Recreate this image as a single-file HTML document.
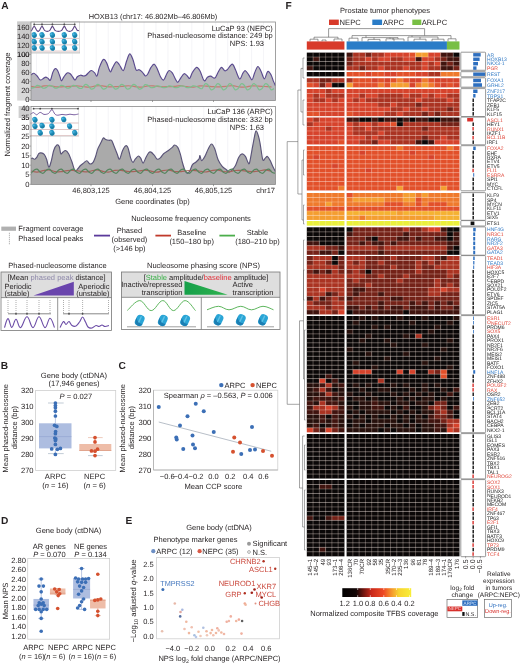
<!DOCTYPE html>
<html><head><meta charset="utf-8"><title>Figure</title>
<style>
html,body{margin:0;padding:0;background:#fff;}
body{width:520px;height:665px;overflow:hidden;}
svg{display:block;font-family:'Liberation Sans', Arial, sans-serif;text-rendering:geometricPrecision;fill:#231f20;}
</style></head><body>
<svg width="520" height="665" viewBox="0 0 520 665">
<rect x="0" y="0" width="520" height="665" fill="#fff"/>
<text x="1.2" y="9.2" font-size="10.2" font-weight="bold">A</text>
<text x="153" y="18.6" font-size="7.4" text-anchor="middle">HOXB13 (chr17: 46.802Mb–46.806Mb)</text>
<line x1="36.5" y1="22" x2="36.5" y2="100.4" stroke="#ececf2" stroke-width="0.6"/>
<line x1="48.45" y1="22" x2="48.45" y2="100.4" stroke="#ececf2" stroke-width="0.6"/>
<line x1="60.4" y1="22" x2="60.4" y2="100.4" stroke="#ececf2" stroke-width="0.6"/>
<line x1="72.35" y1="22" x2="72.35" y2="100.4" stroke="#ececf2" stroke-width="0.6"/>
<line x1="84.3" y1="22" x2="84.3" y2="100.4" stroke="#ececf2" stroke-width="0.6"/>
<line x1="96.25" y1="22" x2="96.25" y2="100.4" stroke="#ececf2" stroke-width="0.6"/>
<line x1="108.2" y1="22" x2="108.2" y2="100.4" stroke="#ececf2" stroke-width="0.6"/>
<line x1="120.15" y1="22" x2="120.15" y2="100.4" stroke="#ececf2" stroke-width="0.6"/>
<line x1="132.1" y1="22" x2="132.1" y2="100.4" stroke="#ececf2" stroke-width="0.6"/>
<line x1="144.05" y1="22" x2="144.05" y2="100.4" stroke="#ececf2" stroke-width="0.6"/>
<line x1="156" y1="22" x2="156" y2="100.4" stroke="#ececf2" stroke-width="0.6"/>
<line x1="167.95" y1="22" x2="167.95" y2="100.4" stroke="#ececf2" stroke-width="0.6"/>
<line x1="179.9" y1="22" x2="179.9" y2="100.4" stroke="#ececf2" stroke-width="0.6"/>
<line x1="191.85" y1="22" x2="191.85" y2="100.4" stroke="#ececf2" stroke-width="0.6"/>
<line x1="203.8" y1="22" x2="203.8" y2="100.4" stroke="#ececf2" stroke-width="0.6"/>
<line x1="215.75" y1="22" x2="215.75" y2="100.4" stroke="#ececf2" stroke-width="0.6"/>
<line x1="227.7" y1="22" x2="227.7" y2="100.4" stroke="#ececf2" stroke-width="0.6"/>
<line x1="239.65" y1="22" x2="239.65" y2="100.4" stroke="#ececf2" stroke-width="0.6"/>
<line x1="251.6" y1="22" x2="251.6" y2="100.4" stroke="#ececf2" stroke-width="0.6"/>
<line x1="263.55" y1="22" x2="263.55" y2="100.4" stroke="#ececf2" stroke-width="0.6"/>
<line x1="36.5" y1="106.4" x2="36.5" y2="184.4" stroke="#ececf2" stroke-width="0.6"/>
<line x1="48.45" y1="106.4" x2="48.45" y2="184.4" stroke="#ececf2" stroke-width="0.6"/>
<line x1="60.4" y1="106.4" x2="60.4" y2="184.4" stroke="#ececf2" stroke-width="0.6"/>
<line x1="72.35" y1="106.4" x2="72.35" y2="184.4" stroke="#ececf2" stroke-width="0.6"/>
<line x1="84.3" y1="106.4" x2="84.3" y2="184.4" stroke="#ececf2" stroke-width="0.6"/>
<line x1="96.25" y1="106.4" x2="96.25" y2="184.4" stroke="#ececf2" stroke-width="0.6"/>
<line x1="108.2" y1="106.4" x2="108.2" y2="184.4" stroke="#ececf2" stroke-width="0.6"/>
<line x1="120.15" y1="106.4" x2="120.15" y2="184.4" stroke="#ececf2" stroke-width="0.6"/>
<line x1="132.1" y1="106.4" x2="132.1" y2="184.4" stroke="#ececf2" stroke-width="0.6"/>
<line x1="144.05" y1="106.4" x2="144.05" y2="184.4" stroke="#ececf2" stroke-width="0.6"/>
<line x1="156" y1="106.4" x2="156" y2="184.4" stroke="#ececf2" stroke-width="0.6"/>
<line x1="167.95" y1="106.4" x2="167.95" y2="184.4" stroke="#ececf2" stroke-width="0.6"/>
<line x1="179.9" y1="106.4" x2="179.9" y2="184.4" stroke="#ececf2" stroke-width="0.6"/>
<line x1="191.85" y1="106.4" x2="191.85" y2="184.4" stroke="#ececf2" stroke-width="0.6"/>
<line x1="203.8" y1="106.4" x2="203.8" y2="184.4" stroke="#ececf2" stroke-width="0.6"/>
<line x1="215.75" y1="106.4" x2="215.75" y2="184.4" stroke="#ececf2" stroke-width="0.6"/>
<line x1="227.7" y1="106.4" x2="227.7" y2="184.4" stroke="#ececf2" stroke-width="0.6"/>
<line x1="239.65" y1="106.4" x2="239.65" y2="184.4" stroke="#ececf2" stroke-width="0.6"/>
<line x1="251.6" y1="106.4" x2="251.6" y2="184.4" stroke="#ececf2" stroke-width="0.6"/>
<line x1="263.55" y1="106.4" x2="263.55" y2="184.4" stroke="#ececf2" stroke-width="0.6"/>
<path d="M31,74.9C31.48,74.63 32.88,73.12 33.9,73.3C34.92,73.48 36.03,74.88 37.1,76C38.17,77.12 39.25,79.6 40.3,80C41.35,80.4 42.48,78.88 43.4,78.4C44.32,77.92 45.02,77.1 45.8,77.1C46.58,77.1 47.32,77.92 48.1,78.4C48.88,78.88 49.7,81.05 50.5,80C51.3,78.95 52.12,74 52.9,72.1C53.68,70.2 54.42,68.87 55.2,68.6C55.98,68.33 56.8,69.13 57.6,70.5C58.4,71.87 59.35,75.08 60,76.8C60.65,78.52 60.85,80.8 61.5,80.8C62.15,80.8 62.97,78.12 63.9,76.8C64.83,75.48 66.05,73.42 67.1,72.9C68.15,72.38 69.28,73.05 70.2,73.7C71.12,74.35 71.8,75.75 72.6,76.8C73.4,77.85 74.22,80 75,80C75.78,80 76.38,77.6 77.3,76.8C78.22,76 79.45,75.33 80.5,75.2C81.55,75.07 82.68,76 83.6,76C84.52,76 85.08,75.85 86,75.2C86.92,74.55 88.18,72.88 89.1,72.1C90.02,71.32 90.57,70.37 91.5,70.5C92.43,70.63 93.78,71.98 94.7,72.9C95.62,73.82 96.22,76.92 97,76C97.78,75.08 98.35,70.15 99.4,67.4C100.45,64.65 102.12,60.3 103.3,59.5C104.48,58.7 105.57,61.03 106.5,62.6C107.43,64.17 108.22,67.33 108.9,68.9C109.58,70.47 110.02,72.13 110.6,72C111.18,71.87 111.45,69.8 112.4,68.1C113.35,66.4 115.12,62.32 116.3,61.8C117.48,61.28 118.32,63.55 119.5,65C120.68,66.45 122.22,71.17 123.4,70.5C124.58,69.83 125.55,63.77 126.6,61C127.65,58.23 128.65,54.15 129.7,53.9C130.75,53.65 131.85,56.87 132.9,59.5C133.95,62.13 134.95,68 136,69.7C137.05,71.4 138.15,69.3 139.2,69.7C140.25,70.1 141.25,71.05 142.3,72.1C143.35,73.15 144.57,75.73 145.5,76C146.43,76.27 146.98,75.13 147.9,73.7C148.82,72.27 149.95,68.98 151,67.4C152.05,65.82 153.15,63.95 154.2,64.2C155.25,64.45 156.25,66.8 157.3,68.9C158.35,71 159.45,74.95 160.5,76.8C161.55,78.65 162.55,80.52 163.6,80C164.65,79.48 165.88,75.28 166.8,73.7C167.72,72.12 168.18,70.63 169.1,70.5C170.02,70.37 171.23,71.45 172.3,72.9C173.37,74.35 174.58,77.63 175.5,79.2C176.42,80.77 176.88,82.57 177.8,82.3C178.72,82.03 179.95,79.03 181,77.6C182.05,76.17 183.05,73.97 184.1,73.7C185.15,73.43 186.37,75.22 187.3,76C188.23,76.78 188.83,79.02 189.7,78.4C190.57,77.78 191.35,74.13 192.5,72.3C193.65,70.47 195.37,67.67 196.6,67.4C197.83,67.13 198.65,68.5 199.9,70.7C201.15,72.9 202.85,79.5 204.1,80.6C205.35,81.7 206.3,78.05 207.4,77.3C208.5,76.55 209.47,75.97 210.7,76.1C211.93,76.23 213.57,78.73 214.8,78.1C216.03,77.47 217,74.08 218.1,72.3C219.2,70.52 220.3,67.67 221.4,67.4C222.5,67.13 223.73,70.3 224.7,70.7C225.67,71.1 225.95,70.9 227.2,69.8C228.45,68.7 230.82,64.1 232.2,64.1C233.58,64.1 234.27,67.33 235.5,69.8C236.73,72.27 238.37,78.33 239.6,78.9C240.83,79.47 241.93,74.57 242.9,73.2C243.87,71.83 244.43,70.43 245.4,70.7C246.37,70.97 247.6,73.28 248.7,74.8C249.8,76.32 251.03,80.07 252,79.8C252.97,79.53 253.53,75.42 254.5,73.2C255.47,70.98 256.7,66.78 257.8,66.5C258.9,66.22 260,69.43 261.1,71.5C262.2,73.57 263.3,78.9 264.4,78.9C265.5,78.9 266.6,72.18 267.7,71.5C268.8,70.82 270.03,73.15 271,74.8C271.97,76.45 272.77,79.6 273.5,81.4C274.23,83.2 275.08,84.9 275.4,85.6 L275.4,100.4 L31,100.4 Z" fill="#b8b7bd"/>
<path d="M31,74.9C31.48,74.63 32.88,73.12 33.9,73.3C34.92,73.48 36.03,74.88 37.1,76C38.17,77.12 39.25,79.6 40.3,80C41.35,80.4 42.48,78.88 43.4,78.4C44.32,77.92 45.02,77.1 45.8,77.1C46.58,77.1 47.32,77.92 48.1,78.4C48.88,78.88 49.7,81.05 50.5,80C51.3,78.95 52.12,74 52.9,72.1C53.68,70.2 54.42,68.87 55.2,68.6C55.98,68.33 56.8,69.13 57.6,70.5C58.4,71.87 59.35,75.08 60,76.8C60.65,78.52 60.85,80.8 61.5,80.8C62.15,80.8 62.97,78.12 63.9,76.8C64.83,75.48 66.05,73.42 67.1,72.9C68.15,72.38 69.28,73.05 70.2,73.7C71.12,74.35 71.8,75.75 72.6,76.8C73.4,77.85 74.22,80 75,80C75.78,80 76.38,77.6 77.3,76.8C78.22,76 79.45,75.33 80.5,75.2C81.55,75.07 82.68,76 83.6,76C84.52,76 85.08,75.85 86,75.2C86.92,74.55 88.18,72.88 89.1,72.1C90.02,71.32 90.57,70.37 91.5,70.5C92.43,70.63 93.78,71.98 94.7,72.9C95.62,73.82 96.22,76.92 97,76C97.78,75.08 98.35,70.15 99.4,67.4C100.45,64.65 102.12,60.3 103.3,59.5C104.48,58.7 105.57,61.03 106.5,62.6C107.43,64.17 108.22,67.33 108.9,68.9C109.58,70.47 110.02,72.13 110.6,72C111.18,71.87 111.45,69.8 112.4,68.1C113.35,66.4 115.12,62.32 116.3,61.8C117.48,61.28 118.32,63.55 119.5,65C120.68,66.45 122.22,71.17 123.4,70.5C124.58,69.83 125.55,63.77 126.6,61C127.65,58.23 128.65,54.15 129.7,53.9C130.75,53.65 131.85,56.87 132.9,59.5C133.95,62.13 134.95,68 136,69.7C137.05,71.4 138.15,69.3 139.2,69.7C140.25,70.1 141.25,71.05 142.3,72.1C143.35,73.15 144.57,75.73 145.5,76C146.43,76.27 146.98,75.13 147.9,73.7C148.82,72.27 149.95,68.98 151,67.4C152.05,65.82 153.15,63.95 154.2,64.2C155.25,64.45 156.25,66.8 157.3,68.9C158.35,71 159.45,74.95 160.5,76.8C161.55,78.65 162.55,80.52 163.6,80C164.65,79.48 165.88,75.28 166.8,73.7C167.72,72.12 168.18,70.63 169.1,70.5C170.02,70.37 171.23,71.45 172.3,72.9C173.37,74.35 174.58,77.63 175.5,79.2C176.42,80.77 176.88,82.57 177.8,82.3C178.72,82.03 179.95,79.03 181,77.6C182.05,76.17 183.05,73.97 184.1,73.7C185.15,73.43 186.37,75.22 187.3,76C188.23,76.78 188.83,79.02 189.7,78.4C190.57,77.78 191.35,74.13 192.5,72.3C193.65,70.47 195.37,67.67 196.6,67.4C197.83,67.13 198.65,68.5 199.9,70.7C201.15,72.9 202.85,79.5 204.1,80.6C205.35,81.7 206.3,78.05 207.4,77.3C208.5,76.55 209.47,75.97 210.7,76.1C211.93,76.23 213.57,78.73 214.8,78.1C216.03,77.47 217,74.08 218.1,72.3C219.2,70.52 220.3,67.67 221.4,67.4C222.5,67.13 223.73,70.3 224.7,70.7C225.67,71.1 225.95,70.9 227.2,69.8C228.45,68.7 230.82,64.1 232.2,64.1C233.58,64.1 234.27,67.33 235.5,69.8C236.73,72.27 238.37,78.33 239.6,78.9C240.83,79.47 241.93,74.57 242.9,73.2C243.87,71.83 244.43,70.43 245.4,70.7C246.37,70.97 247.6,73.28 248.7,74.8C249.8,76.32 251.03,80.07 252,79.8C252.97,79.53 253.53,75.42 254.5,73.2C255.47,70.98 256.7,66.78 257.8,66.5C258.9,66.22 260,69.43 261.1,71.5C262.2,73.57 263.3,78.9 264.4,78.9C265.5,78.9 266.6,72.18 267.7,71.5C268.8,70.82 270.03,73.15 271,74.8C271.97,76.45 272.77,79.6 273.5,81.4C274.23,83.2 275.08,84.9 275.4,85.6" fill="none" stroke="#5a4a8e" stroke-width="1.15"/>
<path d="M31,158.6C31.23,158.52 31.78,158 32.4,158.1C33.02,158.2 33.92,159.42 34.7,159.2C35.48,158.98 36.43,157.72 37.1,156.8C37.77,155.88 38.05,154.35 38.7,153.7C39.35,153.05 40.08,152.78 41,152.9C41.92,153.02 43.27,153.35 44.2,154.4C45.13,155.45 45.82,157.08 46.6,159.2C47.38,161.32 48.12,166.83 48.9,167.1C49.68,167.37 50.5,163.57 51.3,160.8C52.1,158.03 52.78,153.13 53.7,150.5C54.62,147.87 55.88,145.65 56.8,145C57.72,144.35 58.53,145.15 59.2,146.6C59.87,148.05 60.15,152.78 60.8,153.7C61.45,154.62 62.32,152.63 63.1,152.1C63.88,151.57 64.58,150.23 65.5,150.5C66.42,150.77 67.55,151.87 68.6,153.7C69.65,155.53 70.73,158.62 71.8,161.5C72.87,164.38 74.08,169.68 75,171C75.92,172.32 76.38,170.32 77.3,169.4C78.22,168.48 79.45,166.55 80.5,165.5C81.55,164.45 82.55,163.88 83.6,163.1C84.65,162.32 85.75,160.67 86.8,160.8C87.85,160.93 88.85,163.65 89.9,163.9C90.95,164.15 92.17,163.48 93.1,162.3C94.03,161.12 94.72,159.03 95.5,156.8C96.28,154.57 96.88,151.27 97.8,148.9C98.72,146.53 100.08,144.43 101,142.6C101.92,140.77 102.52,138.42 103.3,137.9C104.08,137.38 104.77,139.1 105.7,139.5C106.63,139.9 107.92,140.17 108.9,140.3C109.88,140.43 110.77,139.38 111.6,140.3C112.43,141.22 112.98,143.57 113.9,145.8C114.82,148.03 116.17,151.47 117.1,153.7C118.03,155.93 118.58,159.73 119.5,159.2C120.42,158.67 121.55,152.73 122.6,150.5C123.65,148.27 124.88,146.2 125.8,145.8C126.72,145.4 127.32,146.13 128.1,148.1C128.88,150.07 129.7,155.23 130.5,157.6C131.3,159.97 132.12,162.03 132.9,162.3C133.68,162.57 134.28,160.25 135.2,159.2C136.12,158.15 137.47,156.13 138.4,156C139.33,155.87 140.02,157.22 140.8,158.4C141.58,159.58 142.32,163.1 143.1,163.1C143.88,163.1 144.58,160.1 145.5,158.4C146.42,156.7 147.68,153.95 148.6,152.9C149.52,151.85 150.07,151.72 151,152.1C151.93,152.48 153.15,154.02 154.2,155.2C155.25,156.38 156.25,158.8 157.3,159.2C158.35,159.6 159.45,158.52 160.5,157.6C161.55,156.68 162.28,154.88 163.6,153.7C164.92,152.52 166.95,151.55 168.4,150.5C169.85,149.45 171.25,148.32 172.3,147.4C173.35,146.48 173.78,145 174.7,145C175.62,145 176.88,145.95 177.8,147.4C178.72,148.85 179.4,151.08 180.2,153.7C181,156.32 181.82,160.35 182.6,163.1C183.38,165.85 184.12,168.48 184.9,170.2C185.68,171.92 186.5,173.27 187.3,173.4C188.1,173.53 188.83,172.45 189.7,171C190.57,169.55 191.48,166.17 192.5,164.7C193.52,163.23 194.7,163.17 195.8,162.2C196.9,161.23 198.42,160 199.1,158.9C199.78,157.8 199.48,155.32 199.9,155.6C200.32,155.88 200.77,160.47 201.6,160.6C202.43,160.73 203.8,158.33 204.9,156.4C206,154.47 207.1,151.07 208.2,149C209.3,146.93 210.4,144 211.5,144C212.6,144 213.7,146.38 214.8,149C215.9,151.62 216.87,156.82 218.1,159.7C219.33,162.58 220.82,164.63 222.2,166.3C223.58,167.97 225.28,168.73 226.4,169.7C227.52,170.67 227.93,172.1 228.9,172.1C229.87,172.1 231.1,170.8 232.2,169.7C233.3,168.6 234.4,167.58 235.5,165.5C236.6,163.42 237.7,159.13 238.8,157.2C239.9,155.27 241,154.03 242.1,153.9C243.2,153.77 244.43,155.02 245.4,156.4C246.37,157.78 247.22,161.1 247.9,162.2C248.58,163.3 248.82,165.07 249.5,163C250.18,160.93 251.17,154.2 252,149.8C252.83,145.4 253.82,139.77 254.5,136.6C255.18,133.43 255.42,130.8 256.1,130.8C256.78,130.8 257.9,134.27 258.6,136.6C259.3,138.93 259.6,140.95 260.3,144.8C261,148.65 261.98,157.48 262.8,159.7C263.62,161.92 264.43,158.65 265.2,158.1C265.97,157.55 266.57,155.98 267.4,156.4C268.23,156.82 269.32,158.95 270.2,160.6C271.08,162.25 271.83,164.48 272.7,166.3C273.57,168.12 274.95,170.63 275.4,171.5 L275.4,184.4 L31,184.4 Z" fill="#aaaaaa"/>
<path d="M31,158.6C31.23,158.52 31.78,158 32.4,158.1C33.02,158.2 33.92,159.42 34.7,159.2C35.48,158.98 36.43,157.72 37.1,156.8C37.77,155.88 38.05,154.35 38.7,153.7C39.35,153.05 40.08,152.78 41,152.9C41.92,153.02 43.27,153.35 44.2,154.4C45.13,155.45 45.82,157.08 46.6,159.2C47.38,161.32 48.12,166.83 48.9,167.1C49.68,167.37 50.5,163.57 51.3,160.8C52.1,158.03 52.78,153.13 53.7,150.5C54.62,147.87 55.88,145.65 56.8,145C57.72,144.35 58.53,145.15 59.2,146.6C59.87,148.05 60.15,152.78 60.8,153.7C61.45,154.62 62.32,152.63 63.1,152.1C63.88,151.57 64.58,150.23 65.5,150.5C66.42,150.77 67.55,151.87 68.6,153.7C69.65,155.53 70.73,158.62 71.8,161.5C72.87,164.38 74.08,169.68 75,171C75.92,172.32 76.38,170.32 77.3,169.4C78.22,168.48 79.45,166.55 80.5,165.5C81.55,164.45 82.55,163.88 83.6,163.1C84.65,162.32 85.75,160.67 86.8,160.8C87.85,160.93 88.85,163.65 89.9,163.9C90.95,164.15 92.17,163.48 93.1,162.3C94.03,161.12 94.72,159.03 95.5,156.8C96.28,154.57 96.88,151.27 97.8,148.9C98.72,146.53 100.08,144.43 101,142.6C101.92,140.77 102.52,138.42 103.3,137.9C104.08,137.38 104.77,139.1 105.7,139.5C106.63,139.9 107.92,140.17 108.9,140.3C109.88,140.43 110.77,139.38 111.6,140.3C112.43,141.22 112.98,143.57 113.9,145.8C114.82,148.03 116.17,151.47 117.1,153.7C118.03,155.93 118.58,159.73 119.5,159.2C120.42,158.67 121.55,152.73 122.6,150.5C123.65,148.27 124.88,146.2 125.8,145.8C126.72,145.4 127.32,146.13 128.1,148.1C128.88,150.07 129.7,155.23 130.5,157.6C131.3,159.97 132.12,162.03 132.9,162.3C133.68,162.57 134.28,160.25 135.2,159.2C136.12,158.15 137.47,156.13 138.4,156C139.33,155.87 140.02,157.22 140.8,158.4C141.58,159.58 142.32,163.1 143.1,163.1C143.88,163.1 144.58,160.1 145.5,158.4C146.42,156.7 147.68,153.95 148.6,152.9C149.52,151.85 150.07,151.72 151,152.1C151.93,152.48 153.15,154.02 154.2,155.2C155.25,156.38 156.25,158.8 157.3,159.2C158.35,159.6 159.45,158.52 160.5,157.6C161.55,156.68 162.28,154.88 163.6,153.7C164.92,152.52 166.95,151.55 168.4,150.5C169.85,149.45 171.25,148.32 172.3,147.4C173.35,146.48 173.78,145 174.7,145C175.62,145 176.88,145.95 177.8,147.4C178.72,148.85 179.4,151.08 180.2,153.7C181,156.32 181.82,160.35 182.6,163.1C183.38,165.85 184.12,168.48 184.9,170.2C185.68,171.92 186.5,173.27 187.3,173.4C188.1,173.53 188.83,172.45 189.7,171C190.57,169.55 191.48,166.17 192.5,164.7C193.52,163.23 194.7,163.17 195.8,162.2C196.9,161.23 198.42,160 199.1,158.9C199.78,157.8 199.48,155.32 199.9,155.6C200.32,155.88 200.77,160.47 201.6,160.6C202.43,160.73 203.8,158.33 204.9,156.4C206,154.47 207.1,151.07 208.2,149C209.3,146.93 210.4,144 211.5,144C212.6,144 213.7,146.38 214.8,149C215.9,151.62 216.87,156.82 218.1,159.7C219.33,162.58 220.82,164.63 222.2,166.3C223.58,167.97 225.28,168.73 226.4,169.7C227.52,170.67 227.93,172.1 228.9,172.1C229.87,172.1 231.1,170.8 232.2,169.7C233.3,168.6 234.4,167.58 235.5,165.5C236.6,163.42 237.7,159.13 238.8,157.2C239.9,155.27 241,154.03 242.1,153.9C243.2,153.77 244.43,155.02 245.4,156.4C246.37,157.78 247.22,161.1 247.9,162.2C248.58,163.3 248.82,165.07 249.5,163C250.18,160.93 251.17,154.2 252,149.8C252.83,145.4 253.82,139.77 254.5,136.6C255.18,133.43 255.42,130.8 256.1,130.8C256.78,130.8 257.9,134.27 258.6,136.6C259.3,138.93 259.6,140.95 260.3,144.8C261,148.65 261.98,157.48 262.8,159.7C263.62,161.92 264.43,158.65 265.2,158.1C265.97,157.55 266.57,155.98 267.4,156.4C268.23,156.82 269.32,158.95 270.2,160.6C271.08,162.25 271.83,164.48 272.7,166.3C273.57,168.12 274.95,170.63 275.4,171.5" fill="none" stroke="#5a5478" stroke-width="1.15"/>
<path d="M31,86.42C32.08,86.55 35.33,87.29 37.5,87.22C39.67,87.14 41.83,86.18 44,85.95C46.17,85.72 48.33,85.66 50.5,85.82C52.67,85.99 54.83,86.79 57,86.92C59.17,87.06 61.33,86.73 63.5,86.63C65.67,86.53 67.83,86.45 70,86.32C72.17,86.19 74.33,85.84 76.5,85.86C78.67,85.89 80.83,86.27 83,86.49C85.17,86.72 87.33,87.33 89.5,87.22C91.67,87.12 93.83,86.08 96,85.87C98.17,85.65 100.33,85.78 102.5,85.94C104.67,86.1 106.83,86.72 109,86.83C111.17,86.95 113.33,86.72 115.5,86.64C117.67,86.57 119.83,86.54 122,86.39C124.17,86.24 126.33,85.72 128.5,85.75C130.67,85.79 132.83,86.36 135,86.59C137.17,86.83 139.33,87.32 141.5,87.19C143.67,87.06 145.83,86.01 148,85.82C150.17,85.63 152.33,85.9 154.5,86.05C156.67,86.2 158.83,86.61 161,86.72C163.17,86.83 165.33,86.75 167.5,86.7C169.67,86.65 171.83,86.59 174,86.41C176.17,86.24 178.33,85.61 180.5,85.66C182.67,85.71 184.83,86.47 187,86.71C189.17,86.95 191.33,87.26 193.5,87.11C195.67,86.96 197.83,85.98 200,85.82C202.17,85.65 204.33,86 206.5,86.13C208.67,86.26 210.83,86.5 213,86.61C215.17,86.72 217.33,86.83 219.5,86.79C221.67,86.76 223.83,86.59 226,86.39C228.17,86.19 230.33,85.52 232.5,85.59C234.67,85.67 236.83,86.59 239,86.82C241.17,87.06 243.33,87.17 245.5,87.01C247.67,86.85 249.83,86 252,85.86C254.17,85.72 256.33,86.06 258.5,86.17C260.67,86.28 262.83,86.38 265,86.5C267.17,86.63 270.42,86.84 271.5,86.9" fill="none" stroke="#c47c72" stroke-width="1.2"/>
<path d="M31,88.15C31.5,88.07 33,88.11 34,87.66C35,87.22 36,85.74 37,85.45C38,85.17 39,85.49 40,85.94C41,86.38 42,87.86 43,88.15C44,88.43 45,88.11 46,87.66C47,87.22 48,85.74 49,85.45C50,85.17 51,85.49 52,85.94C53,86.38 54,87.86 55,88.15C56,88.43 57,88.11 58,87.66C59,87.22 60,85.74 61,85.45C62,85.17 63,85.49 64,85.94C65,86.38 66,87.86 67,88.15C68,88.43 69,88.11 70,87.66C71,87.22 72,85.74 73,85.45C74,85.17 75,85.49 76,85.94C77,86.38 78,87.77 79,88.15C80,88.52 81,88.79 82,88.2C83,87.62 84,85.08 85,84.61C86,84.14 87,84.67 88,85.4C89,86.12 90,88.52 91,88.99C92,89.46 93,88.93 94,88.2C95,87.48 96,85.08 97,84.61C98,84.14 99,84.67 100,85.4C101,86.12 102,88.52 103,88.99C104,89.46 105,88.93 106,88.2C107,87.48 108,85.08 109,84.61C110,84.14 111,84.67 112,85.4C113,86.12 114,88.52 115,88.99C116,89.46 117,88.93 118,88.2C119,87.48 120,85.08 121,84.61C122,84.14 123,84.67 124,85.4C125,86.12 126,88.52 127,88.99C128,89.46 129,88.93 130,88.2C131,87.48 132,85.08 133,84.61C134,84.14 135,84.67 136,85.4C137,86.12 138,88.52 139,88.99C140,89.46 141,88.93 142,88.2C143,87.48 144,85.08 145,84.61C146,84.14 147,84.89 148,85.4C149,85.9 150,87.32 151,87.64C152,87.97 153,87.62 154,87.34C155,87.06 156,86.14 157,85.96C158,85.78 159,85.98 160,86.26C161,86.54 162,87.46 163,87.64C164,87.82 165,87.62 166,87.34C167,87.06 168,86.14 169,85.96C170,85.78 171,85.98 172,86.26C173,86.54 174,87.46 175,87.64C176,87.82 177,87.62 178,87.34C179,87.06 180,86.14 181,85.96C182,85.78 183,85.98 184,86.26C185,86.54 186,87.46 187,87.64C188,87.82 189,87.62 190,87.34C191,87.06 192,86.14 193,85.96C194,85.78 195,85.98 196,86.26C197,86.54 198,87.25 199,87.64C200,88.04 201,89.25 202,88.64C203,88.02 204,84.55 205,83.94C206,83.33 207,84.01 208,84.96C209,85.92 210,89.05 211,89.66C212,90.27 213,89.59 214,88.64C215,87.68 216,84.55 217,83.94C218,83.33 219,84.01 220,84.96C221,85.92 222,89.05 223,89.66C224,90.27 225,89.59 226,88.64C227,87.68 228,84.55 229,83.94C230,83.33 231,84.01 232,84.96C233,85.92 234,89.05 235,89.66C236,90.27 237,89.59 238,88.64C239,87.68 240,84.55 241,83.94C242,83.33 243,84.01 244,84.96C245,85.92 246,89.05 247,89.66C248,90.27 249,89.59 250,88.64C251,87.68 252,84.55 253,83.94C254,83.33 255,84.01 256,84.96C257,85.92 258,89.05 259,89.66C260,90.27 261,89.59 262,88.64C263,87.68 264,84.55 265,83.94C266,83.33 267,84.01 268,84.96C269,85.92 270,89.05 271,89.66C272,90.27 273.5,88.81 274,88.64" fill="none" stroke="#7cc08e" stroke-width="1.2"/>
<path d="M31,171C32,171.19 35,172.18 37,172.13C39,172.08 41,171.04 43,170.67C45,170.31 47,169.79 49,169.94C51,170.09 53,171.27 55,171.57C57,171.86 59,171.85 61,171.7C63,171.54 65,170.84 67,170.63C69,170.42 71,170.36 73,170.43C75,170.49 77,170.78 79,171.02C81,171.26 83,171.88 85,171.87C87,171.86 89,171.3 91,170.97C93,170.63 95,169.78 97,169.85C99,169.92 101,171.03 103,171.39C105,171.75 107,172.16 109,172.01C111,171.85 113,170.71 115,170.44C117,170.16 119,170.21 121,170.35C123,170.5 125,171.1 127,171.31C129,171.51 131,171.65 133,171.6C135,171.55 137,171.26 139,171.01C141,170.75 143,170.06 145,170.07C147,170.08 149,170.73 151,171.08C153,171.43 155,172.25 157,172.16C159,172.07 161,170.91 163,170.56C165,170.21 167,169.89 169,170.05C171,170.22 173,171.29 175,171.55C177,171.81 179,171.74 181,171.61C183,171.48 185,170.96 187,170.76C189,170.55 191,170.33 193,170.36C195,170.4 197,170.7 199,170.97C201,171.24 203,172.01 205,171.99C207,171.97 209,171.23 211,170.87C213,170.51 215,169.74 217,169.85C219,169.95 221,171.15 223,171.49C225,171.83 227,172.06 229,171.89C231,171.72 233,170.72 235,170.48C237,170.23 239,170.3 241,170.42C243,170.54 245,170.97 247,171.18C249,171.39 251,171.71 253,171.68C255,171.66 257,171.32 259,171.03C261,170.75 263,169.93 265,169.96C267,169.98 270,170.98 271,171.19" fill="none" stroke="#a8625a" stroke-width="1.2"/>
<path d="M31,173.29C31.51,172.78 33.03,170.94 34.05,170.24C35.07,169.55 36.08,168.79 37.1,169.11C38.12,169.43 39.13,171.46 40.15,172.16C41.17,172.85 42.18,173.61 43.2,173.29C44.22,172.97 45.23,170.94 46.25,170.24C47.27,169.55 48.28,168.79 49.3,169.11C50.32,169.43 51.33,171.46 52.35,172.16C53.37,172.85 54.38,173.61 55.4,173.29C56.42,172.97 57.43,170.94 58.45,170.24C59.47,169.55 60.48,168.79 61.5,169.11C62.52,169.43 63.53,171.46 64.55,172.16C65.57,172.85 66.58,173.61 67.6,173.29C68.62,172.97 69.63,170.94 70.65,170.24C71.67,169.55 72.68,168.79 73.7,169.11C74.72,169.43 75.73,171.46 76.75,172.16C77.77,172.85 78.78,173.61 79.8,173.29C80.82,172.97 81.83,170.94 82.85,170.24C83.87,169.55 84.88,168.79 85.9,169.11C86.92,169.43 87.93,171.46 88.95,172.16C89.97,172.85 90.98,173.61 92,173.29C93.02,172.97 94.03,170.94 95.05,170.24C96.07,169.55 97.08,168.79 98.1,169.11C99.12,169.43 100.13,171.46 101.15,172.16C102.17,172.85 103.18,173.61 104.2,173.29C105.22,172.97 106.23,170.94 107.25,170.24C108.27,169.55 109.28,168.79 110.3,169.11C111.32,169.43 112.33,171.46 113.35,172.16C114.37,172.85 115.38,173.61 116.4,173.29C117.42,172.97 118.43,170.94 119.45,170.24C120.47,169.55 121.48,168.79 122.5,169.11C123.52,169.43 124.53,171.46 125.55,172.16C126.57,172.85 127.58,173.61 128.6,173.29C129.62,172.97 130.63,170.94 131.65,170.24C132.67,169.55 133.68,168.79 134.7,169.11C135.72,169.43 136.73,171.46 137.75,172.16C138.77,172.85 139.78,173.61 140.8,173.29C141.82,172.97 142.83,170.94 143.85,170.24C144.87,169.55 145.88,168.79 146.9,169.11C147.92,169.43 148.93,171.46 149.95,172.16C150.97,172.85 151.98,173.61 153,173.29C154.02,172.97 155.03,170.94 156.05,170.24C157.07,169.55 158.08,168.79 159.1,169.11C160.12,169.43 161.13,171.46 162.15,172.16C163.17,172.85 164.18,173.61 165.2,173.29C166.22,172.97 167.23,170.94 168.25,170.24C169.27,169.55 170.28,168.79 171.3,169.11C172.32,169.43 173.33,171.46 174.35,172.16C175.37,172.85 176.38,173.61 177.4,173.29C178.42,172.97 179.43,170.94 180.45,170.24C181.47,169.55 182.48,168.79 183.5,169.11C184.52,169.43 185.53,171.46 186.55,172.16C187.57,172.85 188.58,173.61 189.6,173.29C190.62,172.97 191.63,170.94 192.65,170.24C193.67,169.55 194.68,168.79 195.7,169.11C196.72,169.43 197.73,171.46 198.75,172.16C199.77,172.85 200.78,173.61 201.8,173.29C202.82,172.97 203.83,170.94 204.85,170.24C205.87,169.55 206.88,168.79 207.9,169.11C208.92,169.43 209.93,171.46 210.95,172.16C211.97,172.85 212.98,173.61 214,173.29C215.02,172.97 216.03,170.94 217.05,170.24C218.07,169.55 219.08,168.79 220.1,169.11C221.12,169.43 222.13,171.46 223.15,172.16C224.17,172.85 225.18,173.61 226.2,173.29C227.22,172.97 228.23,170.94 229.25,170.24C230.27,169.55 231.28,168.79 232.3,169.11C233.32,169.43 234.33,171.46 235.35,172.16C236.37,172.85 237.38,173.61 238.4,173.29C239.42,172.97 240.43,170.94 241.45,170.24C242.47,169.55 243.48,168.79 244.5,169.11C245.52,169.43 246.53,171.46 247.55,172.16C248.57,172.85 249.58,173.61 250.6,173.29C251.62,172.97 252.63,170.94 253.65,170.24C254.67,169.55 255.68,168.79 256.7,169.11C257.72,169.43 258.73,171.46 259.75,172.16C260.77,172.85 261.78,173.61 262.8,173.29C263.82,172.97 264.83,170.94 265.85,170.24C266.87,169.55 267.88,168.79 268.9,169.11C269.92,169.43 270.93,171.46 271.95,172.16C272.97,172.85 274.49,173.1 275,173.29" fill="none" stroke="#55855e" stroke-width="1.2"/>
<rect x="17.2" y="21.5" width="13.5" height="79.1" fill="#d9d9d9"/>
<text x="29.6" y="102.1" font-size="7.6" text-anchor="end">0</text>
<line x1="29.6" y1="99.5" x2="31" y2="99.5" stroke="#777" stroke-width="0.6"/>
<text x="29.6" y="93.07" font-size="7.6" text-anchor="end">20</text>
<line x1="29.6" y1="90.47" x2="31" y2="90.47" stroke="#777" stroke-width="0.6"/>
<text x="29.6" y="84.04" font-size="7.6" text-anchor="end">40</text>
<line x1="29.6" y1="81.44" x2="31" y2="81.44" stroke="#777" stroke-width="0.6"/>
<text x="29.6" y="75.01" font-size="7.6" text-anchor="end">60</text>
<line x1="29.6" y1="72.41" x2="31" y2="72.41" stroke="#777" stroke-width="0.6"/>
<text x="29.6" y="65.98" font-size="7.6" text-anchor="end">80</text>
<line x1="29.6" y1="63.38" x2="31" y2="63.38" stroke="#777" stroke-width="0.6"/>
<text x="29.6" y="56.95" font-size="7.6" text-anchor="end">100</text>
<line x1="29.6" y1="54.35" x2="31" y2="54.35" stroke="#777" stroke-width="0.6"/>
<text x="29.6" y="47.92" font-size="7.6" text-anchor="end">120</text>
<line x1="29.6" y1="45.32" x2="31" y2="45.32" stroke="#777" stroke-width="0.6"/>
<text x="29.6" y="38.89" font-size="7.6" text-anchor="end">140</text>
<line x1="29.6" y1="36.29" x2="31" y2="36.29" stroke="#777" stroke-width="0.6"/>
<text x="29.6" y="29.86" font-size="7.6" text-anchor="end">160</text>
<line x1="29.6" y1="27.26" x2="31" y2="27.26" stroke="#777" stroke-width="0.6"/>
<text x="29.6" y="186.9" font-size="7.6" text-anchor="end">0</text>
<line x1="29.6" y1="184.3" x2="31" y2="184.3" stroke="#777" stroke-width="0.6"/>
<text x="29.6" y="177.35" font-size="7.6" text-anchor="end">5</text>
<line x1="29.6" y1="174.75" x2="31" y2="174.75" stroke="#777" stroke-width="0.6"/>
<text x="29.6" y="167.8" font-size="7.6" text-anchor="end">10</text>
<line x1="29.6" y1="165.2" x2="31" y2="165.2" stroke="#777" stroke-width="0.6"/>
<text x="29.6" y="158.25" font-size="7.6" text-anchor="end">15</text>
<line x1="29.6" y1="155.65" x2="31" y2="155.65" stroke="#777" stroke-width="0.6"/>
<text x="29.6" y="148.7" font-size="7.6" text-anchor="end">20</text>
<line x1="29.6" y1="146.1" x2="31" y2="146.1" stroke="#777" stroke-width="0.6"/>
<text x="29.6" y="139.15" font-size="7.6" text-anchor="end">25</text>
<line x1="29.6" y1="136.55" x2="31" y2="136.55" stroke="#777" stroke-width="0.6"/>
<text x="29.6" y="129.6" font-size="7.6" text-anchor="end">30</text>
<line x1="29.6" y1="127" x2="31" y2="127" stroke="#777" stroke-width="0.6"/>
<text x="29.6" y="120.05" font-size="7.6" text-anchor="end">35</text>
<line x1="29.6" y1="117.45" x2="31" y2="117.45" stroke="#777" stroke-width="0.6"/>
<text x="29.6" y="110.5" font-size="7.6" text-anchor="end">40</text>
<line x1="29.6" y1="107.9" x2="31" y2="107.9" stroke="#777" stroke-width="0.6"/>
<rect x="17.2" y="21.5" width="62.8" height="32" fill="#cbcbcb"/>
<rect x="31" y="22" width="48.3" height="30.2" fill="#fff"/>
<line x1="31" y1="38.4" x2="79" y2="38.4" stroke="#c9a0a0" stroke-width="0.6"/>
<line x1="31" y1="44.9" x2="79" y2="44.9" stroke="#c9a0a0" stroke-width="0.6"/>
<line x1="31" y1="51.1" x2="79" y2="51.1" stroke="#c9a0a0" stroke-width="0.6"/>
<line x1="34.2" y1="24.4" x2="74.7" y2="24.4" stroke="#555" stroke-width="0.7"/>
<circle cx="34.2" cy="24.4" r="0.9" fill="#444"/>
<line x1="34.2" y1="22.3" x2="34.2" y2="26.3" stroke="#666" stroke-width="0.4"/>
<circle cx="42" cy="24.4" r="0.9" fill="#444"/>
<line x1="42" y1="22.3" x2="42" y2="26.3" stroke="#666" stroke-width="0.4"/>
<circle cx="52.4" cy="24.4" r="0.9" fill="#444"/>
<line x1="52.4" y1="22.3" x2="52.4" y2="26.3" stroke="#666" stroke-width="0.4"/>
<circle cx="64.3" cy="24.4" r="0.9" fill="#444"/>
<line x1="64.3" y1="22.3" x2="64.3" y2="26.3" stroke="#666" stroke-width="0.4"/>
<circle cx="74.7" cy="24.4" r="0.9" fill="#444"/>
<line x1="74.7" y1="22.3" x2="74.7" y2="26.3" stroke="#666" stroke-width="0.4"/>
<path d="M31,30.8C31.1,30.73 31.07,31.13 31.6,30.4C32.13,29.67 33.33,26.4 34.2,26.4C35.07,26.4 36.15,29.57 36.8,30.4C37.45,31.23 37.67,31.4 38.1,31.4C38.53,31.4 38.75,31.23 39.4,30.4C40.05,29.57 41.13,26.4 42,26.4C42.87,26.4 43.73,29.57 44.6,30.4C45.47,31.23 46.33,31.4 47.2,31.4C48.07,31.4 48.93,31.23 49.8,30.4C50.67,29.57 51.53,26.4 52.4,26.4C53.27,26.4 54.01,29.57 55,30.4C55.99,31.23 57.23,31.4 58.35,31.4C59.47,31.4 60.71,31.23 61.7,30.4C62.69,29.57 63.43,26.4 64.3,26.4C65.17,26.4 66.03,29.57 66.9,30.4C67.77,31.23 68.63,31.4 69.5,31.4C70.37,31.4 71.23,31.23 72.1,30.4C72.97,29.57 73.83,26.4 74.7,26.4C75.57,26.4 76.58,29.72 77.3,30.4C78.02,31.08 78.72,30.48 79,30.5" fill="none" stroke="#5e4484" stroke-width="1.1"/>
<g transform="translate(34.2,35) rotate(-20)"><ellipse cx="0" cy="0" rx="2.56" ry="2.92" fill="#2596c4"/><path d="M-2.43,0.6 Q-1.62,2.84 0.4,2.84 Q2.43,2.16 2.56,-0.2 Q0,1.6 -2.43,0.6Z" fill="#19799f" opacity="0.8"/><ellipse cx="-0.81" cy="-1.22" rx="1.08" ry="0.81" fill="#6fd0f0" opacity="0.6"/></g>
<g transform="translate(42,35) rotate(-20)"><ellipse cx="0" cy="0" rx="2.56" ry="2.92" fill="#2596c4"/><path d="M-2.43,0.6 Q-1.62,2.84 0.4,2.84 Q2.43,2.16 2.56,-0.2 Q0,1.6 -2.43,0.6Z" fill="#19799f" opacity="0.8"/><ellipse cx="-0.81" cy="-1.22" rx="1.08" ry="0.81" fill="#6fd0f0" opacity="0.6"/></g>
<g transform="translate(52.4,35) rotate(-20)"><ellipse cx="0" cy="0" rx="2.56" ry="2.92" fill="#2596c4"/><path d="M-2.43,0.6 Q-1.62,2.84 0.4,2.84 Q2.43,2.16 2.56,-0.2 Q0,1.6 -2.43,0.6Z" fill="#19799f" opacity="0.8"/><ellipse cx="-0.81" cy="-1.22" rx="1.08" ry="0.81" fill="#6fd0f0" opacity="0.6"/></g>
<g transform="translate(64.3,35) rotate(-20)"><ellipse cx="0" cy="0" rx="2.56" ry="2.92" fill="#2596c4"/><path d="M-2.43,0.6 Q-1.62,2.84 0.4,2.84 Q2.43,2.16 2.56,-0.2 Q0,1.6 -2.43,0.6Z" fill="#19799f" opacity="0.8"/><ellipse cx="-0.81" cy="-1.22" rx="1.08" ry="0.81" fill="#6fd0f0" opacity="0.6"/></g>
<g transform="translate(74.7,35) rotate(-20)"><ellipse cx="0" cy="0" rx="2.56" ry="2.92" fill="#2596c4"/><path d="M-2.43,0.6 Q-1.62,2.84 0.4,2.84 Q2.43,2.16 2.56,-0.2 Q0,1.6 -2.43,0.6Z" fill="#19799f" opacity="0.8"/><ellipse cx="-0.81" cy="-1.22" rx="1.08" ry="0.81" fill="#6fd0f0" opacity="0.6"/></g>
<g transform="translate(34.2,41.6) rotate(-20)"><ellipse cx="0" cy="0" rx="2.56" ry="2.92" fill="#2596c4"/><path d="M-2.43,0.6 Q-1.62,2.84 0.4,2.84 Q2.43,2.16 2.56,-0.2 Q0,1.6 -2.43,0.6Z" fill="#19799f" opacity="0.8"/><ellipse cx="-0.81" cy="-1.22" rx="1.08" ry="0.81" fill="#6fd0f0" opacity="0.6"/></g>
<g transform="translate(42,41.6) rotate(-20)"><ellipse cx="0" cy="0" rx="2.56" ry="2.92" fill="#2596c4"/><path d="M-2.43,0.6 Q-1.62,2.84 0.4,2.84 Q2.43,2.16 2.56,-0.2 Q0,1.6 -2.43,0.6Z" fill="#19799f" opacity="0.8"/><ellipse cx="-0.81" cy="-1.22" rx="1.08" ry="0.81" fill="#6fd0f0" opacity="0.6"/></g>
<g transform="translate(52.4,41.6) rotate(-20)"><ellipse cx="0" cy="0" rx="2.56" ry="2.92" fill="#2596c4"/><path d="M-2.43,0.6 Q-1.62,2.84 0.4,2.84 Q2.43,2.16 2.56,-0.2 Q0,1.6 -2.43,0.6Z" fill="#19799f" opacity="0.8"/><ellipse cx="-0.81" cy="-1.22" rx="1.08" ry="0.81" fill="#6fd0f0" opacity="0.6"/></g>
<g transform="translate(64.3,41.6) rotate(-20)"><ellipse cx="0" cy="0" rx="2.56" ry="2.92" fill="#2596c4"/><path d="M-2.43,0.6 Q-1.62,2.84 0.4,2.84 Q2.43,2.16 2.56,-0.2 Q0,1.6 -2.43,0.6Z" fill="#19799f" opacity="0.8"/><ellipse cx="-0.81" cy="-1.22" rx="1.08" ry="0.81" fill="#6fd0f0" opacity="0.6"/></g>
<g transform="translate(74.7,41.6) rotate(-20)"><ellipse cx="0" cy="0" rx="2.56" ry="2.92" fill="#2596c4"/><path d="M-2.43,0.6 Q-1.62,2.84 0.4,2.84 Q2.43,2.16 2.56,-0.2 Q0,1.6 -2.43,0.6Z" fill="#19799f" opacity="0.8"/><ellipse cx="-0.81" cy="-1.22" rx="1.08" ry="0.81" fill="#6fd0f0" opacity="0.6"/></g>
<g transform="translate(34.2,47.9) rotate(-20)"><ellipse cx="0" cy="0" rx="2.56" ry="2.92" fill="#2596c4"/><path d="M-2.43,0.6 Q-1.62,2.84 0.4,2.84 Q2.43,2.16 2.56,-0.2 Q0,1.6 -2.43,0.6Z" fill="#19799f" opacity="0.8"/><ellipse cx="-0.81" cy="-1.22" rx="1.08" ry="0.81" fill="#6fd0f0" opacity="0.6"/></g>
<g transform="translate(42,47.9) rotate(-20)"><ellipse cx="0" cy="0" rx="2.56" ry="2.92" fill="#2596c4"/><path d="M-2.43,0.6 Q-1.62,2.84 0.4,2.84 Q2.43,2.16 2.56,-0.2 Q0,1.6 -2.43,0.6Z" fill="#19799f" opacity="0.8"/><ellipse cx="-0.81" cy="-1.22" rx="1.08" ry="0.81" fill="#6fd0f0" opacity="0.6"/></g>
<g transform="translate(52.4,47.9) rotate(-20)"><ellipse cx="0" cy="0" rx="2.56" ry="2.92" fill="#2596c4"/><path d="M-2.43,0.6 Q-1.62,2.84 0.4,2.84 Q2.43,2.16 2.56,-0.2 Q0,1.6 -2.43,0.6Z" fill="#19799f" opacity="0.8"/><ellipse cx="-0.81" cy="-1.22" rx="1.08" ry="0.81" fill="#6fd0f0" opacity="0.6"/></g>
<g transform="translate(64.3,47.9) rotate(-20)"><ellipse cx="0" cy="0" rx="2.56" ry="2.92" fill="#2596c4"/><path d="M-2.43,0.6 Q-1.62,2.84 0.4,2.84 Q2.43,2.16 2.56,-0.2 Q0,1.6 -2.43,0.6Z" fill="#19799f" opacity="0.8"/><ellipse cx="-0.81" cy="-1.22" rx="1.08" ry="0.81" fill="#6fd0f0" opacity="0.6"/></g>
<g transform="translate(74.7,47.9) rotate(-20)"><ellipse cx="0" cy="0" rx="2.56" ry="2.92" fill="#2596c4"/><path d="M-2.43,0.6 Q-1.62,2.84 0.4,2.84 Q2.43,2.16 2.56,-0.2 Q0,1.6 -2.43,0.6Z" fill="#19799f" opacity="0.8"/><ellipse cx="-0.81" cy="-1.22" rx="1.08" ry="0.81" fill="#6fd0f0" opacity="0.6"/></g>
<text x="29.6" y="56.95" font-size="7.6" text-anchor="end">100</text>
<text x="29.6" y="47.92" font-size="7.6" text-anchor="end">120</text>
<text x="29.6" y="38.89" font-size="7.6" text-anchor="end">140</text>
<text x="29.6" y="29.86" font-size="7.6" text-anchor="end">160</text>
<rect x="18.6" y="106" width="11.4" height="12" fill="#cfcfcf"/>
<rect x="29.8" y="106.4" width="49" height="29.8" fill="#fff" stroke="#c8c8c8" stroke-width="0.5"/>
<line x1="30" y1="123" x2="78.5" y2="123" stroke="#c9a0a0" stroke-width="0.6"/>
<line x1="30" y1="129.5" x2="78.5" y2="129.5" stroke="#c9a0a0" stroke-width="0.6"/>
<line x1="30" y1="135.6" x2="78.5" y2="135.6" stroke="#c9a0a0" stroke-width="0.6"/>
<line x1="33.6" y1="108.7" x2="78" y2="108.7" stroke="#555" stroke-width="0.7"/>
<circle cx="33.6" cy="108.7" r="0.9" fill="#444"/>
<circle cx="40.2" cy="108.7" r="0.9" fill="#444"/>
<circle cx="51.9" cy="108.7" r="0.9" fill="#444"/>
<circle cx="78" cy="108.7" r="0.9" fill="#444"/>
<path d="M30,114.5C30.6,114.18 32.52,112.55 33.6,112.6C34.68,112.65 35.4,114.83 36.5,114.8C37.6,114.77 38.95,112.47 40.2,112.4C41.45,112.33 42.62,114.22 44,114.4C45.38,114.58 47.18,114.3 48.5,113.5C49.82,112.7 50.82,109.48 51.9,109.6C52.98,109.72 53.98,113.27 55,114.2C56.02,115.13 56.83,115.17 58,115.2C59.17,115.23 60.67,114.45 62,114.4C63.33,114.35 64.67,114.93 66,114.9C67.33,114.87 68.67,114.22 70,114.2C71.33,114.18 72.58,114.83 74,114.8C75.42,114.77 77.75,114.13 78.5,114" fill="none" stroke="#6c4f96" stroke-width="0.9"/>
<g transform="translate(34.9,119.7) rotate(-20)"><ellipse cx="0" cy="0" rx="2.56" ry="2.92" fill="#2596c4"/><path d="M-2.43,0.6 Q-1.62,2.84 0.4,2.84 Q2.43,2.16 2.56,-0.2 Q0,1.6 -2.43,0.6Z" fill="#19799f" opacity="0.8"/><ellipse cx="-0.81" cy="-1.22" rx="1.08" ry="0.81" fill="#6fd0f0" opacity="0.6"/></g>
<g transform="translate(34.9,126.2) rotate(-20)"><ellipse cx="0" cy="0" rx="2.56" ry="2.92" fill="#2596c4"/><path d="M-2.43,0.6 Q-1.62,2.84 0.4,2.84 Q2.43,2.16 2.56,-0.2 Q0,1.6 -2.43,0.6Z" fill="#19799f" opacity="0.8"/><ellipse cx="-0.81" cy="-1.22" rx="1.08" ry="0.81" fill="#6fd0f0" opacity="0.6"/></g>
<g transform="translate(42.1,125.6) rotate(-20)"><ellipse cx="0" cy="0" rx="2.56" ry="2.92" fill="#2596c4"/><path d="M-2.43,0.6 Q-1.62,2.84 0.4,2.84 Q2.43,2.16 2.56,-0.2 Q0,1.6 -2.43,0.6Z" fill="#19799f" opacity="0.8"/><ellipse cx="-0.81" cy="-1.22" rx="1.08" ry="0.81" fill="#6fd0f0" opacity="0.6"/></g>
<g transform="translate(40.2,132.8) rotate(-20)"><ellipse cx="0" cy="0" rx="2.56" ry="2.92" fill="#2596c4"/><path d="M-2.43,0.6 Q-1.62,2.84 0.4,2.84 Q2.43,2.16 2.56,-0.2 Q0,1.6 -2.43,0.6Z" fill="#19799f" opacity="0.8"/><ellipse cx="-0.81" cy="-1.22" rx="1.08" ry="0.81" fill="#6fd0f0" opacity="0.6"/></g>
<g transform="translate(51.9,119.7) rotate(-20)"><ellipse cx="0" cy="0" rx="2.56" ry="2.92" fill="#2596c4"/><path d="M-2.43,0.6 Q-1.62,2.84 0.4,2.84 Q2.43,2.16 2.56,-0.2 Q0,1.6 -2.43,0.6Z" fill="#19799f" opacity="0.8"/><ellipse cx="-0.81" cy="-1.22" rx="1.08" ry="0.81" fill="#6fd0f0" opacity="0.6"/></g>
<g transform="translate(51.9,126.2) rotate(-20)"><ellipse cx="0" cy="0" rx="2.56" ry="2.92" fill="#2596c4"/><path d="M-2.43,0.6 Q-1.62,2.84 0.4,2.84 Q2.43,2.16 2.56,-0.2 Q0,1.6 -2.43,0.6Z" fill="#19799f" opacity="0.8"/><ellipse cx="-0.81" cy="-1.22" rx="1.08" ry="0.81" fill="#6fd0f0" opacity="0.6"/></g>
<g transform="translate(51.9,132.8) rotate(-20)"><ellipse cx="0" cy="0" rx="2.56" ry="2.92" fill="#2596c4"/><path d="M-2.43,0.6 Q-1.62,2.84 0.4,2.84 Q2.43,2.16 2.56,-0.2 Q0,1.6 -2.43,0.6Z" fill="#19799f" opacity="0.8"/><ellipse cx="-0.81" cy="-1.22" rx="1.08" ry="0.81" fill="#6fd0f0" opacity="0.6"/></g>
<g transform="translate(63.7,119.4) rotate(-20)"><ellipse cx="0" cy="0" rx="2.56" ry="2.92" fill="#2596c4"/><path d="M-2.43,0.6 Q-1.62,2.84 0.4,2.84 Q2.43,2.16 2.56,-0.2 Q0,1.6 -2.43,0.6Z" fill="#19799f" opacity="0.8"/><ellipse cx="-0.81" cy="-1.22" rx="1.08" ry="0.81" fill="#6fd0f0" opacity="0.6"/></g>
<g transform="translate(69.6,126.2) rotate(-20)"><ellipse cx="0" cy="0" rx="2.56" ry="2.92" fill="#2596c4"/><path d="M-2.43,0.6 Q-1.62,2.84 0.4,2.84 Q2.43,2.16 2.56,-0.2 Q0,1.6 -2.43,0.6Z" fill="#19799f" opacity="0.8"/><ellipse cx="-0.81" cy="-1.22" rx="1.08" ry="0.81" fill="#6fd0f0" opacity="0.6"/></g>
<g transform="translate(74.8,132.8) rotate(-20)"><ellipse cx="0" cy="0" rx="2.56" ry="2.92" fill="#2596c4"/><path d="M-2.43,0.6 Q-1.62,2.84 0.4,2.84 Q2.43,2.16 2.56,-0.2 Q0,1.6 -2.43,0.6Z" fill="#19799f" opacity="0.8"/><ellipse cx="-0.81" cy="-1.22" rx="1.08" ry="0.81" fill="#6fd0f0" opacity="0.6"/></g>
<text x="29.6" y="120.05" font-size="7.6" text-anchor="end">35</text>
<text x="29.6" y="110.5" font-size="7.6" text-anchor="end">40</text>
<rect x="31" y="22" width="244.4" height="78.4" fill="none" stroke="#8a8a8a" stroke-width="0.8"/>
<rect x="31" y="106.4" width="244.4" height="78" fill="none" stroke="#8a8a8a" stroke-width="0.8"/>
<line x1="91" y1="184.4" x2="91" y2="186.2" stroke="#666" stroke-width="0.6"/>
<line x1="91" y1="100.4" x2="91" y2="102" stroke="#666" stroke-width="0.6"/>
<text x="91" y="193.4" font-size="7.5" text-anchor="middle">46,803,125</text>
<line x1="152.5" y1="184.4" x2="152.5" y2="186.2" stroke="#666" stroke-width="0.6"/>
<line x1="152.5" y1="100.4" x2="152.5" y2="102" stroke="#666" stroke-width="0.6"/>
<text x="152.5" y="193.4" font-size="7.5" text-anchor="middle">46,804,125</text>
<line x1="213.5" y1="184.4" x2="213.5" y2="186.2" stroke="#666" stroke-width="0.6"/>
<line x1="213.5" y1="100.4" x2="213.5" y2="102" stroke="#666" stroke-width="0.6"/>
<text x="213.5" y="193.4" font-size="7.5" text-anchor="middle">46,805,125</text>
<text x="275" y="193.4" font-size="7.5" text-anchor="end">chr17</text>
<text x="152.5" y="204.2" font-size="7.5" text-anchor="middle">Gene coordinates (bp)</text>
<text x="10" y="104.5" font-size="7.6" text-anchor="middle" transform="rotate(-90 10 104.5)">Normalized fragment coverage</text>
<line x1="5.8" y1="0" x2="5.8" y2="0" stroke="#000" stroke-width="0.8"/>
<text x="272.8" y="30.7" font-size="7.5" text-anchor="end">LuCaP 93 (NEPC)</text>
<text x="272.8" y="38.3" font-size="7.5" text-anchor="end">Phased-nucleosome distance: 249 bp</text>
<text x="264" y="45.9" font-size="7.5" text-anchor="end">NPS: 1.93</text>
<text x="272.8" y="114.3" font-size="7.5" text-anchor="end">LuCaP 136 (ARPC)</text>
<text x="272.8" y="121.9" font-size="7.5" text-anchor="end">Phased-nucleosome distance: 332 bp</text>
<text x="264" y="129.5" font-size="7.5" text-anchor="end">NPS: 1.63</text>
<rect x="1.3" y="226.6" width="14.7" height="4.2" fill="#b0b0b0"/>
<line x1="9.4" y1="232.8" x2="9.4" y2="245" stroke="#777" stroke-width="0.8" stroke-dasharray="0.9,1.1"/>
<text x="18.3" y="231.2" font-size="7.5">Fragment coverage</text>
<text x="18.3" y="241.2" font-size="7.5">Phased local peaks</text>
<text x="191" y="221.4" font-size="7.5" text-anchor="middle">Nucleosome frequency components</text>
<line x1="94" y1="235.6" x2="110" y2="235.6" stroke="#5b3a9b" stroke-width="1.8"/>
<text x="129.4" y="232.6" font-size="7.5" text-anchor="middle">Phased</text>
<text x="129.4" y="241.8" font-size="7.5" text-anchor="middle">(observed)</text>
<text x="129.4" y="250.6" font-size="7.5" text-anchor="middle">(&gt;146 bp)</text>
<line x1="155.4" y1="235.6" x2="171" y2="235.6" stroke="#c0392b" stroke-width="1.8"/>
<text x="191.7" y="234.6" font-size="7.5" text-anchor="middle">Baseline</text>
<text x="191.7" y="243.8" font-size="7.5" text-anchor="middle">(150–180 bp)</text>
<line x1="219.4" y1="235.6" x2="235" y2="235.6" stroke="#4cae4c" stroke-width="1.8"/>
<text x="257.5" y="234.6" font-size="7.5" text-anchor="middle">Stable</text>
<text x="257.5" y="243.8" font-size="7.5" text-anchor="middle">(180–210 bp)</text>
<text x="57.5" y="268.3" font-size="7.5" text-anchor="middle">Phased-nucleosome distance</text>
<rect x="1" y="272" width="110.5" height="25.6" fill="#dedede"/>
<rect x="1" y="272" width="110.5" height="58.4" fill="none" stroke="#777" stroke-width="0.8"/>
<line x1="1" y1="297.6" x2="111.5" y2="297.6" stroke="#777" stroke-width="0.8"/>
<line x1="57.7" y1="297.6" x2="57.7" y2="330.4" stroke="#777" stroke-width="0.8"/>
<text x="56.5" y="279.9" font-size="7.5" text-anchor="middle">[Mean <tspan fill="#8e88aa">phased peak</tspan> distance]</text>
<text x="4.5" y="288.9" font-size="7.5">Periodic</text>
<text x="4.5" y="296" font-size="7.5">(stable)</text>
<text x="109.5" y="288.9" font-size="7.5" text-anchor="end">Aperiodic</text>
<text x="109.5" y="296" font-size="7.5" text-anchor="end">(unstable)</text>
<polygon points="33.5,295.6 73.8,281.8 73.8,295.6" fill="#6a45ad"/>
<line x1="8" y1="300" x2="8" y2="313" stroke="#777" stroke-width="0.6" stroke-dasharray="1,1"/>
<line x1="16" y1="300" x2="16" y2="313" stroke="#777" stroke-width="0.6" stroke-dasharray="1,1"/>
<line x1="27" y1="300" x2="27" y2="313" stroke="#777" stroke-width="0.6" stroke-dasharray="1,1"/>
<line x1="39" y1="300" x2="39" y2="313" stroke="#777" stroke-width="0.6" stroke-dasharray="1,1"/>
<line x1="50" y1="300" x2="50" y2="313" stroke="#777" stroke-width="0.6" stroke-dasharray="1,1"/>
<line x1="8" y1="313.8" x2="51" y2="313.8" stroke="#555" stroke-width="0.7"/>
<circle cx="16" cy="313.8" r="0.9" fill="#444"/>
<circle cx="27" cy="313.8" r="0.9" fill="#444"/>
<circle cx="39" cy="313.8" r="0.9" fill="#444"/>
<path d="M4.5,327.6C5.2,325.8 6.54,318.64 8,318.6C9.46,318.56 10.2,327.28 11.8,327.4C13.4,327.52 14.26,319.16 16,319.2C17.74,319.24 18.3,328.08 20.5,327.6C22.7,327.12 24.5,316.8 27,316.8C29.5,316.8 30.6,327.6 33,327.6C35.4,327.6 36.6,316.8 39,316.8C41.4,316.8 42.8,327.32 45,327.6C47.2,327.88 48.1,318.24 50,318.2C51.9,318.16 53.6,325.56 54.5,327.4" fill="none" stroke="#6b4ca6" stroke-width="1.1"/>
<line x1="63.5" y1="300" x2="63.5" y2="313" stroke="#777" stroke-width="0.6" stroke-dasharray="1,1"/>
<line x1="69" y1="300" x2="69" y2="313" stroke="#777" stroke-width="0.6" stroke-dasharray="1,1"/>
<line x1="82.6" y1="300" x2="82.6" y2="313" stroke="#777" stroke-width="0.6" stroke-dasharray="1,1"/>
<line x1="108.5" y1="300" x2="108.5" y2="313" stroke="#777" stroke-width="0.6" stroke-dasharray="1,1"/>
<line x1="63" y1="313.8" x2="109" y2="313.8" stroke="#555" stroke-width="0.7"/>
<circle cx="69" cy="313.8" r="0.9" fill="#444"/>
<circle cx="82.6" cy="313.8" r="0.9" fill="#444"/>
<path d="M60,327.5C60.58,326.5 62.5,322 63.5,321.5C64.5,321 65.08,324.5 66,324.5C66.92,324.5 68,321.33 69,321.5C70,321.67 70.83,324.75 72,325.5C73.17,326.25 74.75,326.58 76,326C77.25,325.42 78.4,323.5 79.5,322C80.6,320.5 81.6,317 82.6,317C83.6,317 84.6,320.33 85.5,322C86.4,323.67 86.92,326 88,327C89.08,328 90.67,328.25 92,328C93.33,327.75 94.83,325.75 96,325.5C97.17,325.25 98,326.58 99,326.5C100,326.42 101,325 102,325C103,325 103.83,326.42 105,326.5C106.17,326.58 108.33,325.67 109,325.5" fill="none" stroke="#6b4ca6" stroke-width="1.1"/>
<text x="203.5" y="267.9" font-size="7.5" text-anchor="middle">Nucleosome phasing score (NPS)</text>
<rect x="121.4" y="272" width="158.6" height="25.3" fill="#dedede"/>
<rect x="121.4" y="272" width="158.6" height="57.5" fill="none" stroke="#777" stroke-width="0.8"/>
<line x1="121.4" y1="297.3" x2="280" y2="297.3" stroke="#777" stroke-width="0.8"/>
<line x1="201.3" y1="297.3" x2="201.3" y2="329.5" stroke="#777" stroke-width="0.8"/>
<text x="206" y="279.6" font-size="7.5" text-anchor="middle">[<tspan fill="#3bb04a">Stable</tspan> amplitude/<tspan fill="#e0303a">baseline</tspan> amplitude]</text>
<text x="182.5" y="287" font-size="7.5" text-anchor="end">Inactive/repressed</text>
<text x="182.5" y="295" font-size="7.5" text-anchor="end">transcription</text>
<text x="232.6" y="287" font-size="7.5">Active</text>
<text x="232.6" y="295" font-size="7.5">transcription</text>
<defs><linearGradient id="gtri" x1="0" x2="1" y1="0" y2="0"><stop offset="0" stop-color="#16a04a"/><stop offset="1" stop-color="#2fb24e"/></linearGradient></defs>
<polygon points="184.5,281 184.5,294.8 227.7,294.8" fill="url(#gtri)"/>
<path d="M127.4,310.4C129.66,308.6 135.34,300.56 139.7,300.6C144.06,300.64 146.96,310.6 151.2,310.6C155.44,310.6 158.71,300.6 162.8,300.6C166.89,300.6 169.41,310.6 173.5,310.6C177.59,310.6 181.07,300.6 185.1,300.6C189.13,300.6 193.59,308.77 195.5,310.6" fill="none" stroke="#4cae4c" stroke-width="0.9"/>
<path d="M207,309.8C209.11,309.16 214.47,306.3 218.5,306.3C222.53,306.3 224.91,309.8 229,309.8C233.09,309.8 236.68,306.3 240.8,306.3C244.93,306.3 247.43,309.8 251.5,309.8C255.57,309.8 258.97,306.3 263,306.3C267.03,306.3 271.57,309.16 273.5,309.8" fill="none" stroke="#4cae4c" stroke-width="0.9"/>
<line x1="127" y1="326.8" x2="196" y2="326.8" stroke="#777" stroke-width="0.7"/>
<line x1="207" y1="326.8" x2="274" y2="326.8" stroke="#777" stroke-width="0.7"/>
<g transform="translate(139.7,320.4) rotate(25)"><rect x="-4.1" y="-5.6" width="8.2" height="11.2" rx="3.6" fill="#2aa5d6"/><path d="M-4.1,-1 Q-4.1,5.6 0,5.6 Q4.1,5.6 4.1,2 Q0,4 -4.1,-1Z" fill="#1874aa" opacity="0.8"/><rect x="-0.8" y="-4.6" width="1.4" height="7" rx="0.7" fill="#8ad8f2" opacity="0.55"/></g>
<g transform="translate(162.8,320.4) rotate(25)"><rect x="-4.1" y="-5.6" width="8.2" height="11.2" rx="3.6" fill="#2aa5d6"/><path d="M-4.1,-1 Q-4.1,5.6 0,5.6 Q4.1,5.6 4.1,2 Q0,4 -4.1,-1Z" fill="#1874aa" opacity="0.8"/><rect x="-0.8" y="-4.6" width="1.4" height="7" rx="0.7" fill="#8ad8f2" opacity="0.55"/></g>
<g transform="translate(185.1,320.4) rotate(25)"><rect x="-4.1" y="-5.6" width="8.2" height="11.2" rx="3.6" fill="#2aa5d6"/><path d="M-4.1,-1 Q-4.1,5.6 0,5.6 Q4.1,5.6 4.1,2 Q0,4 -4.1,-1Z" fill="#1874aa" opacity="0.8"/><rect x="-0.8" y="-4.6" width="1.4" height="7" rx="0.7" fill="#8ad8f2" opacity="0.55"/></g>
<g transform="translate(218.5,319.8) rotate(25)"><rect x="-4.1" y="-5.6" width="8.2" height="11.2" rx="3.6" fill="#2aa5d6"/><path d="M-4.1,-1 Q-4.1,5.6 0,5.6 Q4.1,5.6 4.1,2 Q0,4 -4.1,-1Z" fill="#1874aa" opacity="0.8"/><rect x="-0.8" y="-4.6" width="1.4" height="7" rx="0.7" fill="#8ad8f2" opacity="0.55"/></g>
<g transform="translate(240.8,319.8) rotate(25)"><rect x="-4.1" y="-5.6" width="8.2" height="11.2" rx="3.6" fill="#2aa5d6"/><path d="M-4.1,-1 Q-4.1,5.6 0,5.6 Q4.1,5.6 4.1,2 Q0,4 -4.1,-1Z" fill="#1874aa" opacity="0.8"/><rect x="-0.8" y="-4.6" width="1.4" height="7" rx="0.7" fill="#8ad8f2" opacity="0.55"/></g>
<g transform="translate(263,319.8) rotate(25)"><rect x="-4.1" y="-5.6" width="8.2" height="11.2" rx="3.6" fill="#2aa5d6"/><path d="M-4.1,-1 Q-4.1,5.6 0,5.6 Q4.1,5.6 4.1,2 Q0,4 -4.1,-1Z" fill="#1874aa" opacity="0.8"/><rect x="-0.8" y="-4.6" width="1.4" height="7" rx="0.7" fill="#8ad8f2" opacity="0.55"/></g>
<text x="0.8" y="368.9" font-size="10.2" font-weight="bold">B</text>
<text x="74" y="377.6" font-size="7.6" text-anchor="middle">Gene body (ctDNA)</text>
<text x="74" y="386.4" font-size="7.6" text-anchor="middle">(17,946 genes)</text>
<rect x="35.6" y="390.4" width="80.1" height="80.1" fill="none" stroke="#cfcfcf" stroke-width="0.8"/>
<text x="33.6" y="473.1" font-size="7.6" text-anchor="end">270</text>
<text x="33.6" y="457.1" font-size="7.6" text-anchor="end">280</text>
<text x="33.6" y="441.1" font-size="7.6" text-anchor="end">290</text>
<text x="33.6" y="425.1" font-size="7.6" text-anchor="end">300</text>
<text x="33.6" y="409.1" font-size="7.6" text-anchor="end">310</text>
<text x="33.6" y="393.1" font-size="7.6" text-anchor="end">320</text>
<text x="8.4" y="428.2" font-size="7.5" text-anchor="middle" transform="rotate(-90 8.4 428.2)">Mean phased-nucleosome</text>
<text x="17.2" y="427.6" font-size="7.5" text-anchor="middle" transform="rotate(-90 17.2 427.6)">distance (bp)</text>
<text x="75.9" y="399.2" font-size="7.6" text-anchor="middle"><tspan font-style="italic">P</tspan> = 0.027</text>
<rect x="39" y="423.3" width="32.5" height="25.1" fill="#adbde0"/>
<line x1="39" y1="436.6" x2="71.5" y2="436.6" stroke="#8ea2cf" stroke-width="0.6"/>
<line x1="55.4" y1="403" x2="55.4" y2="423.3" stroke="#8ea2cf" stroke-width="0.6"/>
<line x1="55.4" y1="448.4" x2="55.4" y2="453.6" stroke="#8ea2cf" stroke-width="0.6"/>
<line x1="48" y1="403" x2="63.7" y2="403" stroke="#9ab" stroke-width="0.6"/>
<line x1="48" y1="453.6" x2="63.7" y2="453.6" stroke="#9ab" stroke-width="0.6"/>
<circle cx="55.4" cy="403" r="1.85" fill="#3c6fb6"/>
<circle cx="55.4" cy="405.6" r="1.85" fill="#3c6fb6"/>
<circle cx="55.4" cy="407.7" r="1.85" fill="#3c6fb6"/>
<circle cx="55.4" cy="411.2" r="1.85" fill="#3c6fb6"/>
<circle cx="55.4" cy="416" r="1.85" fill="#3c6fb6"/>
<circle cx="54.6" cy="425.3" r="1.85" fill="#3c6fb6"/>
<circle cx="56.8" cy="426.4" r="1.85" fill="#3c6fb6"/>
<circle cx="55.6" cy="431.6" r="1.85" fill="#3c6fb6"/>
<circle cx="55.4" cy="433.7" r="1.85" fill="#3c6fb6"/>
<circle cx="54.8" cy="438" r="1.85" fill="#3c6fb6"/>
<circle cx="55.8" cy="438.9" r="1.85" fill="#3c6fb6"/>
<circle cx="55.4" cy="440.6" r="1.85" fill="#3c6fb6"/>
<circle cx="55.4" cy="444.4" r="1.85" fill="#3c6fb6"/>
<circle cx="51.7" cy="448.9" r="1.85" fill="#3c6fb6"/>
<circle cx="57.4" cy="449.3" r="1.85" fill="#3c6fb6"/>
<circle cx="60.4" cy="448.4" r="1.85" fill="#3c6fb6"/>
<circle cx="55.4" cy="454.4" r="1.85" fill="#3c6fb6"/>
<rect x="79.3" y="444" width="32" height="7" fill="#eebda8"/>
<line x1="79.3" y1="450.5" x2="111.3" y2="450.5" stroke="#d9967c" stroke-width="0.6"/>
<line x1="95" y1="437.6" x2="95" y2="444" stroke="#d9967c" stroke-width="0.6"/>
<line x1="88" y1="437.6" x2="102.7" y2="437.6" stroke="#e0a890" stroke-width="0.6"/>
<line x1="88" y1="455.6" x2="102.7" y2="455.6" stroke="#9ab" stroke-width="0.6"/>
<circle cx="95" cy="437.6" r="1.85" fill="#d5512f"/>
<circle cx="95" cy="441.9" r="1.85" fill="#d5512f"/>
<circle cx="97.5" cy="449.2" r="1.85" fill="#d5512f"/>
<circle cx="91.5" cy="450.9" r="1.85" fill="#d5512f"/>
<circle cx="95" cy="451.2" r="1.85" fill="#d5512f"/>
<circle cx="95" cy="455.6" r="1.85" fill="#d5512f"/>
<text x="55.4" y="478.6" font-size="7.6" text-anchor="middle">ARPC</text>
<text x="55.4" y="488" font-size="7.6" text-anchor="middle">(<tspan font-style="italic">n</tspan> = 16)</text>
<text x="94.6" y="478.6" font-size="7.6" text-anchor="middle">NEPC</text>
<text x="94.6" y="488" font-size="7.6" text-anchor="middle">(<tspan font-style="italic">n</tspan> = 6)</text>
<text x="118.6" y="368.9" font-size="10.2" font-weight="bold">C</text>
<rect x="153.5" y="390.2" width="124.3" height="79.8" fill="none" stroke="#cfcfcf" stroke-width="0.8"/>
<line x1="153.5" y1="390.2" x2="153.5" y2="470" stroke="#aaa" stroke-width="0.7"/>
<line x1="153.5" y1="470" x2="277.8" y2="470" stroke="#aaa" stroke-width="0.7"/>
<text x="151.3" y="473.1" font-size="7.7" text-anchor="end">270</text>
<text x="151.3" y="457.1" font-size="7.7" text-anchor="end">280</text>
<text x="151.3" y="441.1" font-size="7.7" text-anchor="end">290</text>
<text x="151.3" y="425.1" font-size="7.7" text-anchor="end">300</text>
<text x="151.3" y="409.1" font-size="7.7" text-anchor="end">310</text>
<text x="151.3" y="393.1" font-size="7.7" text-anchor="end">320</text>
<text x="125.2" y="428.2" font-size="7.5" text-anchor="middle" transform="rotate(-90 125.2 428.2)">Mean phased-nucleosome</text>
<text x="134.3" y="427.6" font-size="7.5" text-anchor="middle" transform="rotate(-90 134.3 427.6)">distance (bp)</text>
<circle cx="221.3" cy="385.1" r="2.2" fill="#3c6fb6"/>
<text x="224.6" y="387.7" font-size="7.5">ARPC</text>
<circle cx="252.6" cy="385.1" r="2.2" fill="#d5512f"/>
<text x="256" y="387.7" font-size="7.5">NEPC</text>
<text x="163.8" y="398.4" font-size="7.5">Spearman <tspan font-style="italic">ρ</tspan> = –0.563, <tspan font-style="italic">P</tspan> = 0.006</text>
<line x1="158.75" y1="422" x2="271.25" y2="451.25" stroke="#9aa3b0" stroke-width="0.7"/>
<circle cx="158.75" cy="407" r="2" fill="#3c6fb6"/>
<circle cx="195.75" cy="403.75" r="2" fill="#3c6fb6"/>
<circle cx="203.75" cy="411.25" r="2" fill="#3c6fb6"/>
<circle cx="187.5" cy="416.25" r="2" fill="#3c6fb6"/>
<circle cx="180" cy="425.5" r="2" fill="#3c6fb6"/>
<circle cx="213.75" cy="432" r="2" fill="#3c6fb6"/>
<circle cx="252" cy="427" r="2" fill="#3c6fb6"/>
<circle cx="176.25" cy="437.5" r="2" fill="#3c6fb6"/>
<circle cx="176.75" cy="439.5" r="2" fill="#3c6fb6"/>
<circle cx="192.5" cy="435.5" r="2" fill="#3c6fb6"/>
<circle cx="193" cy="444.5" r="2" fill="#3c6fb6"/>
<circle cx="195" cy="448.25" r="2" fill="#3c6fb6"/>
<circle cx="183.25" cy="449" r="2" fill="#3c6fb6"/>
<circle cx="241.25" cy="454" r="2" fill="#3c6fb6"/>
<circle cx="250" cy="450" r="2" fill="#3c6fb6"/>
<circle cx="255" cy="449.5" r="2" fill="#3c6fb6"/>
<circle cx="234.25" cy="437.5" r="2" fill="#d5512f"/>
<circle cx="240" cy="442.5" r="2" fill="#d5512f"/>
<circle cx="233" cy="451.75" r="2" fill="#d5512f"/>
<circle cx="263" cy="451" r="2" fill="#d5512f"/>
<circle cx="272" cy="455.75" r="2" fill="#d5512f"/>
<text x="167.2" y="478.6" font-size="7.5" text-anchor="middle">−0.6</text>
<text x="181" y="478.6" font-size="7.5" text-anchor="middle">−0.4</text>
<text x="196" y="478.6" font-size="7.5" text-anchor="middle">−0.2</text>
<text x="213.4" y="478.6" font-size="7.5" text-anchor="middle">0.0</text>
<text x="230.2" y="478.6" font-size="7.5" text-anchor="middle">0.2</text>
<text x="248.2" y="478.6" font-size="7.5" text-anchor="middle">0.4</text>
<text x="263.5" y="478.6" font-size="7.5" text-anchor="middle">0.6</text>
<text x="213.4" y="489.4" font-size="7.6" text-anchor="middle">Mean CCP score</text>
<text x="1" y="523.9" font-size="10.2" font-weight="bold">D</text>
<text x="68.6" y="533" font-size="7.5" text-anchor="middle">Gene body (ctDNA)</text>
<text x="49.3" y="548.6" font-size="7.5" text-anchor="middle">AR genes</text>
<text x="90.5" y="548.6" font-size="7.5" text-anchor="middle">NE genes</text>
<text x="49.4" y="557.4" font-size="7.5" text-anchor="middle"><tspan font-style="italic">P</tspan> = 0.070</text>
<text x="90.5" y="557.4" font-size="7.5" text-anchor="middle"><tspan font-style="italic">P</tspan> = 0.134</text>
<rect x="27.7" y="558.5" width="81.9" height="80.7" fill="none" stroke="#cfcfcf" stroke-width="0.8"/>
<text x="26" y="562.7" font-size="7.6" text-anchor="end">2.80</text>
<text x="26" y="572.2" font-size="7.6" text-anchor="end">2.60</text>
<text x="26" y="581.7" font-size="7.6" text-anchor="end">2.40</text>
<text x="26" y="591.2" font-size="7.6" text-anchor="end">2.20</text>
<text x="26" y="600.7" font-size="7.6" text-anchor="end">2.00</text>
<text x="26" y="610.2" font-size="7.6" text-anchor="end">1.80</text>
<text x="26" y="619.7" font-size="7.6" text-anchor="end">1.60</text>
<text x="26" y="629.2" font-size="7.6" text-anchor="end">1.40</text>
<text x="26" y="638.7" font-size="7.6" text-anchor="end">1.20</text>
<text x="8.3" y="601" font-size="7.6" text-anchor="middle" transform="rotate(-90 8.3 601)">Mean NPS</text>
<line x1="41.2" y1="579" x2="41.2" y2="618.42" stroke="#8ea2cf" stroke-width="0.6"/>
<rect x="33.45" y="598.95" width="15.5" height="10.92" fill="#adbde0"/>
<line x1="33.45" y1="605.12" x2="48.95" y2="605.12" stroke="#8ea2cf" stroke-width="0.6"/>
<line x1="38.2" y1="579" x2="44.2" y2="579" stroke="#8ea2cf" stroke-width="0.6"/>
<line x1="38.2" y1="618.42" x2="44.2" y2="618.42" stroke="#8ea2cf" stroke-width="0.6"/>
<circle cx="41.2" cy="579" r="1.8" fill="#3c6fb6"/>
<circle cx="39" cy="586.12" r="1.8" fill="#3c6fb6"/>
<circle cx="43.4" cy="586.12" r="1.8" fill="#3c6fb6"/>
<circle cx="41.2" cy="591.83" r="1.8" fill="#3c6fb6"/>
<circle cx="41.2" cy="598.95" r="1.8" fill="#3c6fb6"/>
<circle cx="39.2" cy="602.75" r="1.8" fill="#3c6fb6"/>
<circle cx="43.2" cy="602.75" r="1.8" fill="#3c6fb6"/>
<circle cx="41.2" cy="604.17" r="1.8" fill="#3c6fb6"/>
<circle cx="38.2" cy="605.6" r="1.8" fill="#3c6fb6"/>
<circle cx="44.2" cy="605.6" r="1.8" fill="#3c6fb6"/>
<circle cx="35.7" cy="609.4" r="1.8" fill="#3c6fb6"/>
<circle cx="39.2" cy="609.4" r="1.8" fill="#3c6fb6"/>
<circle cx="43.2" cy="609.4" r="1.8" fill="#3c6fb6"/>
<circle cx="46.7" cy="609.4" r="1.8" fill="#3c6fb6"/>
<circle cx="41.2" cy="611.77" r="1.8" fill="#3c6fb6"/>
<circle cx="41.2" cy="618.42" r="1.8" fill="#3c6fb6"/>
<circle cx="41.2" cy="631.25" r="1.8" fill="#3c6fb6"/>
<line x1="57.7" y1="588.5" x2="57.7" y2="594.67" stroke="#d9967c" stroke-width="0.6"/>
<rect x="49.95" y="588.5" width="15.5" height="6.17" fill="#eebda8"/>
<line x1="49.95" y1="593.25" x2="65.45" y2="593.25" stroke="#d9967c" stroke-width="0.6"/>
<line x1="54.7" y1="588.5" x2="60.7" y2="588.5" stroke="#d9967c" stroke-width="0.6"/>
<line x1="54.7" y1="594.67" x2="60.7" y2="594.67" stroke="#d9967c" stroke-width="0.6"/>
<circle cx="54.7" cy="588.98" r="1.8" fill="#d5512f"/>
<circle cx="59.2" cy="589.45" r="1.8" fill="#d5512f"/>
<circle cx="56.7" cy="591.83" r="1.8" fill="#d5512f"/>
<circle cx="59.7" cy="593.73" r="1.8" fill="#d5512f"/>
<circle cx="58.2" cy="595.62" r="1.8" fill="#d5512f"/>
<circle cx="57.7" cy="608.45" r="1.8" fill="#d5512f"/>
<line x1="81.6" y1="568.55" x2="81.6" y2="609.4" stroke="#8ea2cf" stroke-width="0.6"/>
<rect x="73.1" y="578.05" width="17" height="20.43" fill="#adbde0"/>
<line x1="73.1" y1="589.45" x2="90.1" y2="589.45" stroke="#8ea2cf" stroke-width="0.6"/>
<line x1="78.6" y1="568.55" x2="84.6" y2="568.55" stroke="#8ea2cf" stroke-width="0.6"/>
<line x1="78.6" y1="609.4" x2="84.6" y2="609.4" stroke="#8ea2cf" stroke-width="0.6"/>
<circle cx="81.6" cy="568.55" r="1.8" fill="#3c6fb6"/>
<circle cx="75.6" cy="578.05" r="1.8" fill="#3c6fb6"/>
<circle cx="78.6" cy="579" r="1.8" fill="#3c6fb6"/>
<circle cx="82.6" cy="579" r="1.8" fill="#3c6fb6"/>
<circle cx="85.6" cy="579" r="1.8" fill="#3c6fb6"/>
<circle cx="88.6" cy="578.52" r="1.8" fill="#3c6fb6"/>
<circle cx="77.6" cy="581.85" r="1.8" fill="#3c6fb6"/>
<circle cx="81.6" cy="582.33" r="1.8" fill="#3c6fb6"/>
<circle cx="85.6" cy="582.33" r="1.8" fill="#3c6fb6"/>
<circle cx="79.6" cy="586.12" r="1.8" fill="#3c6fb6"/>
<circle cx="83.6" cy="587.55" r="1.8" fill="#3c6fb6"/>
<circle cx="81.6" cy="590.88" r="1.8" fill="#3c6fb6"/>
<circle cx="78.6" cy="594.2" r="1.8" fill="#3c6fb6"/>
<circle cx="83.6" cy="598.95" r="1.8" fill="#3c6fb6"/>
<circle cx="81.6" cy="601.8" r="1.8" fill="#3c6fb6"/>
<circle cx="79.6" cy="605.6" r="1.8" fill="#3c6fb6"/>
<circle cx="77.6" cy="607.98" r="1.8" fill="#3c6fb6"/>
<circle cx="84.6" cy="609.4" r="1.8" fill="#3c6fb6"/>
<line x1="97.8" y1="598.95" x2="97.8" y2="615.58" stroke="#d9967c" stroke-width="0.6"/>
<rect x="90.05" y="599.42" width="15.5" height="9.03" fill="#eebda8"/>
<line x1="90.05" y1="600.38" x2="105.55" y2="600.38" stroke="#d9967c" stroke-width="0.6"/>
<line x1="94.8" y1="598.95" x2="100.8" y2="598.95" stroke="#d9967c" stroke-width="0.6"/>
<line x1="94.8" y1="615.58" x2="100.8" y2="615.58" stroke="#d9967c" stroke-width="0.6"/>
<circle cx="97.8" cy="574.25" r="1.8" fill="#d5512f"/>
<circle cx="94.8" cy="600.38" r="1.8" fill="#d5512f"/>
<circle cx="97.8" cy="599.9" r="1.8" fill="#d5512f"/>
<circle cx="100.8" cy="598.95" r="1.8" fill="#d5512f"/>
<circle cx="97.8" cy="611.3" r="1.8" fill="#d5512f"/>
<circle cx="97.8" cy="615.58" r="1.8" fill="#d5512f"/>
<text x="33.6" y="649.6" font-size="7.5" text-anchor="middle">ARPC</text>
<text x="31.8" y="659.2" font-size="7.4" text-anchor="middle">(<tspan font-style="italic">n</tspan> = 16)</text>
<text x="58.4" y="649.6" font-size="7.5" text-anchor="middle">NEPC</text>
<text x="54.6" y="659.2" font-size="7.4" text-anchor="middle">(<tspan font-style="italic">n</tspan> = 6)</text>
<text x="82.6" y="649.6" font-size="7.5" text-anchor="middle">ARPC</text>
<text x="81.4" y="659.2" font-size="7.4" text-anchor="middle">(<tspan font-style="italic">n</tspan> = 16)</text>
<text x="105.6" y="649.6" font-size="7.5" text-anchor="middle">NEPC</text>
<text x="105.4" y="659.2" font-size="7.4" text-anchor="middle">(<tspan font-style="italic">n</tspan> = 6)</text>
<text x="125.6" y="524.2" font-size="10.2" font-weight="bold">E</text>
<text x="219" y="530.4" font-size="7.5" text-anchor="middle">Gene body (ctDNA)</text>
<text x="195.5" y="542" font-size="7.5" text-anchor="middle">Phenotype marker genes</text>
<circle cx="153.3" cy="551.2" r="2.1" fill="#6d8fc4"/>
<text x="156.3" y="553.9" font-size="7.5">ARPC (12)</text>
<circle cx="199.6" cy="551.2" r="2.1" fill="#d95a48"/>
<text x="202.3" y="553.9" font-size="7.5">NEPC (35)</text>
<circle cx="249" cy="543.7" r="2" fill="#9a9a9a"/>
<text x="252.6" y="546.4" font-size="7.5">Significant</text>
<circle cx="249" cy="552" r="1.4" fill="#fff" stroke="#777" stroke-width="0.6"/>
<text x="252.6" y="554.7" font-size="7.5">N.S.</text>
<rect x="156.6" y="557.6" width="122.8" height="81.2" fill="none" stroke="#cfcfcf" stroke-width="0.8"/>
<text x="153.6" y="638.5" font-size="7.5" text-anchor="end">0.0</text>
<text x="153.6" y="624.22" font-size="7.5" text-anchor="end">0.5</text>
<text x="153.6" y="609.94" font-size="7.5" text-anchor="end">1.0</text>
<text x="153.6" y="595.66" font-size="7.5" text-anchor="end">1.5</text>
<text x="153.6" y="581.38" font-size="7.5" text-anchor="end">2.0</text>
<text x="153.6" y="567.1" font-size="7.5" text-anchor="end">2.5</text>
<text x="136.2" y="601" font-size="7.8" text-anchor="middle" transform="rotate(-90 136.2 601)">−Log<tspan font-size="5.6" dy="1.9">10</tspan><tspan dy="-1.9"> adjusted </tspan><tspan font-style="italic">q</tspan>-value</text>
<text x="172.9" y="651.4" font-size="7.5" text-anchor="middle">−4.0</text>
<text x="191.7" y="651.4" font-size="7.5" text-anchor="middle">−0.2</text>
<text x="209.8" y="651.4" font-size="7.5" text-anchor="middle">0.0</text>
<text x="230.8" y="651.4" font-size="7.5" text-anchor="middle">0.2</text>
<text x="248.3" y="651.4" font-size="7.5" text-anchor="middle">0.4</text>
<text x="266.3" y="651.4" font-size="7.5" text-anchor="middle">0.6</text>
<text x="219.5" y="661.4" font-size="7.5" text-anchor="middle">NPS log<tspan font-size="5.2" dy="1.8">2</tspan><tspan dy="-1.8"> fold change (ARPC/NEPC)</tspan></text>
<circle cx="174.8" cy="603.5" r="1.3" fill="#e8b8a8"/>
<circle cx="182.3" cy="609.7" r="1.3" fill="#a8b8e0"/>
<circle cx="180.2" cy="616.4" r="1.3" fill="#5870a0"/>
<circle cx="186.3" cy="621.8" r="1.3" fill="#f0b8a0"/>
<circle cx="162.1" cy="631.2" r="1.3" fill="#e8c0b0"/>
<circle cx="191.7" cy="627.2" r="1.3" fill="#f0c0b0"/>
<circle cx="189" cy="633.1" r="1.3" fill="#f0b8a0"/>
<circle cx="194.4" cy="635.2" r="1.3" fill="#a8c0e0"/>
<circle cx="198.5" cy="631.7" r="1.3" fill="#f0c0a8"/>
<circle cx="203.3" cy="627.7" r="1.3" fill="#b0c0e0"/>
<circle cx="206.5" cy="631.2" r="1.3" fill="#f0b8a0"/>
<circle cx="207" cy="635.2" r="1.3" fill="#f0c8b8"/>
<circle cx="210.6" cy="633.1" r="1.3" fill="#f0b8a0"/>
<circle cx="213.3" cy="635.2" r="1.3" fill="#f0c0b0"/>
<circle cx="216" cy="633" r="1.3" fill="#f0b8a0"/>
<circle cx="217.3" cy="628.2" r="1.3" fill="#f0b0a0"/>
<circle cx="218.7" cy="630.4" r="1.3" fill="#f0c0b0"/>
<circle cx="221.3" cy="632.5" r="1.3" fill="#f0b8a0"/>
<circle cx="226.7" cy="621.8" r="1.3" fill="#f0b0a0"/>
<circle cx="228.9" cy="621" r="1.3" fill="#f0b8a8"/>
<circle cx="230.8" cy="616.4" r="1.3" fill="#f0b0a0"/>
<circle cx="236.2" cy="621" r="1.3" fill="#f0b8a0"/>
<circle cx="238.9" cy="619.6" r="1.3" fill="#f0a898"/>
<circle cx="242.1" cy="621" r="1.3" fill="#606060"/>
<circle cx="241.5" cy="633.6" r="1.3" fill="#f0b0a0"/>
<circle cx="244.8" cy="603.5" r="1.3" fill="#f0a890"/>
<circle cx="245.6" cy="604.8" r="1.3" fill="#f0b8a0"/>
<circle cx="184.5" cy="629" r="1.3" fill="#f0c0b0"/>
<circle cx="200.5" cy="636" r="1.3" fill="#f0c8b8"/>
<circle cx="224" cy="634" r="1.3" fill="#f0b8a8"/>
<circle cx="180.5" cy="612" r="1.3" fill="#e0a8a0"/>
<circle cx="196" cy="637" r="1.3" fill="#b8c8e8"/>
<circle cx="212" cy="630" r="1.3" fill="#f0b8a0"/>
<circle cx="162.9" cy="589.5" r="1.5" fill="#3b6fb5"/>
<text x="160.2" y="586" font-size="7.3" fill="#4a7cc0">TMPRSS2</text>
<text x="260.8" y="564.4" font-size="7.5" text-anchor="end" fill="#c9463a">CHRNB2</text>
<circle cx="263.6" cy="561.2" r="1.2" fill="#b03020"/>
<text x="272.8" y="572.4" font-size="7.5" text-anchor="end" fill="#c9463a">ASCL1</text>
<circle cx="275.2" cy="568.7" r="1.2" fill="#b03020"/>
<text x="255.4" y="586" font-size="7.5" text-anchor="end" fill="#c9463a">NEUROD1</text>
<text x="256.6" y="589.4" font-size="7.5" fill="#c9463a">XKR7</text>
<text x="241.6" y="596.6" font-size="7.5" text-anchor="end" fill="#c9463a">GRP</text>
<circle cx="244.8" cy="593.3" r="1.2" fill="#b03020"/>
<text x="255.4" y="596.6" font-size="7.5" fill="#c9463a">MYCL</text>
<circle cx="254.5" cy="589.5" r="1.3" fill="#a02018"/>
<circle cx="251.8" cy="592.7" r="1.3" fill="#a02018"/>
<circle cx="261.7" cy="597.5" r="1.3" fill="#a02018"/>
<text x="258.4" y="606.1" font-size="7.5" fill="#c9463a">CHGB</text>
<circle cx="255.5" cy="603.5" r="1" fill="#e09080"/>
<text x="285.4" y="9.2" font-size="10.2" font-weight="bold">F</text>
<text x="385" y="12.7" font-size="7.5" text-anchor="middle">Prostate tumor phenotypes</text>
<rect x="329" y="19.6" width="9.8" height="5.4" fill="#d83a2a"/>
<text x="339.6" y="24.5" font-size="7.6">NEPC</text>
<rect x="372.3" y="19.6" width="9.8" height="5.4" fill="#2a7cc7"/>
<text x="382.9" y="24.5" font-size="7.6">ARPC</text>
<rect x="412.3" y="19.6" width="9" height="5.4" fill="#78bf44"/>
<text x="421.8" y="24.5" font-size="7.6">ARLPC</text>
<rect x="306.8" y="41.4" width="37.62" height="8.2" fill="#d83a2a"/>
<rect x="346.6" y="41.4" width="100.32" height="8.2" fill="#2a7cc7"/>
<rect x="446.92" y="41.4" width="12.54" height="8.2" fill="#78bf44"/>
<polyline points="328.6,37.2 328.6,28.6 424.6,28.6 424.6,35.6" fill="none" stroke="#555" stroke-width="0.6"/>
<polyline points="314,39.2 314,37.2 338,37.2 338,39" fill="none" stroke="#555" stroke-width="0.6"/>
<polyline points="310,41.3 310,39.2 318,39.2 318,41.3" fill="none" stroke="#555" stroke-width="0.6"/>
<polyline points="334,41.3 334,39 342,39 342,41.3" fill="none" stroke="#555" stroke-width="0.6"/>
<polyline points="322,41.3 322,40 326,40 326,41.3" fill="none" stroke="#555" stroke-width="0.6"/>
<polyline points="352,38.2 352,35.6 451,35.6 451,38.8" fill="none" stroke="#555" stroke-width="0.6"/>
<polyline points="349,41.3 349,38.2 358,38.2 358,41.3" fill="none" stroke="#555" stroke-width="0.6"/>
<polyline points="366,37.6 366,35.6" fill="none" stroke="#555" stroke-width="0.6"/>
<polyline points="362,41.3 362,37.6 398,37.6 398,39" fill="none" stroke="#555" stroke-width="0.6"/>
<polyline points="368,41.3 368,39.4 380,39.4 380,41.3" fill="none" stroke="#555" stroke-width="0.6"/>
<polyline points="374,39.4 374,37.6" fill="none" stroke="#555" stroke-width="0.6"/>
<polyline points="386,41.3 386,38.8 394,38.8 394,41.3" fill="none" stroke="#555" stroke-width="0.6"/>
<polyline points="390,38.8 390,37.6" fill="none" stroke="#555" stroke-width="0.6"/>
<polyline points="392,39 404,39 404,41.3" fill="none" stroke="#555" stroke-width="0.6"/>
<polyline points="412,37 412,35.6" fill="none" stroke="#555" stroke-width="0.6"/>
<polyline points="408,41.3 408,37 438,37 438,39.2" fill="none" stroke="#555" stroke-width="0.6"/>
<polyline points="414,41.3 414,39.2 426,39.2 426,41.3" fill="none" stroke="#555" stroke-width="0.6"/>
<polyline points="420,39.2 420,37" fill="none" stroke="#555" stroke-width="0.6"/>
<polyline points="432,41.3 432,39.2 444,39.2 444,41.3" fill="none" stroke="#555" stroke-width="0.6"/>
<polyline points="448,41.3 448,38.8 456,38.8 456,41.3" fill="none" stroke="#555" stroke-width="0.6"/>
<rect x="306.8" y="52.6" width="37.67" height="4.47" fill="#0a0707"/>
<rect x="346.6" y="52.6" width="6.32" height="4.47" fill="#40140f"/>
<rect x="352.87" y="52.6" width="12.59" height="4.47" fill="#aa3322"/>
<rect x="365.41" y="52.6" width="6.32" height="4.47" fill="#742218"/>
<rect x="371.68" y="52.6" width="12.59" height="4.47" fill="#aa3322"/>
<rect x="384.22" y="52.6" width="25.13" height="4.47" fill="#d6432c"/>
<rect x="409.3" y="52.6" width="6.32" height="4.47" fill="#e2502a"/>
<rect x="415.57" y="52.6" width="12.59" height="4.47" fill="#f49e30"/>
<rect x="428.11" y="52.6" width="12.59" height="4.47" fill="#d6432c"/>
<rect x="440.65" y="52.6" width="12.59" height="4.47" fill="#40140f"/>
<rect x="453.19" y="52.6" width="6.32" height="4.47" fill="#0a0707"/>
<rect x="306.8" y="57.02" width="6.32" height="4.47" fill="#0a0707"/>
<rect x="313.07" y="57.02" width="6.32" height="4.47" fill="#40140f"/>
<rect x="319.34" y="57.02" width="25.13" height="4.47" fill="#0a0707"/>
<rect x="346.6" y="57.02" width="6.32" height="4.47" fill="#742218"/>
<rect x="352.87" y="57.02" width="12.59" height="4.47" fill="#aa3322"/>
<rect x="365.41" y="57.02" width="6.32" height="4.47" fill="#d6432c"/>
<rect x="371.68" y="57.02" width="6.32" height="4.47" fill="#aa3322"/>
<rect x="377.95" y="57.02" width="12.59" height="4.47" fill="#d6432c"/>
<rect x="390.49" y="57.02" width="12.59" height="4.47" fill="#aa3322"/>
<rect x="403.03" y="57.02" width="12.59" height="4.47" fill="#d6432c"/>
<rect x="415.57" y="57.02" width="6.32" height="4.47" fill="#40140f"/>
<rect x="421.84" y="57.02" width="12.59" height="4.47" fill="#d6432c"/>
<rect x="434.38" y="57.02" width="6.32" height="4.47" fill="#aa3322"/>
<rect x="440.65" y="57.02" width="6.32" height="4.47" fill="#742218"/>
<rect x="446.92" y="57.02" width="12.59" height="4.47" fill="#40140f"/>
<rect x="306.8" y="61.45" width="37.67" height="4.47" fill="#0a0707"/>
<rect x="346.6" y="61.45" width="6.32" height="4.47" fill="#742218"/>
<rect x="352.87" y="61.45" width="69.02" height="4.47" fill="#aa3322"/>
<rect x="421.84" y="61.45" width="6.32" height="4.47" fill="#d6432c"/>
<rect x="428.11" y="61.45" width="6.32" height="4.47" fill="#aa3322"/>
<rect x="434.38" y="61.45" width="6.32" height="4.47" fill="#d6432c"/>
<rect x="440.65" y="61.45" width="6.32" height="4.47" fill="#40140f"/>
<rect x="446.92" y="61.45" width="6.32" height="4.47" fill="#742218"/>
<rect x="453.19" y="61.45" width="6.32" height="4.47" fill="#40140f"/>
<rect x="306.8" y="65.88" width="6.32" height="4.47" fill="#40140f"/>
<rect x="313.07" y="65.88" width="31.4" height="4.47" fill="#0a0707"/>
<rect x="346.6" y="65.88" width="12.59" height="4.47" fill="#aa3322"/>
<rect x="359.14" y="65.88" width="6.32" height="4.47" fill="#742218"/>
<rect x="365.41" y="65.88" width="12.59" height="4.47" fill="#aa3322"/>
<rect x="377.95" y="65.88" width="6.32" height="4.47" fill="#d6432c"/>
<rect x="384.22" y="65.88" width="18.86" height="4.47" fill="#aa3322"/>
<rect x="403.03" y="65.88" width="6.32" height="4.47" fill="#d6432c"/>
<rect x="409.3" y="65.88" width="12.59" height="4.47" fill="#aa3322"/>
<rect x="421.84" y="65.88" width="6.32" height="4.47" fill="#d6432c"/>
<rect x="428.11" y="65.88" width="12.59" height="4.47" fill="#aa3322"/>
<rect x="440.65" y="65.88" width="12.59" height="4.47" fill="#40140f"/>
<rect x="453.19" y="65.88" width="6.32" height="4.47" fill="#742218"/>
<line x1="313.07" y1="52.6" x2="313.07" y2="70.3" stroke="rgba(255,235,225,0.42)" stroke-width="0.7"/>
<line x1="319.34" y1="52.6" x2="319.34" y2="70.3" stroke="rgba(255,235,225,0.42)" stroke-width="0.7"/>
<line x1="325.61" y1="52.6" x2="325.61" y2="70.3" stroke="rgba(255,235,225,0.42)" stroke-width="0.7"/>
<line x1="331.88" y1="52.6" x2="331.88" y2="70.3" stroke="rgba(255,235,225,0.42)" stroke-width="0.7"/>
<line x1="338.15" y1="52.6" x2="338.15" y2="70.3" stroke="rgba(255,235,225,0.42)" stroke-width="0.7"/>
<line x1="306.8" y1="57.02" x2="344.42" y2="57.02" stroke="rgba(255,235,225,0.42)" stroke-width="0.7"/>
<line x1="306.8" y1="61.45" x2="344.42" y2="61.45" stroke="rgba(255,235,225,0.42)" stroke-width="0.7"/>
<line x1="306.8" y1="65.88" x2="344.42" y2="65.88" stroke="rgba(255,235,225,0.42)" stroke-width="0.7"/>
<line x1="352.87" y1="52.6" x2="352.87" y2="70.3" stroke="rgba(255,235,225,0.42)" stroke-width="0.7"/>
<line x1="359.14" y1="52.6" x2="359.14" y2="70.3" stroke="rgba(255,235,225,0.42)" stroke-width="0.7"/>
<line x1="365.41" y1="52.6" x2="365.41" y2="70.3" stroke="rgba(255,235,225,0.42)" stroke-width="0.7"/>
<line x1="371.68" y1="52.6" x2="371.68" y2="70.3" stroke="rgba(255,235,225,0.42)" stroke-width="0.7"/>
<line x1="377.95" y1="52.6" x2="377.95" y2="70.3" stroke="rgba(255,235,225,0.42)" stroke-width="0.7"/>
<line x1="384.22" y1="52.6" x2="384.22" y2="70.3" stroke="rgba(255,235,225,0.42)" stroke-width="0.7"/>
<line x1="390.49" y1="52.6" x2="390.49" y2="70.3" stroke="rgba(255,235,225,0.42)" stroke-width="0.7"/>
<line x1="396.76" y1="52.6" x2="396.76" y2="70.3" stroke="rgba(255,235,225,0.42)" stroke-width="0.7"/>
<line x1="403.03" y1="52.6" x2="403.03" y2="70.3" stroke="rgba(255,235,225,0.42)" stroke-width="0.7"/>
<line x1="409.3" y1="52.6" x2="409.3" y2="70.3" stroke="rgba(255,235,225,0.42)" stroke-width="0.7"/>
<line x1="415.57" y1="52.6" x2="415.57" y2="70.3" stroke="rgba(255,235,225,0.42)" stroke-width="0.7"/>
<line x1="421.84" y1="52.6" x2="421.84" y2="70.3" stroke="rgba(255,235,225,0.42)" stroke-width="0.7"/>
<line x1="428.11" y1="52.6" x2="428.11" y2="70.3" stroke="rgba(255,235,225,0.42)" stroke-width="0.7"/>
<line x1="434.38" y1="52.6" x2="434.38" y2="70.3" stroke="rgba(255,235,225,0.42)" stroke-width="0.7"/>
<line x1="440.65" y1="52.6" x2="440.65" y2="70.3" stroke="rgba(255,235,225,0.42)" stroke-width="0.7"/>
<line x1="446.92" y1="52.6" x2="446.92" y2="70.3" stroke="rgba(255,235,225,0.42)" stroke-width="0.7"/>
<line x1="453.19" y1="52.6" x2="453.19" y2="70.3" stroke="rgba(255,235,225,0.42)" stroke-width="0.7"/>
<line x1="346.6" y1="57.02" x2="459.46" y2="57.02" stroke="rgba(255,235,225,0.42)" stroke-width="0.7"/>
<line x1="346.6" y1="61.45" x2="459.46" y2="61.45" stroke="rgba(255,235,225,0.42)" stroke-width="0.7"/>
<line x1="346.6" y1="65.88" x2="459.46" y2="65.88" stroke="rgba(255,235,225,0.42)" stroke-width="0.7"/>
<rect x="306.8" y="72" width="37.67" height="4.45" fill="#0a0707"/>
<rect x="346.6" y="72" width="18.86" height="4.45" fill="#e2502a"/>
<rect x="365.41" y="72" width="6.32" height="4.45" fill="#d6432c"/>
<rect x="371.68" y="72" width="12.59" height="4.45" fill="#e2502a"/>
<rect x="384.22" y="72" width="12.59" height="4.45" fill="#d6432c"/>
<rect x="396.76" y="72" width="18.86" height="4.45" fill="#e2502a"/>
<rect x="415.57" y="72" width="12.59" height="4.45" fill="#d6432c"/>
<rect x="428.11" y="72" width="12.59" height="4.45" fill="#aa3322"/>
<rect x="440.65" y="72" width="18.86" height="4.45" fill="#ef7a2c"/>
<line x1="313.07" y1="72" x2="313.07" y2="76.4" stroke="rgba(255,235,225,0.42)" stroke-width="0.7"/>
<line x1="319.34" y1="72" x2="319.34" y2="76.4" stroke="rgba(255,235,225,0.42)" stroke-width="0.7"/>
<line x1="325.61" y1="72" x2="325.61" y2="76.4" stroke="rgba(255,235,225,0.42)" stroke-width="0.7"/>
<line x1="331.88" y1="72" x2="331.88" y2="76.4" stroke="rgba(255,235,225,0.42)" stroke-width="0.7"/>
<line x1="338.15" y1="72" x2="338.15" y2="76.4" stroke="rgba(255,235,225,0.42)" stroke-width="0.7"/>
<line x1="352.87" y1="72" x2="352.87" y2="76.4" stroke="rgba(255,235,225,0.42)" stroke-width="0.7"/>
<line x1="359.14" y1="72" x2="359.14" y2="76.4" stroke="rgba(255,235,225,0.42)" stroke-width="0.7"/>
<line x1="365.41" y1="72" x2="365.41" y2="76.4" stroke="rgba(255,235,225,0.42)" stroke-width="0.7"/>
<line x1="371.68" y1="72" x2="371.68" y2="76.4" stroke="rgba(255,235,225,0.42)" stroke-width="0.7"/>
<line x1="377.95" y1="72" x2="377.95" y2="76.4" stroke="rgba(255,235,225,0.42)" stroke-width="0.7"/>
<line x1="384.22" y1="72" x2="384.22" y2="76.4" stroke="rgba(255,235,225,0.42)" stroke-width="0.7"/>
<line x1="390.49" y1="72" x2="390.49" y2="76.4" stroke="rgba(255,235,225,0.42)" stroke-width="0.7"/>
<line x1="396.76" y1="72" x2="396.76" y2="76.4" stroke="rgba(255,235,225,0.42)" stroke-width="0.7"/>
<line x1="403.03" y1="72" x2="403.03" y2="76.4" stroke="rgba(255,235,225,0.42)" stroke-width="0.7"/>
<line x1="409.3" y1="72" x2="409.3" y2="76.4" stroke="rgba(255,235,225,0.42)" stroke-width="0.7"/>
<line x1="415.57" y1="72" x2="415.57" y2="76.4" stroke="rgba(255,235,225,0.42)" stroke-width="0.7"/>
<line x1="421.84" y1="72" x2="421.84" y2="76.4" stroke="rgba(255,235,225,0.42)" stroke-width="0.7"/>
<line x1="428.11" y1="72" x2="428.11" y2="76.4" stroke="rgba(255,235,225,0.42)" stroke-width="0.7"/>
<line x1="434.38" y1="72" x2="434.38" y2="76.4" stroke="rgba(255,235,225,0.42)" stroke-width="0.7"/>
<line x1="440.65" y1="72" x2="440.65" y2="76.4" stroke="rgba(255,235,225,0.42)" stroke-width="0.7"/>
<line x1="446.92" y1="72" x2="446.92" y2="76.4" stroke="rgba(255,235,225,0.42)" stroke-width="0.7"/>
<line x1="453.19" y1="72" x2="453.19" y2="76.4" stroke="rgba(255,235,225,0.42)" stroke-width="0.7"/>
<rect x="306.8" y="78.2" width="12.59" height="4.6" fill="#aa3322"/>
<rect x="319.34" y="78.2" width="12.59" height="4.6" fill="#742218"/>
<rect x="331.88" y="78.2" width="12.59" height="4.6" fill="#aa3322"/>
<rect x="346.6" y="78.2" width="6.32" height="4.6" fill="#aa3322"/>
<rect x="352.87" y="78.2" width="18.86" height="4.6" fill="#e2502a"/>
<rect x="371.68" y="78.2" width="6.32" height="4.6" fill="#d6432c"/>
<rect x="377.95" y="78.2" width="6.32" height="4.6" fill="#e2502a"/>
<rect x="384.22" y="78.2" width="6.32" height="4.6" fill="#d6432c"/>
<rect x="390.49" y="78.2" width="6.32" height="4.6" fill="#e2502a"/>
<rect x="396.76" y="78.2" width="6.32" height="4.6" fill="#ef7a2c"/>
<rect x="403.03" y="78.2" width="6.32" height="4.6" fill="#e2502a"/>
<rect x="409.3" y="78.2" width="12.59" height="4.6" fill="#d6432c"/>
<rect x="421.84" y="78.2" width="6.32" height="4.6" fill="#ef7a2c"/>
<rect x="428.11" y="78.2" width="6.32" height="4.6" fill="#e2502a"/>
<rect x="434.38" y="78.2" width="25.13" height="4.6" fill="#d6432c"/>
<rect x="306.8" y="82.75" width="6.32" height="4.6" fill="#e2502a"/>
<rect x="313.07" y="82.75" width="6.32" height="4.6" fill="#d6432c"/>
<rect x="319.34" y="82.75" width="6.32" height="4.6" fill="#742218"/>
<rect x="325.61" y="82.75" width="6.32" height="4.6" fill="#d6432c"/>
<rect x="331.88" y="82.75" width="12.59" height="4.6" fill="#0a0707"/>
<rect x="346.6" y="82.75" width="6.32" height="4.6" fill="#f49e30"/>
<rect x="352.87" y="82.75" width="25.13" height="4.6" fill="#e2502a"/>
<rect x="377.95" y="82.75" width="6.32" height="4.6" fill="#ef7a2c"/>
<rect x="384.22" y="82.75" width="6.32" height="4.6" fill="#e2502a"/>
<rect x="390.49" y="82.75" width="18.86" height="4.6" fill="#f49e30"/>
<rect x="409.3" y="82.75" width="6.32" height="4.6" fill="#d6432c"/>
<rect x="415.57" y="82.75" width="6.32" height="4.6" fill="#ef7a2c"/>
<rect x="421.84" y="82.75" width="6.32" height="4.6" fill="#f49e30"/>
<rect x="428.11" y="82.75" width="6.32" height="4.6" fill="#ef7a2c"/>
<rect x="434.38" y="82.75" width="6.32" height="4.6" fill="#e2502a"/>
<rect x="440.65" y="82.75" width="6.32" height="4.6" fill="#d6432c"/>
<rect x="446.92" y="82.75" width="6.32" height="4.6" fill="#e2502a"/>
<rect x="453.19" y="82.75" width="6.32" height="4.6" fill="#d6432c"/>
<line x1="313.07" y1="78.2" x2="313.07" y2="87.3" stroke="rgba(255,235,225,0.42)" stroke-width="0.7"/>
<line x1="319.34" y1="78.2" x2="319.34" y2="87.3" stroke="rgba(255,235,225,0.42)" stroke-width="0.7"/>
<line x1="325.61" y1="78.2" x2="325.61" y2="87.3" stroke="rgba(255,235,225,0.42)" stroke-width="0.7"/>
<line x1="331.88" y1="78.2" x2="331.88" y2="87.3" stroke="rgba(255,235,225,0.42)" stroke-width="0.7"/>
<line x1="338.15" y1="78.2" x2="338.15" y2="87.3" stroke="rgba(255,235,225,0.42)" stroke-width="0.7"/>
<line x1="306.8" y1="82.75" x2="344.42" y2="82.75" stroke="rgba(255,235,225,0.42)" stroke-width="0.7"/>
<line x1="352.87" y1="78.2" x2="352.87" y2="87.3" stroke="rgba(255,235,225,0.42)" stroke-width="0.7"/>
<line x1="359.14" y1="78.2" x2="359.14" y2="87.3" stroke="rgba(255,235,225,0.42)" stroke-width="0.7"/>
<line x1="365.41" y1="78.2" x2="365.41" y2="87.3" stroke="rgba(255,235,225,0.42)" stroke-width="0.7"/>
<line x1="371.68" y1="78.2" x2="371.68" y2="87.3" stroke="rgba(255,235,225,0.42)" stroke-width="0.7"/>
<line x1="377.95" y1="78.2" x2="377.95" y2="87.3" stroke="rgba(255,235,225,0.42)" stroke-width="0.7"/>
<line x1="384.22" y1="78.2" x2="384.22" y2="87.3" stroke="rgba(255,235,225,0.42)" stroke-width="0.7"/>
<line x1="390.49" y1="78.2" x2="390.49" y2="87.3" stroke="rgba(255,235,225,0.42)" stroke-width="0.7"/>
<line x1="396.76" y1="78.2" x2="396.76" y2="87.3" stroke="rgba(255,235,225,0.42)" stroke-width="0.7"/>
<line x1="403.03" y1="78.2" x2="403.03" y2="87.3" stroke="rgba(255,235,225,0.42)" stroke-width="0.7"/>
<line x1="409.3" y1="78.2" x2="409.3" y2="87.3" stroke="rgba(255,235,225,0.42)" stroke-width="0.7"/>
<line x1="415.57" y1="78.2" x2="415.57" y2="87.3" stroke="rgba(255,235,225,0.42)" stroke-width="0.7"/>
<line x1="421.84" y1="78.2" x2="421.84" y2="87.3" stroke="rgba(255,235,225,0.42)" stroke-width="0.7"/>
<line x1="428.11" y1="78.2" x2="428.11" y2="87.3" stroke="rgba(255,235,225,0.42)" stroke-width="0.7"/>
<line x1="434.38" y1="78.2" x2="434.38" y2="87.3" stroke="rgba(255,235,225,0.42)" stroke-width="0.7"/>
<line x1="440.65" y1="78.2" x2="440.65" y2="87.3" stroke="rgba(255,235,225,0.42)" stroke-width="0.7"/>
<line x1="446.92" y1="78.2" x2="446.92" y2="87.3" stroke="rgba(255,235,225,0.42)" stroke-width="0.7"/>
<line x1="453.19" y1="78.2" x2="453.19" y2="87.3" stroke="rgba(255,235,225,0.42)" stroke-width="0.7"/>
<line x1="346.6" y1="82.75" x2="459.46" y2="82.75" stroke="rgba(255,235,225,0.42)" stroke-width="0.7"/>
<rect x="306.8" y="89" width="18.86" height="4.57" fill="#d6432c"/>
<rect x="325.61" y="89" width="6.32" height="4.57" fill="#aa3322"/>
<rect x="331.88" y="89" width="12.59" height="4.57" fill="#d6432c"/>
<rect x="346.6" y="89" width="112.91" height="4.57" fill="#d6432c"/>
<rect x="306.8" y="93.52" width="6.32" height="4.57" fill="#d6432c"/>
<rect x="313.07" y="93.52" width="6.32" height="4.57" fill="#aa3322"/>
<rect x="319.34" y="93.52" width="6.32" height="4.57" fill="#d6432c"/>
<rect x="325.61" y="93.52" width="18.86" height="4.57" fill="#aa3322"/>
<rect x="346.6" y="93.52" width="12.59" height="4.57" fill="#d6432c"/>
<rect x="359.14" y="93.52" width="6.32" height="4.57" fill="#aa3322"/>
<rect x="365.41" y="93.52" width="12.59" height="4.57" fill="#d6432c"/>
<rect x="377.95" y="93.52" width="25.13" height="4.57" fill="#aa3322"/>
<rect x="403.03" y="93.52" width="6.32" height="4.57" fill="#d6432c"/>
<rect x="409.3" y="93.52" width="12.59" height="4.57" fill="#aa3322"/>
<rect x="421.84" y="93.52" width="6.32" height="4.57" fill="#d6432c"/>
<rect x="428.11" y="93.52" width="6.32" height="4.57" fill="#aa3322"/>
<rect x="434.38" y="93.52" width="12.59" height="4.57" fill="#d6432c"/>
<rect x="446.92" y="93.52" width="12.59" height="4.57" fill="#aa3322"/>
<rect x="306.8" y="98.03" width="6.32" height="4.57" fill="#d6432c"/>
<rect x="313.07" y="98.03" width="12.59" height="4.57" fill="#aa3322"/>
<rect x="325.61" y="98.03" width="6.32" height="4.57" fill="#d6432c"/>
<rect x="331.88" y="98.03" width="6.32" height="4.57" fill="#aa3322"/>
<rect x="338.15" y="98.03" width="6.32" height="4.57" fill="#d6432c"/>
<rect x="346.6" y="98.03" width="6.32" height="4.57" fill="#d6432c"/>
<rect x="352.87" y="98.03" width="6.32" height="4.57" fill="#aa3322"/>
<rect x="359.14" y="98.03" width="6.32" height="4.57" fill="#d6432c"/>
<rect x="365.41" y="98.03" width="50.21" height="4.57" fill="#aa3322"/>
<rect x="415.57" y="98.03" width="6.32" height="4.57" fill="#d6432c"/>
<rect x="421.84" y="98.03" width="25.13" height="4.57" fill="#aa3322"/>
<rect x="446.92" y="98.03" width="6.32" height="4.57" fill="#d6432c"/>
<rect x="453.19" y="98.03" width="6.32" height="4.57" fill="#aa3322"/>
<rect x="306.8" y="102.55" width="37.67" height="4.57" fill="#d6432c"/>
<rect x="346.6" y="102.55" width="31.4" height="4.57" fill="#d6432c"/>
<rect x="377.95" y="102.55" width="12.59" height="4.57" fill="#aa3322"/>
<rect x="390.49" y="102.55" width="6.32" height="4.57" fill="#d6432c"/>
<rect x="396.76" y="102.55" width="18.86" height="4.57" fill="#aa3322"/>
<rect x="415.57" y="102.55" width="6.32" height="4.57" fill="#742218"/>
<rect x="421.84" y="102.55" width="37.67" height="4.57" fill="#aa3322"/>
<rect x="306.8" y="107.07" width="37.67" height="4.57" fill="#d6432c"/>
<rect x="346.6" y="107.07" width="43.94" height="4.57" fill="#d6432c"/>
<rect x="390.49" y="107.07" width="12.59" height="4.57" fill="#aa3322"/>
<rect x="403.03" y="107.07" width="6.32" height="4.57" fill="#d6432c"/>
<rect x="409.3" y="107.07" width="12.59" height="4.57" fill="#aa3322"/>
<rect x="421.84" y="107.07" width="6.32" height="4.57" fill="#d6432c"/>
<rect x="428.11" y="107.07" width="18.86" height="4.57" fill="#aa3322"/>
<rect x="446.92" y="107.07" width="6.32" height="4.57" fill="#742218"/>
<rect x="453.19" y="107.07" width="6.32" height="4.57" fill="#aa3322"/>
<rect x="306.8" y="111.58" width="12.59" height="4.57" fill="#e2502a"/>
<rect x="319.34" y="111.58" width="25.13" height="4.57" fill="#d6432c"/>
<rect x="346.6" y="111.58" width="6.32" height="4.57" fill="#e2502a"/>
<rect x="352.87" y="111.58" width="31.4" height="4.57" fill="#d6432c"/>
<rect x="384.22" y="111.58" width="12.59" height="4.57" fill="#aa3322"/>
<rect x="396.76" y="111.58" width="6.32" height="4.57" fill="#d6432c"/>
<rect x="403.03" y="111.58" width="18.86" height="4.57" fill="#aa3322"/>
<rect x="421.84" y="111.58" width="6.32" height="4.57" fill="#742218"/>
<rect x="428.11" y="111.58" width="6.32" height="4.57" fill="#aa3322"/>
<rect x="434.38" y="111.58" width="6.32" height="4.57" fill="#742218"/>
<rect x="440.65" y="111.58" width="18.86" height="4.57" fill="#aa3322"/>
<line x1="313.07" y1="89" x2="313.07" y2="116.1" stroke="rgba(255,235,225,0.42)" stroke-width="0.7"/>
<line x1="319.34" y1="89" x2="319.34" y2="116.1" stroke="rgba(255,235,225,0.42)" stroke-width="0.7"/>
<line x1="325.61" y1="89" x2="325.61" y2="116.1" stroke="rgba(255,235,225,0.42)" stroke-width="0.7"/>
<line x1="331.88" y1="89" x2="331.88" y2="116.1" stroke="rgba(255,235,225,0.42)" stroke-width="0.7"/>
<line x1="338.15" y1="89" x2="338.15" y2="116.1" stroke="rgba(255,235,225,0.42)" stroke-width="0.7"/>
<line x1="306.8" y1="93.52" x2="344.42" y2="93.52" stroke="rgba(255,235,225,0.42)" stroke-width="0.7"/>
<line x1="306.8" y1="98.03" x2="344.42" y2="98.03" stroke="rgba(255,235,225,0.42)" stroke-width="0.7"/>
<line x1="306.8" y1="102.55" x2="344.42" y2="102.55" stroke="rgba(255,235,225,0.42)" stroke-width="0.7"/>
<line x1="306.8" y1="107.07" x2="344.42" y2="107.07" stroke="rgba(255,235,225,0.42)" stroke-width="0.7"/>
<line x1="306.8" y1="111.58" x2="344.42" y2="111.58" stroke="rgba(255,235,225,0.42)" stroke-width="0.7"/>
<line x1="352.87" y1="89" x2="352.87" y2="116.1" stroke="rgba(255,235,225,0.42)" stroke-width="0.7"/>
<line x1="359.14" y1="89" x2="359.14" y2="116.1" stroke="rgba(255,235,225,0.42)" stroke-width="0.7"/>
<line x1="365.41" y1="89" x2="365.41" y2="116.1" stroke="rgba(255,235,225,0.42)" stroke-width="0.7"/>
<line x1="371.68" y1="89" x2="371.68" y2="116.1" stroke="rgba(255,235,225,0.42)" stroke-width="0.7"/>
<line x1="377.95" y1="89" x2="377.95" y2="116.1" stroke="rgba(255,235,225,0.42)" stroke-width="0.7"/>
<line x1="384.22" y1="89" x2="384.22" y2="116.1" stroke="rgba(255,235,225,0.42)" stroke-width="0.7"/>
<line x1="390.49" y1="89" x2="390.49" y2="116.1" stroke="rgba(255,235,225,0.42)" stroke-width="0.7"/>
<line x1="396.76" y1="89" x2="396.76" y2="116.1" stroke="rgba(255,235,225,0.42)" stroke-width="0.7"/>
<line x1="403.03" y1="89" x2="403.03" y2="116.1" stroke="rgba(255,235,225,0.42)" stroke-width="0.7"/>
<line x1="409.3" y1="89" x2="409.3" y2="116.1" stroke="rgba(255,235,225,0.42)" stroke-width="0.7"/>
<line x1="415.57" y1="89" x2="415.57" y2="116.1" stroke="rgba(255,235,225,0.42)" stroke-width="0.7"/>
<line x1="421.84" y1="89" x2="421.84" y2="116.1" stroke="rgba(255,235,225,0.42)" stroke-width="0.7"/>
<line x1="428.11" y1="89" x2="428.11" y2="116.1" stroke="rgba(255,235,225,0.42)" stroke-width="0.7"/>
<line x1="434.38" y1="89" x2="434.38" y2="116.1" stroke="rgba(255,235,225,0.42)" stroke-width="0.7"/>
<line x1="440.65" y1="89" x2="440.65" y2="116.1" stroke="rgba(255,235,225,0.42)" stroke-width="0.7"/>
<line x1="446.92" y1="89" x2="446.92" y2="116.1" stroke="rgba(255,235,225,0.42)" stroke-width="0.7"/>
<line x1="453.19" y1="89" x2="453.19" y2="116.1" stroke="rgba(255,235,225,0.42)" stroke-width="0.7"/>
<line x1="346.6" y1="93.52" x2="459.46" y2="93.52" stroke="rgba(255,235,225,0.42)" stroke-width="0.7"/>
<line x1="346.6" y1="98.03" x2="459.46" y2="98.03" stroke="rgba(255,235,225,0.42)" stroke-width="0.7"/>
<line x1="346.6" y1="102.55" x2="459.46" y2="102.55" stroke="rgba(255,235,225,0.42)" stroke-width="0.7"/>
<line x1="346.6" y1="107.07" x2="459.46" y2="107.07" stroke="rgba(255,235,225,0.42)" stroke-width="0.7"/>
<line x1="346.6" y1="111.58" x2="459.46" y2="111.58" stroke="rgba(255,235,225,0.42)" stroke-width="0.7"/>
<rect x="306.8" y="117.5" width="6.32" height="4.53" fill="#d6432c"/>
<rect x="313.07" y="117.5" width="6.32" height="4.53" fill="#aa3322"/>
<rect x="319.34" y="117.5" width="25.13" height="4.53" fill="#d6432c"/>
<rect x="346.6" y="117.5" width="12.59" height="4.53" fill="#40140f"/>
<rect x="359.14" y="117.5" width="12.59" height="4.53" fill="#0a0707"/>
<rect x="371.68" y="117.5" width="6.32" height="4.53" fill="#40140f"/>
<rect x="377.95" y="117.5" width="6.32" height="4.53" fill="#0a0707"/>
<rect x="384.22" y="117.5" width="12.59" height="4.53" fill="#40140f"/>
<rect x="396.76" y="117.5" width="6.32" height="4.53" fill="#0a0707"/>
<rect x="403.03" y="117.5" width="6.32" height="4.53" fill="#40140f"/>
<rect x="409.3" y="117.5" width="6.32" height="4.53" fill="#0a0707"/>
<rect x="415.57" y="117.5" width="12.59" height="4.53" fill="#40140f"/>
<rect x="428.11" y="117.5" width="12.59" height="4.53" fill="#0a0707"/>
<rect x="440.65" y="117.5" width="18.86" height="4.53" fill="#40140f"/>
<rect x="306.8" y="121.98" width="6.32" height="4.53" fill="#aa3322"/>
<rect x="313.07" y="121.98" width="31.4" height="4.53" fill="#d6432c"/>
<rect x="346.6" y="121.98" width="6.32" height="4.53" fill="#d6432c"/>
<rect x="352.87" y="121.98" width="6.32" height="4.53" fill="#aa3322"/>
<rect x="359.14" y="121.98" width="12.59" height="4.53" fill="#d6432c"/>
<rect x="371.68" y="121.98" width="6.32" height="4.53" fill="#aa3322"/>
<rect x="377.95" y="121.98" width="12.59" height="4.53" fill="#d6432c"/>
<rect x="390.49" y="121.98" width="6.32" height="4.53" fill="#e2502a"/>
<rect x="396.76" y="121.98" width="6.32" height="4.53" fill="#0a0707"/>
<rect x="403.03" y="121.98" width="37.67" height="4.53" fill="#aa3322"/>
<rect x="440.65" y="121.98" width="18.86" height="4.53" fill="#742218"/>
<rect x="306.8" y="126.47" width="18.86" height="4.53" fill="#d6432c"/>
<rect x="325.61" y="126.47" width="6.32" height="4.53" fill="#aa3322"/>
<rect x="331.88" y="126.47" width="12.59" height="4.53" fill="#d6432c"/>
<rect x="346.6" y="126.47" width="6.32" height="4.53" fill="#d6432c"/>
<rect x="352.87" y="126.47" width="12.59" height="4.53" fill="#aa3322"/>
<rect x="365.41" y="126.47" width="6.32" height="4.53" fill="#d6432c"/>
<rect x="371.68" y="126.47" width="50.21" height="4.53" fill="#aa3322"/>
<rect x="421.84" y="126.47" width="6.32" height="4.53" fill="#742218"/>
<rect x="428.11" y="126.47" width="31.4" height="4.53" fill="#aa3322"/>
<rect x="306.8" y="130.95" width="37.67" height="4.53" fill="#d6432c"/>
<rect x="346.6" y="130.95" width="6.32" height="4.53" fill="#d6432c"/>
<rect x="352.87" y="130.95" width="25.13" height="4.53" fill="#aa3322"/>
<rect x="377.95" y="130.95" width="6.32" height="4.53" fill="#d6432c"/>
<rect x="384.22" y="130.95" width="75.29" height="4.53" fill="#aa3322"/>
<rect x="306.8" y="135.43" width="37.67" height="4.53" fill="#d6432c"/>
<rect x="346.6" y="135.43" width="18.86" height="4.53" fill="#d6432c"/>
<rect x="365.41" y="135.43" width="6.32" height="4.53" fill="#aa3322"/>
<rect x="371.68" y="135.43" width="6.32" height="4.53" fill="#d6432c"/>
<rect x="377.95" y="135.43" width="43.94" height="4.53" fill="#aa3322"/>
<rect x="421.84" y="135.43" width="6.32" height="4.53" fill="#742218"/>
<rect x="428.11" y="135.43" width="12.59" height="4.53" fill="#aa3322"/>
<rect x="440.65" y="135.43" width="6.32" height="4.53" fill="#d6432c"/>
<rect x="446.92" y="135.43" width="12.59" height="4.53" fill="#aa3322"/>
<rect x="306.8" y="139.92" width="31.4" height="4.53" fill="#d6432c"/>
<rect x="338.15" y="139.92" width="6.32" height="4.53" fill="#e2502a"/>
<rect x="346.6" y="139.92" width="12.59" height="4.53" fill="#d6432c"/>
<rect x="359.14" y="139.92" width="12.59" height="4.53" fill="#aa3322"/>
<rect x="371.68" y="139.92" width="6.32" height="4.53" fill="#742218"/>
<rect x="377.95" y="139.92" width="12.59" height="4.53" fill="#d6432c"/>
<rect x="390.49" y="139.92" width="25.13" height="4.53" fill="#aa3322"/>
<rect x="415.57" y="139.92" width="6.32" height="4.53" fill="#40140f"/>
<rect x="421.84" y="139.92" width="6.32" height="4.53" fill="#0a0707"/>
<rect x="428.11" y="139.92" width="6.32" height="4.53" fill="#40140f"/>
<rect x="434.38" y="139.92" width="25.13" height="4.53" fill="#d6432c"/>
<line x1="313.07" y1="117.5" x2="313.07" y2="144.4" stroke="rgba(255,235,225,0.42)" stroke-width="0.7"/>
<line x1="319.34" y1="117.5" x2="319.34" y2="144.4" stroke="rgba(255,235,225,0.42)" stroke-width="0.7"/>
<line x1="325.61" y1="117.5" x2="325.61" y2="144.4" stroke="rgba(255,235,225,0.42)" stroke-width="0.7"/>
<line x1="331.88" y1="117.5" x2="331.88" y2="144.4" stroke="rgba(255,235,225,0.42)" stroke-width="0.7"/>
<line x1="338.15" y1="117.5" x2="338.15" y2="144.4" stroke="rgba(255,235,225,0.42)" stroke-width="0.7"/>
<line x1="306.8" y1="121.98" x2="344.42" y2="121.98" stroke="rgba(255,235,225,0.42)" stroke-width="0.7"/>
<line x1="306.8" y1="126.47" x2="344.42" y2="126.47" stroke="rgba(255,235,225,0.42)" stroke-width="0.7"/>
<line x1="306.8" y1="130.95" x2="344.42" y2="130.95" stroke="rgba(255,235,225,0.42)" stroke-width="0.7"/>
<line x1="306.8" y1="135.43" x2="344.42" y2="135.43" stroke="rgba(255,235,225,0.42)" stroke-width="0.7"/>
<line x1="306.8" y1="139.92" x2="344.42" y2="139.92" stroke="rgba(255,235,225,0.42)" stroke-width="0.7"/>
<line x1="352.87" y1="117.5" x2="352.87" y2="144.4" stroke="rgba(255,235,225,0.42)" stroke-width="0.7"/>
<line x1="359.14" y1="117.5" x2="359.14" y2="144.4" stroke="rgba(255,235,225,0.42)" stroke-width="0.7"/>
<line x1="365.41" y1="117.5" x2="365.41" y2="144.4" stroke="rgba(255,235,225,0.42)" stroke-width="0.7"/>
<line x1="371.68" y1="117.5" x2="371.68" y2="144.4" stroke="rgba(255,235,225,0.42)" stroke-width="0.7"/>
<line x1="377.95" y1="117.5" x2="377.95" y2="144.4" stroke="rgba(255,235,225,0.42)" stroke-width="0.7"/>
<line x1="384.22" y1="117.5" x2="384.22" y2="144.4" stroke="rgba(255,235,225,0.42)" stroke-width="0.7"/>
<line x1="390.49" y1="117.5" x2="390.49" y2="144.4" stroke="rgba(255,235,225,0.42)" stroke-width="0.7"/>
<line x1="396.76" y1="117.5" x2="396.76" y2="144.4" stroke="rgba(255,235,225,0.42)" stroke-width="0.7"/>
<line x1="403.03" y1="117.5" x2="403.03" y2="144.4" stroke="rgba(255,235,225,0.42)" stroke-width="0.7"/>
<line x1="409.3" y1="117.5" x2="409.3" y2="144.4" stroke="rgba(255,235,225,0.42)" stroke-width="0.7"/>
<line x1="415.57" y1="117.5" x2="415.57" y2="144.4" stroke="rgba(255,235,225,0.42)" stroke-width="0.7"/>
<line x1="421.84" y1="117.5" x2="421.84" y2="144.4" stroke="rgba(255,235,225,0.42)" stroke-width="0.7"/>
<line x1="428.11" y1="117.5" x2="428.11" y2="144.4" stroke="rgba(255,235,225,0.42)" stroke-width="0.7"/>
<line x1="434.38" y1="117.5" x2="434.38" y2="144.4" stroke="rgba(255,235,225,0.42)" stroke-width="0.7"/>
<line x1="440.65" y1="117.5" x2="440.65" y2="144.4" stroke="rgba(255,235,225,0.42)" stroke-width="0.7"/>
<line x1="446.92" y1="117.5" x2="446.92" y2="144.4" stroke="rgba(255,235,225,0.42)" stroke-width="0.7"/>
<line x1="453.19" y1="117.5" x2="453.19" y2="144.4" stroke="rgba(255,235,225,0.42)" stroke-width="0.7"/>
<line x1="346.6" y1="121.98" x2="459.46" y2="121.98" stroke="rgba(255,235,225,0.42)" stroke-width="0.7"/>
<line x1="346.6" y1="126.47" x2="459.46" y2="126.47" stroke="rgba(255,235,225,0.42)" stroke-width="0.7"/>
<line x1="346.6" y1="130.95" x2="459.46" y2="130.95" stroke="rgba(255,235,225,0.42)" stroke-width="0.7"/>
<line x1="346.6" y1="135.43" x2="459.46" y2="135.43" stroke="rgba(255,235,225,0.42)" stroke-width="0.7"/>
<line x1="346.6" y1="139.92" x2="459.46" y2="139.92" stroke="rgba(255,235,225,0.42)" stroke-width="0.7"/>
<rect x="306.8" y="146.1" width="37.67" height="4.48" fill="#e2502a"/>
<rect x="346.6" y="146.1" width="50.21" height="4.48" fill="#e2502a"/>
<rect x="396.76" y="146.1" width="6.32" height="4.48" fill="#ef7a2c"/>
<rect x="403.03" y="146.1" width="43.94" height="4.48" fill="#e2502a"/>
<rect x="446.92" y="146.1" width="6.32" height="4.48" fill="#ef7a2c"/>
<rect x="453.19" y="146.1" width="6.32" height="4.48" fill="#e2502a"/>
<rect x="306.8" y="150.53" width="37.67" height="4.48" fill="#e2502a"/>
<rect x="346.6" y="150.53" width="12.59" height="4.48" fill="#e2502a"/>
<rect x="359.14" y="150.53" width="6.32" height="4.48" fill="#d6432c"/>
<rect x="365.41" y="150.53" width="43.94" height="4.48" fill="#e2502a"/>
<rect x="409.3" y="150.53" width="6.32" height="4.48" fill="#d6432c"/>
<rect x="415.57" y="150.53" width="43.94" height="4.48" fill="#e2502a"/>
<rect x="306.8" y="154.96" width="6.32" height="4.48" fill="#e2502a"/>
<rect x="313.07" y="154.96" width="6.32" height="4.48" fill="#d6432c"/>
<rect x="319.34" y="154.96" width="25.13" height="4.48" fill="#e2502a"/>
<rect x="346.6" y="154.96" width="81.56" height="4.48" fill="#e2502a"/>
<rect x="428.11" y="154.96" width="6.32" height="4.48" fill="#d6432c"/>
<rect x="434.38" y="154.96" width="25.13" height="4.48" fill="#e2502a"/>
<rect x="306.8" y="159.39" width="37.67" height="4.48" fill="#e2502a"/>
<rect x="346.6" y="159.39" width="112.91" height="4.48" fill="#e2502a"/>
<rect x="306.8" y="163.82" width="25.13" height="4.48" fill="#e2502a"/>
<rect x="331.88" y="163.82" width="6.32" height="4.48" fill="#d6432c"/>
<rect x="338.15" y="163.82" width="6.32" height="4.48" fill="#e2502a"/>
<rect x="346.6" y="163.82" width="112.91" height="4.48" fill="#e2502a"/>
<rect x="306.8" y="168.25" width="37.67" height="4.48" fill="#e2502a"/>
<rect x="346.6" y="168.25" width="18.86" height="4.48" fill="#e2502a"/>
<rect x="365.41" y="168.25" width="6.32" height="4.48" fill="#d6432c"/>
<rect x="371.68" y="168.25" width="87.83" height="4.48" fill="#e2502a"/>
<rect x="306.8" y="172.68" width="37.67" height="4.48" fill="#e2502a"/>
<rect x="346.6" y="172.68" width="112.91" height="4.48" fill="#e2502a"/>
<rect x="306.8" y="177.11" width="37.67" height="4.48" fill="#e2502a"/>
<rect x="346.6" y="177.11" width="112.91" height="4.48" fill="#e2502a"/>
<rect x="306.8" y="181.54" width="37.67" height="4.48" fill="#e2502a"/>
<rect x="346.6" y="181.54" width="112.91" height="4.48" fill="#e2502a"/>
<rect x="306.8" y="185.97" width="31.4" height="4.48" fill="#e2502a"/>
<rect x="338.15" y="185.97" width="6.32" height="4.48" fill="#ef7a2c"/>
<rect x="346.6" y="185.97" width="50.21" height="4.48" fill="#e2502a"/>
<rect x="396.76" y="185.97" width="6.32" height="4.48" fill="#f49e30"/>
<rect x="403.03" y="185.97" width="37.67" height="4.48" fill="#e2502a"/>
<rect x="440.65" y="185.97" width="6.32" height="4.48" fill="#f49e30"/>
<rect x="446.92" y="185.97" width="12.59" height="4.48" fill="#e2502a"/>
<line x1="313.07" y1="146.1" x2="313.07" y2="190.4" stroke="rgba(255,235,225,0.42)" stroke-width="0.7"/>
<line x1="319.34" y1="146.1" x2="319.34" y2="190.4" stroke="rgba(255,235,225,0.42)" stroke-width="0.7"/>
<line x1="325.61" y1="146.1" x2="325.61" y2="190.4" stroke="rgba(255,235,225,0.42)" stroke-width="0.7"/>
<line x1="331.88" y1="146.1" x2="331.88" y2="190.4" stroke="rgba(255,235,225,0.42)" stroke-width="0.7"/>
<line x1="338.15" y1="146.1" x2="338.15" y2="190.4" stroke="rgba(255,235,225,0.42)" stroke-width="0.7"/>
<line x1="306.8" y1="150.53" x2="344.42" y2="150.53" stroke="rgba(255,235,225,0.42)" stroke-width="0.7"/>
<line x1="306.8" y1="154.96" x2="344.42" y2="154.96" stroke="rgba(255,235,225,0.42)" stroke-width="0.7"/>
<line x1="306.8" y1="159.39" x2="344.42" y2="159.39" stroke="rgba(255,235,225,0.42)" stroke-width="0.7"/>
<line x1="306.8" y1="163.82" x2="344.42" y2="163.82" stroke="rgba(255,235,225,0.42)" stroke-width="0.7"/>
<line x1="306.8" y1="168.25" x2="344.42" y2="168.25" stroke="rgba(255,235,225,0.42)" stroke-width="0.7"/>
<line x1="306.8" y1="172.68" x2="344.42" y2="172.68" stroke="rgba(255,235,225,0.42)" stroke-width="0.7"/>
<line x1="306.8" y1="177.11" x2="344.42" y2="177.11" stroke="rgba(255,235,225,0.42)" stroke-width="0.7"/>
<line x1="306.8" y1="181.54" x2="344.42" y2="181.54" stroke="rgba(255,235,225,0.42)" stroke-width="0.7"/>
<line x1="306.8" y1="185.97" x2="344.42" y2="185.97" stroke="rgba(255,235,225,0.42)" stroke-width="0.7"/>
<line x1="352.87" y1="146.1" x2="352.87" y2="190.4" stroke="rgba(255,235,225,0.42)" stroke-width="0.7"/>
<line x1="359.14" y1="146.1" x2="359.14" y2="190.4" stroke="rgba(255,235,225,0.42)" stroke-width="0.7"/>
<line x1="365.41" y1="146.1" x2="365.41" y2="190.4" stroke="rgba(255,235,225,0.42)" stroke-width="0.7"/>
<line x1="371.68" y1="146.1" x2="371.68" y2="190.4" stroke="rgba(255,235,225,0.42)" stroke-width="0.7"/>
<line x1="377.95" y1="146.1" x2="377.95" y2="190.4" stroke="rgba(255,235,225,0.42)" stroke-width="0.7"/>
<line x1="384.22" y1="146.1" x2="384.22" y2="190.4" stroke="rgba(255,235,225,0.42)" stroke-width="0.7"/>
<line x1="390.49" y1="146.1" x2="390.49" y2="190.4" stroke="rgba(255,235,225,0.42)" stroke-width="0.7"/>
<line x1="396.76" y1="146.1" x2="396.76" y2="190.4" stroke="rgba(255,235,225,0.42)" stroke-width="0.7"/>
<line x1="403.03" y1="146.1" x2="403.03" y2="190.4" stroke="rgba(255,235,225,0.42)" stroke-width="0.7"/>
<line x1="409.3" y1="146.1" x2="409.3" y2="190.4" stroke="rgba(255,235,225,0.42)" stroke-width="0.7"/>
<line x1="415.57" y1="146.1" x2="415.57" y2="190.4" stroke="rgba(255,235,225,0.42)" stroke-width="0.7"/>
<line x1="421.84" y1="146.1" x2="421.84" y2="190.4" stroke="rgba(255,235,225,0.42)" stroke-width="0.7"/>
<line x1="428.11" y1="146.1" x2="428.11" y2="190.4" stroke="rgba(255,235,225,0.42)" stroke-width="0.7"/>
<line x1="434.38" y1="146.1" x2="434.38" y2="190.4" stroke="rgba(255,235,225,0.42)" stroke-width="0.7"/>
<line x1="440.65" y1="146.1" x2="440.65" y2="190.4" stroke="rgba(255,235,225,0.42)" stroke-width="0.7"/>
<line x1="446.92" y1="146.1" x2="446.92" y2="190.4" stroke="rgba(255,235,225,0.42)" stroke-width="0.7"/>
<line x1="453.19" y1="146.1" x2="453.19" y2="190.4" stroke="rgba(255,235,225,0.42)" stroke-width="0.7"/>
<line x1="346.6" y1="150.53" x2="459.46" y2="150.53" stroke="rgba(255,235,225,0.42)" stroke-width="0.7"/>
<line x1="346.6" y1="154.96" x2="459.46" y2="154.96" stroke="rgba(255,235,225,0.42)" stroke-width="0.7"/>
<line x1="346.6" y1="159.39" x2="459.46" y2="159.39" stroke="rgba(255,235,225,0.42)" stroke-width="0.7"/>
<line x1="346.6" y1="163.82" x2="459.46" y2="163.82" stroke="rgba(255,235,225,0.42)" stroke-width="0.7"/>
<line x1="346.6" y1="168.25" x2="459.46" y2="168.25" stroke="rgba(255,235,225,0.42)" stroke-width="0.7"/>
<line x1="346.6" y1="172.68" x2="459.46" y2="172.68" stroke="rgba(255,235,225,0.42)" stroke-width="0.7"/>
<line x1="346.6" y1="177.11" x2="459.46" y2="177.11" stroke="rgba(255,235,225,0.42)" stroke-width="0.7"/>
<line x1="346.6" y1="181.54" x2="459.46" y2="181.54" stroke="rgba(255,235,225,0.42)" stroke-width="0.7"/>
<line x1="346.6" y1="185.97" x2="459.46" y2="185.97" stroke="rgba(255,235,225,0.42)" stroke-width="0.7"/>
<rect x="306.8" y="193" width="37.67" height="4.53" fill="#ef7a2c"/>
<rect x="346.6" y="193" width="6.32" height="4.53" fill="#e2502a"/>
<rect x="352.87" y="193" width="50.21" height="4.53" fill="#ef7a2c"/>
<rect x="403.03" y="193" width="12.59" height="4.53" fill="#f49e30"/>
<rect x="415.57" y="193" width="6.32" height="4.53" fill="#ef7a2c"/>
<rect x="421.84" y="193" width="6.32" height="4.53" fill="#f49e30"/>
<rect x="428.11" y="193" width="31.4" height="4.53" fill="#ef7a2c"/>
<rect x="306.8" y="197.48" width="37.67" height="4.53" fill="#ef7a2c"/>
<rect x="346.6" y="197.48" width="6.32" height="4.53" fill="#ef7a2c"/>
<rect x="352.87" y="197.48" width="31.4" height="4.53" fill="#f49e30"/>
<rect x="384.22" y="197.48" width="18.86" height="4.53" fill="#ef7a2c"/>
<rect x="403.03" y="197.48" width="12.59" height="4.53" fill="#f49e30"/>
<rect x="415.57" y="197.48" width="6.32" height="4.53" fill="#e2502a"/>
<rect x="421.84" y="197.48" width="37.67" height="4.53" fill="#ef7a2c"/>
<rect x="306.8" y="201.97" width="18.86" height="4.53" fill="#ef7a2c"/>
<rect x="325.61" y="201.97" width="6.32" height="4.53" fill="#f49e30"/>
<rect x="331.88" y="201.97" width="12.59" height="4.53" fill="#ef7a2c"/>
<rect x="346.6" y="201.97" width="37.67" height="4.53" fill="#ef7a2c"/>
<rect x="384.22" y="201.97" width="18.86" height="4.53" fill="#e2502a"/>
<rect x="403.03" y="201.97" width="12.59" height="4.53" fill="#ef7a2c"/>
<rect x="415.57" y="201.97" width="6.32" height="4.53" fill="#e2502a"/>
<rect x="421.84" y="201.97" width="6.32" height="4.53" fill="#ef7a2c"/>
<rect x="428.11" y="201.97" width="18.86" height="4.53" fill="#e2502a"/>
<rect x="446.92" y="201.97" width="12.59" height="4.53" fill="#ef7a2c"/>
<rect x="306.8" y="206.45" width="37.67" height="4.53" fill="#e2502a"/>
<rect x="346.6" y="206.45" width="112.91" height="4.53" fill="#e2502a"/>
<rect x="306.8" y="210.93" width="37.67" height="4.53" fill="#f49e30"/>
<rect x="346.6" y="210.93" width="50.21" height="4.53" fill="#f5b232"/>
<rect x="396.76" y="210.93" width="6.32" height="4.53" fill="#f49e30"/>
<rect x="403.03" y="210.93" width="56.48" height="4.53" fill="#f5b232"/>
<rect x="306.8" y="215.42" width="37.67" height="4.53" fill="#f49e30"/>
<rect x="346.6" y="215.42" width="12.59" height="4.53" fill="#f49e30"/>
<rect x="359.14" y="215.42" width="6.32" height="4.53" fill="#ef7a2c"/>
<rect x="365.41" y="215.42" width="69.02" height="4.53" fill="#f49e30"/>
<rect x="434.38" y="215.42" width="25.13" height="4.53" fill="#f5b232"/>
<line x1="313.07" y1="193" x2="313.07" y2="219.9" stroke="rgba(255,235,225,0.42)" stroke-width="0.7"/>
<line x1="319.34" y1="193" x2="319.34" y2="219.9" stroke="rgba(255,235,225,0.42)" stroke-width="0.7"/>
<line x1="325.61" y1="193" x2="325.61" y2="219.9" stroke="rgba(255,235,225,0.42)" stroke-width="0.7"/>
<line x1="331.88" y1="193" x2="331.88" y2="219.9" stroke="rgba(255,235,225,0.42)" stroke-width="0.7"/>
<line x1="338.15" y1="193" x2="338.15" y2="219.9" stroke="rgba(255,235,225,0.42)" stroke-width="0.7"/>
<line x1="306.8" y1="197.48" x2="344.42" y2="197.48" stroke="rgba(255,235,225,0.42)" stroke-width="0.7"/>
<line x1="306.8" y1="201.97" x2="344.42" y2="201.97" stroke="rgba(255,235,225,0.42)" stroke-width="0.7"/>
<line x1="306.8" y1="206.45" x2="344.42" y2="206.45" stroke="rgba(255,235,225,0.42)" stroke-width="0.7"/>
<line x1="306.8" y1="210.93" x2="344.42" y2="210.93" stroke="rgba(255,235,225,0.42)" stroke-width="0.7"/>
<line x1="306.8" y1="215.42" x2="344.42" y2="215.42" stroke="rgba(255,235,225,0.42)" stroke-width="0.7"/>
<line x1="352.87" y1="193" x2="352.87" y2="219.9" stroke="rgba(255,235,225,0.42)" stroke-width="0.7"/>
<line x1="359.14" y1="193" x2="359.14" y2="219.9" stroke="rgba(255,235,225,0.42)" stroke-width="0.7"/>
<line x1="365.41" y1="193" x2="365.41" y2="219.9" stroke="rgba(255,235,225,0.42)" stroke-width="0.7"/>
<line x1="371.68" y1="193" x2="371.68" y2="219.9" stroke="rgba(255,235,225,0.42)" stroke-width="0.7"/>
<line x1="377.95" y1="193" x2="377.95" y2="219.9" stroke="rgba(255,235,225,0.42)" stroke-width="0.7"/>
<line x1="384.22" y1="193" x2="384.22" y2="219.9" stroke="rgba(255,235,225,0.42)" stroke-width="0.7"/>
<line x1="390.49" y1="193" x2="390.49" y2="219.9" stroke="rgba(255,235,225,0.42)" stroke-width="0.7"/>
<line x1="396.76" y1="193" x2="396.76" y2="219.9" stroke="rgba(255,235,225,0.42)" stroke-width="0.7"/>
<line x1="403.03" y1="193" x2="403.03" y2="219.9" stroke="rgba(255,235,225,0.42)" stroke-width="0.7"/>
<line x1="409.3" y1="193" x2="409.3" y2="219.9" stroke="rgba(255,235,225,0.42)" stroke-width="0.7"/>
<line x1="415.57" y1="193" x2="415.57" y2="219.9" stroke="rgba(255,235,225,0.42)" stroke-width="0.7"/>
<line x1="421.84" y1="193" x2="421.84" y2="219.9" stroke="rgba(255,235,225,0.42)" stroke-width="0.7"/>
<line x1="428.11" y1="193" x2="428.11" y2="219.9" stroke="rgba(255,235,225,0.42)" stroke-width="0.7"/>
<line x1="434.38" y1="193" x2="434.38" y2="219.9" stroke="rgba(255,235,225,0.42)" stroke-width="0.7"/>
<line x1="440.65" y1="193" x2="440.65" y2="219.9" stroke="rgba(255,235,225,0.42)" stroke-width="0.7"/>
<line x1="446.92" y1="193" x2="446.92" y2="219.9" stroke="rgba(255,235,225,0.42)" stroke-width="0.7"/>
<line x1="453.19" y1="193" x2="453.19" y2="219.9" stroke="rgba(255,235,225,0.42)" stroke-width="0.7"/>
<line x1="346.6" y1="197.48" x2="459.46" y2="197.48" stroke="rgba(255,235,225,0.42)" stroke-width="0.7"/>
<line x1="346.6" y1="201.97" x2="459.46" y2="201.97" stroke="rgba(255,235,225,0.42)" stroke-width="0.7"/>
<line x1="346.6" y1="206.45" x2="459.46" y2="206.45" stroke="rgba(255,235,225,0.42)" stroke-width="0.7"/>
<line x1="346.6" y1="210.93" x2="459.46" y2="210.93" stroke="rgba(255,235,225,0.42)" stroke-width="0.7"/>
<line x1="346.6" y1="215.42" x2="459.46" y2="215.42" stroke="rgba(255,235,225,0.42)" stroke-width="0.7"/>
<rect x="306.8" y="221" width="37.67" height="4.65" fill="#eaf03c"/>
<rect x="346.6" y="221" width="112.91" height="4.65" fill="#eaf03c"/>
<line x1="313.07" y1="221" x2="313.07" y2="225.6" stroke="rgba(255,235,225,0.42)" stroke-width="0.7"/>
<line x1="319.34" y1="221" x2="319.34" y2="225.6" stroke="rgba(255,235,225,0.42)" stroke-width="0.7"/>
<line x1="325.61" y1="221" x2="325.61" y2="225.6" stroke="rgba(255,235,225,0.42)" stroke-width="0.7"/>
<line x1="331.88" y1="221" x2="331.88" y2="225.6" stroke="rgba(255,235,225,0.42)" stroke-width="0.7"/>
<line x1="338.15" y1="221" x2="338.15" y2="225.6" stroke="rgba(255,235,225,0.42)" stroke-width="0.7"/>
<line x1="352.87" y1="221" x2="352.87" y2="225.6" stroke="rgba(255,235,225,0.42)" stroke-width="0.7"/>
<line x1="359.14" y1="221" x2="359.14" y2="225.6" stroke="rgba(255,235,225,0.42)" stroke-width="0.7"/>
<line x1="365.41" y1="221" x2="365.41" y2="225.6" stroke="rgba(255,235,225,0.42)" stroke-width="0.7"/>
<line x1="371.68" y1="221" x2="371.68" y2="225.6" stroke="rgba(255,235,225,0.42)" stroke-width="0.7"/>
<line x1="377.95" y1="221" x2="377.95" y2="225.6" stroke="rgba(255,235,225,0.42)" stroke-width="0.7"/>
<line x1="384.22" y1="221" x2="384.22" y2="225.6" stroke="rgba(255,235,225,0.42)" stroke-width="0.7"/>
<line x1="390.49" y1="221" x2="390.49" y2="225.6" stroke="rgba(255,235,225,0.42)" stroke-width="0.7"/>
<line x1="396.76" y1="221" x2="396.76" y2="225.6" stroke="rgba(255,235,225,0.42)" stroke-width="0.7"/>
<line x1="403.03" y1="221" x2="403.03" y2="225.6" stroke="rgba(255,235,225,0.42)" stroke-width="0.7"/>
<line x1="409.3" y1="221" x2="409.3" y2="225.6" stroke="rgba(255,235,225,0.42)" stroke-width="0.7"/>
<line x1="415.57" y1="221" x2="415.57" y2="225.6" stroke="rgba(255,235,225,0.42)" stroke-width="0.7"/>
<line x1="421.84" y1="221" x2="421.84" y2="225.6" stroke="rgba(255,235,225,0.42)" stroke-width="0.7"/>
<line x1="428.11" y1="221" x2="428.11" y2="225.6" stroke="rgba(255,235,225,0.42)" stroke-width="0.7"/>
<line x1="434.38" y1="221" x2="434.38" y2="225.6" stroke="rgba(255,235,225,0.42)" stroke-width="0.7"/>
<line x1="440.65" y1="221" x2="440.65" y2="225.6" stroke="rgba(255,235,225,0.42)" stroke-width="0.7"/>
<line x1="446.92" y1="221" x2="446.92" y2="225.6" stroke="rgba(255,235,225,0.42)" stroke-width="0.7"/>
<line x1="453.19" y1="221" x2="453.19" y2="225.6" stroke="rgba(255,235,225,0.42)" stroke-width="0.7"/>
<rect x="306.8" y="227.3" width="37.67" height="4.63" fill="#0a0707"/>
<rect x="346.6" y="227.3" width="6.32" height="4.63" fill="#0a0707"/>
<rect x="352.87" y="227.3" width="50.21" height="4.63" fill="#742218"/>
<rect x="403.03" y="227.3" width="6.32" height="4.63" fill="#aa3322"/>
<rect x="409.3" y="227.3" width="12.59" height="4.63" fill="#742218"/>
<rect x="421.84" y="227.3" width="6.32" height="4.63" fill="#aa3322"/>
<rect x="428.11" y="227.3" width="12.59" height="4.63" fill="#d6432c"/>
<rect x="440.65" y="227.3" width="6.32" height="4.63" fill="#40140f"/>
<rect x="446.92" y="227.3" width="12.59" height="4.63" fill="#0a0707"/>
<rect x="306.8" y="231.88" width="37.67" height="4.63" fill="#0a0707"/>
<rect x="346.6" y="231.88" width="6.32" height="4.63" fill="#40140f"/>
<rect x="352.87" y="231.88" width="50.21" height="4.63" fill="#742218"/>
<rect x="403.03" y="231.88" width="6.32" height="4.63" fill="#40140f"/>
<rect x="409.3" y="231.88" width="37.67" height="4.63" fill="#742218"/>
<rect x="446.92" y="231.88" width="6.32" height="4.63" fill="#0a0707"/>
<rect x="453.19" y="231.88" width="6.32" height="4.63" fill="#40140f"/>
<rect x="306.8" y="236.47" width="37.67" height="4.63" fill="#0a0707"/>
<rect x="346.6" y="236.47" width="18.86" height="4.63" fill="#742218"/>
<rect x="365.41" y="236.47" width="6.32" height="4.63" fill="#40140f"/>
<rect x="371.68" y="236.47" width="6.32" height="4.63" fill="#0a0707"/>
<rect x="377.95" y="236.47" width="18.86" height="4.63" fill="#742218"/>
<rect x="396.76" y="236.47" width="12.59" height="4.63" fill="#40140f"/>
<rect x="409.3" y="236.47" width="6.32" height="4.63" fill="#742218"/>
<rect x="415.57" y="236.47" width="6.32" height="4.63" fill="#40140f"/>
<rect x="421.84" y="236.47" width="12.59" height="4.63" fill="#742218"/>
<rect x="434.38" y="236.47" width="12.59" height="4.63" fill="#40140f"/>
<rect x="446.92" y="236.47" width="6.32" height="4.63" fill="#0a0707"/>
<rect x="453.19" y="236.47" width="6.32" height="4.63" fill="#40140f"/>
<rect x="306.8" y="241.05" width="12.59" height="4.63" fill="#40140f"/>
<rect x="319.34" y="241.05" width="25.13" height="4.63" fill="#0a0707"/>
<rect x="346.6" y="241.05" width="12.59" height="4.63" fill="#742218"/>
<rect x="359.14" y="241.05" width="6.32" height="4.63" fill="#40140f"/>
<rect x="365.41" y="241.05" width="6.32" height="4.63" fill="#742218"/>
<rect x="371.68" y="241.05" width="12.59" height="4.63" fill="#40140f"/>
<rect x="384.22" y="241.05" width="6.32" height="4.63" fill="#742218"/>
<rect x="390.49" y="241.05" width="6.32" height="4.63" fill="#40140f"/>
<rect x="396.76" y="241.05" width="50.21" height="4.63" fill="#742218"/>
<rect x="446.92" y="241.05" width="12.59" height="4.63" fill="#40140f"/>
<rect x="306.8" y="245.63" width="18.86" height="4.63" fill="#aa3322"/>
<rect x="325.61" y="245.63" width="12.59" height="4.63" fill="#742218"/>
<rect x="338.15" y="245.63" width="6.32" height="4.63" fill="#40140f"/>
<rect x="346.6" y="245.63" width="31.4" height="4.63" fill="#aa3322"/>
<rect x="377.95" y="245.63" width="6.32" height="4.63" fill="#742218"/>
<rect x="384.22" y="245.63" width="62.75" height="4.63" fill="#aa3322"/>
<rect x="446.92" y="245.63" width="6.32" height="4.63" fill="#40140f"/>
<rect x="453.19" y="245.63" width="6.32" height="4.63" fill="#0a0707"/>
<rect x="306.8" y="250.22" width="12.59" height="4.63" fill="#742218"/>
<rect x="319.34" y="250.22" width="12.59" height="4.63" fill="#40140f"/>
<rect x="331.88" y="250.22" width="6.32" height="4.63" fill="#742218"/>
<rect x="338.15" y="250.22" width="6.32" height="4.63" fill="#0a0707"/>
<rect x="346.6" y="250.22" width="31.4" height="4.63" fill="#742218"/>
<rect x="377.95" y="250.22" width="6.32" height="4.63" fill="#40140f"/>
<rect x="384.22" y="250.22" width="62.75" height="4.63" fill="#742218"/>
<rect x="446.92" y="250.22" width="12.59" height="4.63" fill="#0a0707"/>
<line x1="313.07" y1="227.3" x2="313.07" y2="254.8" stroke="rgba(255,235,225,0.42)" stroke-width="0.7"/>
<line x1="319.34" y1="227.3" x2="319.34" y2="254.8" stroke="rgba(255,235,225,0.42)" stroke-width="0.7"/>
<line x1="325.61" y1="227.3" x2="325.61" y2="254.8" stroke="rgba(255,235,225,0.42)" stroke-width="0.7"/>
<line x1="331.88" y1="227.3" x2="331.88" y2="254.8" stroke="rgba(255,235,225,0.42)" stroke-width="0.7"/>
<line x1="338.15" y1="227.3" x2="338.15" y2="254.8" stroke="rgba(255,235,225,0.42)" stroke-width="0.7"/>
<line x1="306.8" y1="231.88" x2="344.42" y2="231.88" stroke="rgba(255,235,225,0.42)" stroke-width="0.7"/>
<line x1="306.8" y1="236.47" x2="344.42" y2="236.47" stroke="rgba(255,235,225,0.42)" stroke-width="0.7"/>
<line x1="306.8" y1="241.05" x2="344.42" y2="241.05" stroke="rgba(255,235,225,0.42)" stroke-width="0.7"/>
<line x1="306.8" y1="245.63" x2="344.42" y2="245.63" stroke="rgba(255,235,225,0.42)" stroke-width="0.7"/>
<line x1="306.8" y1="250.22" x2="344.42" y2="250.22" stroke="rgba(255,235,225,0.42)" stroke-width="0.7"/>
<line x1="352.87" y1="227.3" x2="352.87" y2="254.8" stroke="rgba(255,235,225,0.42)" stroke-width="0.7"/>
<line x1="359.14" y1="227.3" x2="359.14" y2="254.8" stroke="rgba(255,235,225,0.42)" stroke-width="0.7"/>
<line x1="365.41" y1="227.3" x2="365.41" y2="254.8" stroke="rgba(255,235,225,0.42)" stroke-width="0.7"/>
<line x1="371.68" y1="227.3" x2="371.68" y2="254.8" stroke="rgba(255,235,225,0.42)" stroke-width="0.7"/>
<line x1="377.95" y1="227.3" x2="377.95" y2="254.8" stroke="rgba(255,235,225,0.42)" stroke-width="0.7"/>
<line x1="384.22" y1="227.3" x2="384.22" y2="254.8" stroke="rgba(255,235,225,0.42)" stroke-width="0.7"/>
<line x1="390.49" y1="227.3" x2="390.49" y2="254.8" stroke="rgba(255,235,225,0.42)" stroke-width="0.7"/>
<line x1="396.76" y1="227.3" x2="396.76" y2="254.8" stroke="rgba(255,235,225,0.42)" stroke-width="0.7"/>
<line x1="403.03" y1="227.3" x2="403.03" y2="254.8" stroke="rgba(255,235,225,0.42)" stroke-width="0.7"/>
<line x1="409.3" y1="227.3" x2="409.3" y2="254.8" stroke="rgba(255,235,225,0.42)" stroke-width="0.7"/>
<line x1="415.57" y1="227.3" x2="415.57" y2="254.8" stroke="rgba(255,235,225,0.42)" stroke-width="0.7"/>
<line x1="421.84" y1="227.3" x2="421.84" y2="254.8" stroke="rgba(255,235,225,0.42)" stroke-width="0.7"/>
<line x1="428.11" y1="227.3" x2="428.11" y2="254.8" stroke="rgba(255,235,225,0.42)" stroke-width="0.7"/>
<line x1="434.38" y1="227.3" x2="434.38" y2="254.8" stroke="rgba(255,235,225,0.42)" stroke-width="0.7"/>
<line x1="440.65" y1="227.3" x2="440.65" y2="254.8" stroke="rgba(255,235,225,0.42)" stroke-width="0.7"/>
<line x1="446.92" y1="227.3" x2="446.92" y2="254.8" stroke="rgba(255,235,225,0.42)" stroke-width="0.7"/>
<line x1="453.19" y1="227.3" x2="453.19" y2="254.8" stroke="rgba(255,235,225,0.42)" stroke-width="0.7"/>
<line x1="346.6" y1="231.88" x2="459.46" y2="231.88" stroke="rgba(255,235,225,0.42)" stroke-width="0.7"/>
<line x1="346.6" y1="236.47" x2="459.46" y2="236.47" stroke="rgba(255,235,225,0.42)" stroke-width="0.7"/>
<line x1="346.6" y1="241.05" x2="459.46" y2="241.05" stroke="rgba(255,235,225,0.42)" stroke-width="0.7"/>
<line x1="346.6" y1="245.63" x2="459.46" y2="245.63" stroke="rgba(255,235,225,0.42)" stroke-width="0.7"/>
<line x1="346.6" y1="250.22" x2="459.46" y2="250.22" stroke="rgba(255,235,225,0.42)" stroke-width="0.7"/>
<rect x="306.8" y="256" width="6.32" height="4.54" fill="#742218"/>
<rect x="313.07" y="256" width="18.86" height="4.54" fill="#aa3322"/>
<rect x="331.88" y="256" width="6.32" height="4.54" fill="#0a0707"/>
<rect x="338.15" y="256" width="6.32" height="4.54" fill="#742218"/>
<rect x="346.6" y="256" width="18.86" height="4.54" fill="#aa3322"/>
<rect x="365.41" y="256" width="25.13" height="4.54" fill="#742218"/>
<rect x="390.49" y="256" width="6.32" height="4.54" fill="#aa3322"/>
<rect x="396.76" y="256" width="25.13" height="4.54" fill="#742218"/>
<rect x="421.84" y="256" width="12.59" height="4.54" fill="#aa3322"/>
<rect x="434.38" y="256" width="6.32" height="4.54" fill="#742218"/>
<rect x="440.65" y="256" width="6.32" height="4.54" fill="#40140f"/>
<rect x="446.92" y="256" width="12.59" height="4.54" fill="#aa3322"/>
<rect x="306.8" y="260.49" width="6.32" height="4.54" fill="#742218"/>
<rect x="313.07" y="260.49" width="12.59" height="4.54" fill="#aa3322"/>
<rect x="325.61" y="260.49" width="6.32" height="4.54" fill="#742218"/>
<rect x="331.88" y="260.49" width="6.32" height="4.54" fill="#0a0707"/>
<rect x="338.15" y="260.49" width="6.32" height="4.54" fill="#742218"/>
<rect x="346.6" y="260.49" width="6.32" height="4.54" fill="#aa3322"/>
<rect x="352.87" y="260.49" width="6.32" height="4.54" fill="#742218"/>
<rect x="359.14" y="260.49" width="6.32" height="4.54" fill="#aa3322"/>
<rect x="365.41" y="260.49" width="12.59" height="4.54" fill="#742218"/>
<rect x="377.95" y="260.49" width="6.32" height="4.54" fill="#aa3322"/>
<rect x="384.22" y="260.49" width="31.4" height="4.54" fill="#742218"/>
<rect x="415.57" y="260.49" width="6.32" height="4.54" fill="#aa3322"/>
<rect x="421.84" y="260.49" width="6.32" height="4.54" fill="#742218"/>
<rect x="428.11" y="260.49" width="6.32" height="4.54" fill="#aa3322"/>
<rect x="434.38" y="260.49" width="6.32" height="4.54" fill="#742218"/>
<rect x="440.65" y="260.49" width="18.86" height="4.54" fill="#aa3322"/>
<rect x="306.8" y="264.98" width="31.4" height="4.54" fill="#aa3322"/>
<rect x="338.15" y="264.98" width="6.32" height="4.54" fill="#742218"/>
<rect x="346.6" y="264.98" width="18.86" height="4.54" fill="#aa3322"/>
<rect x="365.41" y="264.98" width="25.13" height="4.54" fill="#742218"/>
<rect x="390.49" y="264.98" width="6.32" height="4.54" fill="#aa3322"/>
<rect x="396.76" y="264.98" width="18.86" height="4.54" fill="#742218"/>
<rect x="415.57" y="264.98" width="6.32" height="4.54" fill="#aa3322"/>
<rect x="421.84" y="264.98" width="12.59" height="4.54" fill="#742218"/>
<rect x="434.38" y="264.98" width="25.13" height="4.54" fill="#aa3322"/>
<rect x="306.8" y="269.48" width="6.32" height="4.54" fill="#742218"/>
<rect x="313.07" y="269.48" width="6.32" height="4.54" fill="#40140f"/>
<rect x="319.34" y="269.48" width="6.32" height="4.54" fill="#742218"/>
<rect x="325.61" y="269.48" width="6.32" height="4.54" fill="#40140f"/>
<rect x="331.88" y="269.48" width="6.32" height="4.54" fill="#aa3322"/>
<rect x="338.15" y="269.48" width="6.32" height="4.54" fill="#742218"/>
<rect x="346.6" y="269.48" width="6.32" height="4.54" fill="#742218"/>
<rect x="352.87" y="269.48" width="6.32" height="4.54" fill="#aa3322"/>
<rect x="359.14" y="269.48" width="6.32" height="4.54" fill="#742218"/>
<rect x="365.41" y="269.48" width="6.32" height="4.54" fill="#0a0707"/>
<rect x="371.68" y="269.48" width="43.94" height="4.54" fill="#742218"/>
<rect x="415.57" y="269.48" width="6.32" height="4.54" fill="#aa3322"/>
<rect x="421.84" y="269.48" width="25.13" height="4.54" fill="#742218"/>
<rect x="446.92" y="269.48" width="12.59" height="4.54" fill="#aa3322"/>
<rect x="306.8" y="273.97" width="37.67" height="4.54" fill="#aa3322"/>
<rect x="346.6" y="273.97" width="18.86" height="4.54" fill="#aa3322"/>
<rect x="365.41" y="273.97" width="12.59" height="4.54" fill="#742218"/>
<rect x="377.95" y="273.97" width="6.32" height="4.54" fill="#aa3322"/>
<rect x="384.22" y="273.97" width="18.86" height="4.54" fill="#742218"/>
<rect x="403.03" y="273.97" width="6.32" height="4.54" fill="#aa3322"/>
<rect x="409.3" y="273.97" width="37.67" height="4.54" fill="#742218"/>
<rect x="446.92" y="273.97" width="6.32" height="4.54" fill="#aa3322"/>
<rect x="453.19" y="273.97" width="6.32" height="4.54" fill="#742218"/>
<rect x="306.8" y="278.46" width="37.67" height="4.54" fill="#aa3322"/>
<rect x="346.6" y="278.46" width="6.32" height="4.54" fill="#742218"/>
<rect x="352.87" y="278.46" width="6.32" height="4.54" fill="#aa3322"/>
<rect x="359.14" y="278.46" width="37.67" height="4.54" fill="#742218"/>
<rect x="396.76" y="278.46" width="6.32" height="4.54" fill="#aa3322"/>
<rect x="403.03" y="278.46" width="31.4" height="4.54" fill="#742218"/>
<rect x="434.38" y="278.46" width="6.32" height="4.54" fill="#aa3322"/>
<rect x="440.65" y="278.46" width="18.86" height="4.54" fill="#742218"/>
<rect x="306.8" y="282.95" width="37.67" height="4.54" fill="#aa3322"/>
<rect x="346.6" y="282.95" width="18.86" height="4.54" fill="#742218"/>
<rect x="365.41" y="282.95" width="6.32" height="4.54" fill="#aa3322"/>
<rect x="371.68" y="282.95" width="62.75" height="4.54" fill="#742218"/>
<rect x="434.38" y="282.95" width="6.32" height="4.54" fill="#aa3322"/>
<rect x="440.65" y="282.95" width="6.32" height="4.54" fill="#742218"/>
<rect x="446.92" y="282.95" width="6.32" height="4.54" fill="#aa3322"/>
<rect x="453.19" y="282.95" width="6.32" height="4.54" fill="#742218"/>
<rect x="306.8" y="287.45" width="12.59" height="4.54" fill="#aa3322"/>
<rect x="319.34" y="287.45" width="6.32" height="4.54" fill="#d6432c"/>
<rect x="325.61" y="287.45" width="18.86" height="4.54" fill="#aa3322"/>
<rect x="346.6" y="287.45" width="6.32" height="4.54" fill="#742218"/>
<rect x="352.87" y="287.45" width="12.59" height="4.54" fill="#40140f"/>
<rect x="365.41" y="287.45" width="62.75" height="4.54" fill="#742218"/>
<rect x="428.11" y="287.45" width="12.59" height="4.54" fill="#aa3322"/>
<rect x="440.65" y="287.45" width="6.32" height="4.54" fill="#d6432c"/>
<rect x="446.92" y="287.45" width="12.59" height="4.54" fill="#aa3322"/>
<rect x="306.8" y="291.94" width="18.86" height="4.54" fill="#aa3322"/>
<rect x="325.61" y="291.94" width="6.32" height="4.54" fill="#40140f"/>
<rect x="331.88" y="291.94" width="6.32" height="4.54" fill="#742218"/>
<rect x="338.15" y="291.94" width="6.32" height="4.54" fill="#aa3322"/>
<rect x="346.6" y="291.94" width="6.32" height="4.54" fill="#742218"/>
<rect x="352.87" y="291.94" width="6.32" height="4.54" fill="#40140f"/>
<rect x="359.14" y="291.94" width="18.86" height="4.54" fill="#742218"/>
<rect x="377.95" y="291.94" width="6.32" height="4.54" fill="#40140f"/>
<rect x="384.22" y="291.94" width="43.94" height="4.54" fill="#742218"/>
<rect x="428.11" y="291.94" width="12.59" height="4.54" fill="#aa3322"/>
<rect x="440.65" y="291.94" width="18.86" height="4.54" fill="#742218"/>
<rect x="306.8" y="296.43" width="6.32" height="4.54" fill="#40140f"/>
<rect x="313.07" y="296.43" width="6.32" height="4.54" fill="#aa3322"/>
<rect x="319.34" y="296.43" width="6.32" height="4.54" fill="#40140f"/>
<rect x="325.61" y="296.43" width="6.32" height="4.54" fill="#742218"/>
<rect x="331.88" y="296.43" width="6.32" height="4.54" fill="#aa3322"/>
<rect x="338.15" y="296.43" width="6.32" height="4.54" fill="#742218"/>
<rect x="346.6" y="296.43" width="6.32" height="4.54" fill="#40140f"/>
<rect x="352.87" y="296.43" width="37.67" height="4.54" fill="#742218"/>
<rect x="390.49" y="296.43" width="12.59" height="4.54" fill="#40140f"/>
<rect x="403.03" y="296.43" width="56.48" height="4.54" fill="#742218"/>
<rect x="306.8" y="300.92" width="6.32" height="4.54" fill="#aa3322"/>
<rect x="313.07" y="300.92" width="18.86" height="4.54" fill="#742218"/>
<rect x="331.88" y="300.92" width="12.59" height="4.54" fill="#aa3322"/>
<rect x="346.6" y="300.92" width="31.4" height="4.54" fill="#742218"/>
<rect x="377.95" y="300.92" width="6.32" height="4.54" fill="#40140f"/>
<rect x="384.22" y="300.92" width="25.13" height="4.54" fill="#742218"/>
<rect x="409.3" y="300.92" width="6.32" height="4.54" fill="#40140f"/>
<rect x="415.57" y="300.92" width="6.32" height="4.54" fill="#742218"/>
<rect x="421.84" y="300.92" width="6.32" height="4.54" fill="#40140f"/>
<rect x="428.11" y="300.92" width="6.32" height="4.54" fill="#742218"/>
<rect x="434.38" y="300.92" width="6.32" height="4.54" fill="#40140f"/>
<rect x="440.65" y="300.92" width="6.32" height="4.54" fill="#742218"/>
<rect x="446.92" y="300.92" width="6.32" height="4.54" fill="#40140f"/>
<rect x="453.19" y="300.92" width="6.32" height="4.54" fill="#742218"/>
<rect x="306.8" y="305.42" width="18.86" height="4.54" fill="#aa3322"/>
<rect x="325.61" y="305.42" width="6.32" height="4.54" fill="#742218"/>
<rect x="331.88" y="305.42" width="12.59" height="4.54" fill="#aa3322"/>
<rect x="346.6" y="305.42" width="12.59" height="4.54" fill="#40140f"/>
<rect x="359.14" y="305.42" width="6.32" height="4.54" fill="#742218"/>
<rect x="365.41" y="305.42" width="6.32" height="4.54" fill="#40140f"/>
<rect x="371.68" y="305.42" width="6.32" height="4.54" fill="#742218"/>
<rect x="377.95" y="305.42" width="6.32" height="4.54" fill="#40140f"/>
<rect x="384.22" y="305.42" width="6.32" height="4.54" fill="#742218"/>
<rect x="390.49" y="305.42" width="12.59" height="4.54" fill="#40140f"/>
<rect x="403.03" y="305.42" width="6.32" height="4.54" fill="#742218"/>
<rect x="409.3" y="305.42" width="18.86" height="4.54" fill="#40140f"/>
<rect x="428.11" y="305.42" width="6.32" height="4.54" fill="#742218"/>
<rect x="434.38" y="305.42" width="6.32" height="4.54" fill="#40140f"/>
<rect x="440.65" y="305.42" width="12.59" height="4.54" fill="#742218"/>
<rect x="453.19" y="305.42" width="6.32" height="4.54" fill="#40140f"/>
<rect x="306.8" y="309.91" width="12.59" height="4.54" fill="#40140f"/>
<rect x="319.34" y="309.91" width="12.59" height="4.54" fill="#aa3322"/>
<rect x="331.88" y="309.91" width="6.32" height="4.54" fill="#742218"/>
<rect x="338.15" y="309.91" width="6.32" height="4.54" fill="#d6432c"/>
<rect x="346.6" y="309.91" width="6.32" height="4.54" fill="#0a0707"/>
<rect x="352.87" y="309.91" width="50.21" height="4.54" fill="#40140f"/>
<rect x="403.03" y="309.91" width="6.32" height="4.54" fill="#0a0707"/>
<rect x="409.3" y="309.91" width="50.21" height="4.54" fill="#40140f"/>
<line x1="313.07" y1="256" x2="313.07" y2="314.4" stroke="rgba(255,235,225,0.42)" stroke-width="0.7"/>
<line x1="319.34" y1="256" x2="319.34" y2="314.4" stroke="rgba(255,235,225,0.42)" stroke-width="0.7"/>
<line x1="325.61" y1="256" x2="325.61" y2="314.4" stroke="rgba(255,235,225,0.42)" stroke-width="0.7"/>
<line x1="331.88" y1="256" x2="331.88" y2="314.4" stroke="rgba(255,235,225,0.42)" stroke-width="0.7"/>
<line x1="338.15" y1="256" x2="338.15" y2="314.4" stroke="rgba(255,235,225,0.42)" stroke-width="0.7"/>
<line x1="306.8" y1="260.49" x2="344.42" y2="260.49" stroke="rgba(255,235,225,0.42)" stroke-width="0.7"/>
<line x1="306.8" y1="264.98" x2="344.42" y2="264.98" stroke="rgba(255,235,225,0.42)" stroke-width="0.7"/>
<line x1="306.8" y1="269.48" x2="344.42" y2="269.48" stroke="rgba(255,235,225,0.42)" stroke-width="0.7"/>
<line x1="306.8" y1="273.97" x2="344.42" y2="273.97" stroke="rgba(255,235,225,0.42)" stroke-width="0.7"/>
<line x1="306.8" y1="278.46" x2="344.42" y2="278.46" stroke="rgba(255,235,225,0.42)" stroke-width="0.7"/>
<line x1="306.8" y1="282.95" x2="344.42" y2="282.95" stroke="rgba(255,235,225,0.42)" stroke-width="0.7"/>
<line x1="306.8" y1="287.45" x2="344.42" y2="287.45" stroke="rgba(255,235,225,0.42)" stroke-width="0.7"/>
<line x1="306.8" y1="291.94" x2="344.42" y2="291.94" stroke="rgba(255,235,225,0.42)" stroke-width="0.7"/>
<line x1="306.8" y1="296.43" x2="344.42" y2="296.43" stroke="rgba(255,235,225,0.42)" stroke-width="0.7"/>
<line x1="306.8" y1="300.92" x2="344.42" y2="300.92" stroke="rgba(255,235,225,0.42)" stroke-width="0.7"/>
<line x1="306.8" y1="305.42" x2="344.42" y2="305.42" stroke="rgba(255,235,225,0.42)" stroke-width="0.7"/>
<line x1="306.8" y1="309.91" x2="344.42" y2="309.91" stroke="rgba(255,235,225,0.42)" stroke-width="0.7"/>
<line x1="352.87" y1="256" x2="352.87" y2="314.4" stroke="rgba(255,235,225,0.42)" stroke-width="0.7"/>
<line x1="359.14" y1="256" x2="359.14" y2="314.4" stroke="rgba(255,235,225,0.42)" stroke-width="0.7"/>
<line x1="365.41" y1="256" x2="365.41" y2="314.4" stroke="rgba(255,235,225,0.42)" stroke-width="0.7"/>
<line x1="371.68" y1="256" x2="371.68" y2="314.4" stroke="rgba(255,235,225,0.42)" stroke-width="0.7"/>
<line x1="377.95" y1="256" x2="377.95" y2="314.4" stroke="rgba(255,235,225,0.42)" stroke-width="0.7"/>
<line x1="384.22" y1="256" x2="384.22" y2="314.4" stroke="rgba(255,235,225,0.42)" stroke-width="0.7"/>
<line x1="390.49" y1="256" x2="390.49" y2="314.4" stroke="rgba(255,235,225,0.42)" stroke-width="0.7"/>
<line x1="396.76" y1="256" x2="396.76" y2="314.4" stroke="rgba(255,235,225,0.42)" stroke-width="0.7"/>
<line x1="403.03" y1="256" x2="403.03" y2="314.4" stroke="rgba(255,235,225,0.42)" stroke-width="0.7"/>
<line x1="409.3" y1="256" x2="409.3" y2="314.4" stroke="rgba(255,235,225,0.42)" stroke-width="0.7"/>
<line x1="415.57" y1="256" x2="415.57" y2="314.4" stroke="rgba(255,235,225,0.42)" stroke-width="0.7"/>
<line x1="421.84" y1="256" x2="421.84" y2="314.4" stroke="rgba(255,235,225,0.42)" stroke-width="0.7"/>
<line x1="428.11" y1="256" x2="428.11" y2="314.4" stroke="rgba(255,235,225,0.42)" stroke-width="0.7"/>
<line x1="434.38" y1="256" x2="434.38" y2="314.4" stroke="rgba(255,235,225,0.42)" stroke-width="0.7"/>
<line x1="440.65" y1="256" x2="440.65" y2="314.4" stroke="rgba(255,235,225,0.42)" stroke-width="0.7"/>
<line x1="446.92" y1="256" x2="446.92" y2="314.4" stroke="rgba(255,235,225,0.42)" stroke-width="0.7"/>
<line x1="453.19" y1="256" x2="453.19" y2="314.4" stroke="rgba(255,235,225,0.42)" stroke-width="0.7"/>
<line x1="346.6" y1="260.49" x2="459.46" y2="260.49" stroke="rgba(255,235,225,0.42)" stroke-width="0.7"/>
<line x1="346.6" y1="264.98" x2="459.46" y2="264.98" stroke="rgba(255,235,225,0.42)" stroke-width="0.7"/>
<line x1="346.6" y1="269.48" x2="459.46" y2="269.48" stroke="rgba(255,235,225,0.42)" stroke-width="0.7"/>
<line x1="346.6" y1="273.97" x2="459.46" y2="273.97" stroke="rgba(255,235,225,0.42)" stroke-width="0.7"/>
<line x1="346.6" y1="278.46" x2="459.46" y2="278.46" stroke="rgba(255,235,225,0.42)" stroke-width="0.7"/>
<line x1="346.6" y1="282.95" x2="459.46" y2="282.95" stroke="rgba(255,235,225,0.42)" stroke-width="0.7"/>
<line x1="346.6" y1="287.45" x2="459.46" y2="287.45" stroke="rgba(255,235,225,0.42)" stroke-width="0.7"/>
<line x1="346.6" y1="291.94" x2="459.46" y2="291.94" stroke="rgba(255,235,225,0.42)" stroke-width="0.7"/>
<line x1="346.6" y1="296.43" x2="459.46" y2="296.43" stroke="rgba(255,235,225,0.42)" stroke-width="0.7"/>
<line x1="346.6" y1="300.92" x2="459.46" y2="300.92" stroke="rgba(255,235,225,0.42)" stroke-width="0.7"/>
<line x1="346.6" y1="305.42" x2="459.46" y2="305.42" stroke="rgba(255,235,225,0.42)" stroke-width="0.7"/>
<line x1="346.6" y1="309.91" x2="459.46" y2="309.91" stroke="rgba(255,235,225,0.42)" stroke-width="0.7"/>
<rect x="306.8" y="316" width="37.67" height="4.52" fill="#0a0707"/>
<rect x="346.6" y="316" width="12.59" height="4.52" fill="#0a0707"/>
<rect x="359.14" y="316" width="6.32" height="4.52" fill="#26100c"/>
<rect x="365.41" y="316" width="6.32" height="4.52" fill="#0a0707"/>
<rect x="371.68" y="316" width="6.32" height="4.52" fill="#26100c"/>
<rect x="377.95" y="316" width="18.86" height="4.52" fill="#0a0707"/>
<rect x="396.76" y="316" width="6.32" height="4.52" fill="#26100c"/>
<rect x="403.03" y="316" width="18.86" height="4.52" fill="#0a0707"/>
<rect x="421.84" y="316" width="6.32" height="4.52" fill="#26100c"/>
<rect x="428.11" y="316" width="25.13" height="4.52" fill="#0a0707"/>
<rect x="453.19" y="316" width="6.32" height="4.52" fill="#26100c"/>
<rect x="306.8" y="320.47" width="37.67" height="4.52" fill="#0a0707"/>
<rect x="346.6" y="320.47" width="6.32" height="4.52" fill="#0a0707"/>
<rect x="352.87" y="320.47" width="6.32" height="4.52" fill="#26100c"/>
<rect x="359.14" y="320.47" width="50.21" height="4.52" fill="#0a0707"/>
<rect x="409.3" y="320.47" width="6.32" height="4.52" fill="#26100c"/>
<rect x="415.57" y="320.47" width="31.4" height="4.52" fill="#0a0707"/>
<rect x="446.92" y="320.47" width="6.32" height="4.52" fill="#26100c"/>
<rect x="453.19" y="320.47" width="6.32" height="4.52" fill="#0a0707"/>
<rect x="306.8" y="324.95" width="37.67" height="4.52" fill="#0a0707"/>
<rect x="346.6" y="324.95" width="25.13" height="4.52" fill="#0a0707"/>
<rect x="371.68" y="324.95" width="6.32" height="4.52" fill="#26100c"/>
<rect x="377.95" y="324.95" width="6.32" height="4.52" fill="#0a0707"/>
<rect x="384.22" y="324.95" width="6.32" height="4.52" fill="#26100c"/>
<rect x="390.49" y="324.95" width="43.94" height="4.52" fill="#0a0707"/>
<rect x="434.38" y="324.95" width="6.32" height="4.52" fill="#26100c"/>
<rect x="440.65" y="324.95" width="18.86" height="4.52" fill="#0a0707"/>
<rect x="306.8" y="329.42" width="37.67" height="4.52" fill="#0a0707"/>
<rect x="346.6" y="329.42" width="6.32" height="4.52" fill="#26100c"/>
<rect x="352.87" y="329.42" width="75.29" height="4.52" fill="#0a0707"/>
<rect x="428.11" y="329.42" width="6.32" height="4.52" fill="#26100c"/>
<rect x="434.38" y="329.42" width="25.13" height="4.52" fill="#0a0707"/>
<rect x="306.8" y="333.89" width="37.67" height="4.52" fill="#0a0707"/>
<rect x="346.6" y="333.89" width="18.86" height="4.52" fill="#0a0707"/>
<rect x="365.41" y="333.89" width="6.32" height="4.52" fill="#26100c"/>
<rect x="371.68" y="333.89" width="31.4" height="4.52" fill="#0a0707"/>
<rect x="403.03" y="333.89" width="6.32" height="4.52" fill="#26100c"/>
<rect x="409.3" y="333.89" width="6.32" height="4.52" fill="#0a0707"/>
<rect x="415.57" y="333.89" width="6.32" height="4.52" fill="#aa3322"/>
<rect x="421.84" y="333.89" width="37.67" height="4.52" fill="#0a0707"/>
<rect x="306.8" y="338.37" width="37.67" height="4.52" fill="#0a0707"/>
<rect x="346.6" y="338.37" width="12.59" height="4.52" fill="#0a0707"/>
<rect x="359.14" y="338.37" width="6.32" height="4.52" fill="#26100c"/>
<rect x="365.41" y="338.37" width="18.86" height="4.52" fill="#0a0707"/>
<rect x="384.22" y="338.37" width="6.32" height="4.52" fill="#26100c"/>
<rect x="390.49" y="338.37" width="56.48" height="4.52" fill="#0a0707"/>
<rect x="446.92" y="338.37" width="6.32" height="4.52" fill="#26100c"/>
<rect x="453.19" y="338.37" width="6.32" height="4.52" fill="#0a0707"/>
<rect x="306.8" y="342.84" width="37.67" height="4.52" fill="#0a0707"/>
<rect x="346.6" y="342.84" width="43.94" height="4.52" fill="#0a0707"/>
<rect x="390.49" y="342.84" width="6.32" height="4.52" fill="#26100c"/>
<rect x="396.76" y="342.84" width="25.13" height="4.52" fill="#0a0707"/>
<rect x="421.84" y="342.84" width="6.32" height="4.52" fill="#26100c"/>
<rect x="428.11" y="342.84" width="31.4" height="4.52" fill="#0a0707"/>
<rect x="306.8" y="347.31" width="37.67" height="4.52" fill="#0a0707"/>
<rect x="346.6" y="347.31" width="6.32" height="4.52" fill="#26100c"/>
<rect x="352.87" y="347.31" width="87.83" height="4.52" fill="#0a0707"/>
<rect x="440.65" y="347.31" width="6.32" height="4.52" fill="#26100c"/>
<rect x="446.92" y="347.31" width="12.59" height="4.52" fill="#0a0707"/>
<rect x="306.8" y="351.78" width="37.67" height="4.52" fill="#0a0707"/>
<rect x="346.6" y="351.78" width="18.86" height="4.52" fill="#0a0707"/>
<rect x="365.41" y="351.78" width="6.32" height="4.52" fill="#26100c"/>
<rect x="371.68" y="351.78" width="31.4" height="4.52" fill="#0a0707"/>
<rect x="403.03" y="351.78" width="6.32" height="4.52" fill="#26100c"/>
<rect x="409.3" y="351.78" width="50.21" height="4.52" fill="#0a0707"/>
<rect x="306.8" y="356.26" width="37.67" height="4.52" fill="#0a0707"/>
<rect x="346.6" y="356.26" width="37.67" height="4.52" fill="#0a0707"/>
<rect x="384.22" y="356.26" width="6.32" height="4.52" fill="#26100c"/>
<rect x="390.49" y="356.26" width="43.94" height="4.52" fill="#0a0707"/>
<rect x="434.38" y="356.26" width="6.32" height="4.52" fill="#26100c"/>
<rect x="440.65" y="356.26" width="18.86" height="4.52" fill="#0a0707"/>
<rect x="306.8" y="360.73" width="37.67" height="4.52" fill="#0a0707"/>
<rect x="346.6" y="360.73" width="6.32" height="4.52" fill="#0a0707"/>
<rect x="352.87" y="360.73" width="6.32" height="4.52" fill="#26100c"/>
<rect x="359.14" y="360.73" width="62.75" height="4.52" fill="#0a0707"/>
<rect x="421.84" y="360.73" width="6.32" height="4.52" fill="#26100c"/>
<rect x="428.11" y="360.73" width="31.4" height="4.52" fill="#0a0707"/>
<rect x="306.8" y="365.2" width="37.67" height="4.52" fill="#0a0707"/>
<rect x="346.6" y="365.2" width="25.13" height="4.52" fill="#0a0707"/>
<rect x="371.68" y="365.2" width="6.32" height="4.52" fill="#26100c"/>
<rect x="377.95" y="365.2" width="69.02" height="4.52" fill="#0a0707"/>
<rect x="446.92" y="365.2" width="6.32" height="4.52" fill="#26100c"/>
<rect x="453.19" y="365.2" width="6.32" height="4.52" fill="#0a0707"/>
<rect x="306.8" y="369.68" width="37.67" height="4.52" fill="#0a0707"/>
<rect x="346.6" y="369.68" width="6.32" height="4.52" fill="#0a0707"/>
<rect x="352.87" y="369.68" width="18.86" height="4.52" fill="#d6432c"/>
<rect x="371.68" y="369.68" width="25.13" height="4.52" fill="#0a0707"/>
<rect x="396.76" y="369.68" width="6.32" height="4.52" fill="#d6432c"/>
<rect x="403.03" y="369.68" width="6.32" height="4.52" fill="#0a0707"/>
<rect x="409.3" y="369.68" width="6.32" height="4.52" fill="#d6432c"/>
<rect x="415.57" y="369.68" width="12.59" height="4.52" fill="#0a0707"/>
<rect x="428.11" y="369.68" width="6.32" height="4.52" fill="#aa3322"/>
<rect x="434.38" y="369.68" width="6.32" height="4.52" fill="#742218"/>
<rect x="440.65" y="369.68" width="6.32" height="4.52" fill="#e2502a"/>
<rect x="446.92" y="369.68" width="12.59" height="4.52" fill="#0a0707"/>
<rect x="306.8" y="374.15" width="18.86" height="4.52" fill="#0a0707"/>
<rect x="325.61" y="374.15" width="6.32" height="4.52" fill="#40140f"/>
<rect x="331.88" y="374.15" width="12.59" height="4.52" fill="#0a0707"/>
<rect x="346.6" y="374.15" width="94.1" height="4.52" fill="#0a0707"/>
<rect x="440.65" y="374.15" width="6.32" height="4.52" fill="#e2502a"/>
<rect x="446.92" y="374.15" width="12.59" height="4.52" fill="#0a0707"/>
<rect x="306.8" y="378.62" width="12.59" height="4.52" fill="#0a0707"/>
<rect x="319.34" y="378.62" width="6.32" height="4.52" fill="#d6432c"/>
<rect x="325.61" y="378.62" width="6.32" height="4.52" fill="#0a0707"/>
<rect x="331.88" y="378.62" width="6.32" height="4.52" fill="#40140f"/>
<rect x="338.15" y="378.62" width="6.32" height="4.52" fill="#0a0707"/>
<rect x="346.6" y="378.62" width="31.4" height="4.52" fill="#0a0707"/>
<rect x="377.95" y="378.62" width="6.32" height="4.52" fill="#aa3322"/>
<rect x="384.22" y="378.62" width="75.29" height="4.52" fill="#0a0707"/>
<rect x="306.8" y="383.1" width="12.59" height="4.52" fill="#26100c"/>
<rect x="319.34" y="383.1" width="6.32" height="4.52" fill="#40140f"/>
<rect x="325.61" y="383.1" width="6.32" height="4.52" fill="#aa3322"/>
<rect x="331.88" y="383.1" width="6.32" height="4.52" fill="#26100c"/>
<rect x="338.15" y="383.1" width="6.32" height="4.52" fill="#40140f"/>
<rect x="346.6" y="383.1" width="6.32" height="4.52" fill="#0a0707"/>
<rect x="352.87" y="383.1" width="6.32" height="4.52" fill="#26100c"/>
<rect x="359.14" y="383.1" width="6.32" height="4.52" fill="#0a0707"/>
<rect x="365.41" y="383.1" width="6.32" height="4.52" fill="#26100c"/>
<rect x="371.68" y="383.1" width="18.86" height="4.52" fill="#0a0707"/>
<rect x="390.49" y="383.1" width="6.32" height="4.52" fill="#26100c"/>
<rect x="396.76" y="383.1" width="6.32" height="4.52" fill="#0a0707"/>
<rect x="403.03" y="383.1" width="6.32" height="4.52" fill="#26100c"/>
<rect x="409.3" y="383.1" width="12.59" height="4.52" fill="#0a0707"/>
<rect x="421.84" y="383.1" width="6.32" height="4.52" fill="#26100c"/>
<rect x="428.11" y="383.1" width="6.32" height="4.52" fill="#0a0707"/>
<rect x="434.38" y="383.1" width="6.32" height="4.52" fill="#26100c"/>
<rect x="440.65" y="383.1" width="18.86" height="4.52" fill="#0a0707"/>
<rect x="306.8" y="387.57" width="6.32" height="4.52" fill="#26100c"/>
<rect x="313.07" y="387.57" width="6.32" height="4.52" fill="#40140f"/>
<rect x="319.34" y="387.57" width="6.32" height="4.52" fill="#aa3322"/>
<rect x="325.61" y="387.57" width="6.32" height="4.52" fill="#40140f"/>
<rect x="331.88" y="387.57" width="6.32" height="4.52" fill="#0a0707"/>
<rect x="338.15" y="387.57" width="6.32" height="4.52" fill="#26100c"/>
<rect x="346.6" y="387.57" width="12.59" height="4.52" fill="#0a0707"/>
<rect x="359.14" y="387.57" width="6.32" height="4.52" fill="#26100c"/>
<rect x="365.41" y="387.57" width="12.59" height="4.52" fill="#0a0707"/>
<rect x="377.95" y="387.57" width="12.59" height="4.52" fill="#26100c"/>
<rect x="390.49" y="387.57" width="18.86" height="4.52" fill="#0a0707"/>
<rect x="409.3" y="387.57" width="6.32" height="4.52" fill="#26100c"/>
<rect x="415.57" y="387.57" width="6.32" height="4.52" fill="#0a0707"/>
<rect x="421.84" y="387.57" width="6.32" height="4.52" fill="#26100c"/>
<rect x="428.11" y="387.57" width="12.59" height="4.52" fill="#0a0707"/>
<rect x="440.65" y="387.57" width="6.32" height="4.52" fill="#26100c"/>
<rect x="446.92" y="387.57" width="6.32" height="4.52" fill="#0a0707"/>
<rect x="453.19" y="387.57" width="6.32" height="4.52" fill="#40140f"/>
<rect x="306.8" y="392.04" width="12.59" height="4.52" fill="#26100c"/>
<rect x="319.34" y="392.04" width="6.32" height="4.52" fill="#40140f"/>
<rect x="325.61" y="392.04" width="6.32" height="4.52" fill="#aa3322"/>
<rect x="331.88" y="392.04" width="6.32" height="4.52" fill="#40140f"/>
<rect x="338.15" y="392.04" width="6.32" height="4.52" fill="#26100c"/>
<rect x="346.6" y="392.04" width="6.32" height="4.52" fill="#26100c"/>
<rect x="352.87" y="392.04" width="12.59" height="4.52" fill="#0a0707"/>
<rect x="365.41" y="392.04" width="6.32" height="4.52" fill="#26100c"/>
<rect x="371.68" y="392.04" width="18.86" height="4.52" fill="#0a0707"/>
<rect x="390.49" y="392.04" width="6.32" height="4.52" fill="#26100c"/>
<rect x="396.76" y="392.04" width="6.32" height="4.52" fill="#0a0707"/>
<rect x="403.03" y="392.04" width="6.32" height="4.52" fill="#26100c"/>
<rect x="409.3" y="392.04" width="6.32" height="4.52" fill="#0a0707"/>
<rect x="415.57" y="392.04" width="6.32" height="4.52" fill="#26100c"/>
<rect x="421.84" y="392.04" width="6.32" height="4.52" fill="#0a0707"/>
<rect x="428.11" y="392.04" width="6.32" height="4.52" fill="#26100c"/>
<rect x="434.38" y="392.04" width="12.59" height="4.52" fill="#0a0707"/>
<rect x="446.92" y="392.04" width="6.32" height="4.52" fill="#40140f"/>
<rect x="453.19" y="392.04" width="6.32" height="4.52" fill="#0a0707"/>
<rect x="306.8" y="396.52" width="6.32" height="4.52" fill="#26100c"/>
<rect x="313.07" y="396.52" width="18.86" height="4.52" fill="#40140f"/>
<rect x="331.88" y="396.52" width="6.32" height="4.52" fill="#26100c"/>
<rect x="338.15" y="396.52" width="6.32" height="4.52" fill="#40140f"/>
<rect x="346.6" y="396.52" width="6.32" height="4.52" fill="#0a0707"/>
<rect x="352.87" y="396.52" width="12.59" height="4.52" fill="#26100c"/>
<rect x="365.41" y="396.52" width="6.32" height="4.52" fill="#0a0707"/>
<rect x="371.68" y="396.52" width="6.32" height="4.52" fill="#26100c"/>
<rect x="377.95" y="396.52" width="18.86" height="4.52" fill="#0a0707"/>
<rect x="396.76" y="396.52" width="6.32" height="4.52" fill="#26100c"/>
<rect x="403.03" y="396.52" width="6.32" height="4.52" fill="#0a0707"/>
<rect x="409.3" y="396.52" width="6.32" height="4.52" fill="#26100c"/>
<rect x="415.57" y="396.52" width="6.32" height="4.52" fill="#0a0707"/>
<rect x="421.84" y="396.52" width="12.59" height="4.52" fill="#26100c"/>
<rect x="434.38" y="396.52" width="6.32" height="4.52" fill="#0a0707"/>
<rect x="440.65" y="396.52" width="6.32" height="4.52" fill="#26100c"/>
<rect x="446.92" y="396.52" width="12.59" height="4.52" fill="#0a0707"/>
<rect x="306.8" y="400.99" width="6.32" height="4.52" fill="#40140f"/>
<rect x="313.07" y="400.99" width="6.32" height="4.52" fill="#26100c"/>
<rect x="319.34" y="400.99" width="6.32" height="4.52" fill="#aa3322"/>
<rect x="325.61" y="400.99" width="12.59" height="4.52" fill="#40140f"/>
<rect x="338.15" y="400.99" width="6.32" height="4.52" fill="#26100c"/>
<rect x="346.6" y="400.99" width="12.59" height="4.52" fill="#0a0707"/>
<rect x="359.14" y="400.99" width="12.59" height="4.52" fill="#26100c"/>
<rect x="371.68" y="400.99" width="6.32" height="4.52" fill="#40140f"/>
<rect x="377.95" y="400.99" width="12.59" height="4.52" fill="#26100c"/>
<rect x="390.49" y="400.99" width="6.32" height="4.52" fill="#0a0707"/>
<rect x="396.76" y="400.99" width="12.59" height="4.52" fill="#26100c"/>
<rect x="409.3" y="400.99" width="6.32" height="4.52" fill="#0a0707"/>
<rect x="415.57" y="400.99" width="12.59" height="4.52" fill="#26100c"/>
<rect x="428.11" y="400.99" width="6.32" height="4.52" fill="#0a0707"/>
<rect x="434.38" y="400.99" width="12.59" height="4.52" fill="#742218"/>
<rect x="446.92" y="400.99" width="12.59" height="4.52" fill="#0a0707"/>
<rect x="306.8" y="405.46" width="6.32" height="4.52" fill="#40140f"/>
<rect x="313.07" y="405.46" width="12.59" height="4.52" fill="#aa3322"/>
<rect x="325.61" y="405.46" width="6.32" height="4.52" fill="#d6432c"/>
<rect x="331.88" y="405.46" width="6.32" height="4.52" fill="#aa3322"/>
<rect x="338.15" y="405.46" width="6.32" height="4.52" fill="#40140f"/>
<rect x="346.6" y="405.46" width="6.32" height="4.52" fill="#26100c"/>
<rect x="352.87" y="405.46" width="6.32" height="4.52" fill="#0a0707"/>
<rect x="359.14" y="405.46" width="12.59" height="4.52" fill="#26100c"/>
<rect x="371.68" y="405.46" width="12.59" height="4.52" fill="#40140f"/>
<rect x="384.22" y="405.46" width="6.32" height="4.52" fill="#0a0707"/>
<rect x="390.49" y="405.46" width="6.32" height="4.52" fill="#26100c"/>
<rect x="396.76" y="405.46" width="6.32" height="4.52" fill="#0a0707"/>
<rect x="403.03" y="405.46" width="6.32" height="4.52" fill="#40140f"/>
<rect x="409.3" y="405.46" width="12.59" height="4.52" fill="#0a0707"/>
<rect x="421.84" y="405.46" width="6.32" height="4.52" fill="#26100c"/>
<rect x="428.11" y="405.46" width="6.32" height="4.52" fill="#742218"/>
<rect x="434.38" y="405.46" width="6.32" height="4.52" fill="#aa3322"/>
<rect x="440.65" y="405.46" width="6.32" height="4.52" fill="#742218"/>
<rect x="446.92" y="405.46" width="6.32" height="4.52" fill="#0a0707"/>
<rect x="453.19" y="405.46" width="6.32" height="4.52" fill="#40140f"/>
<rect x="306.8" y="409.93" width="12.59" height="4.52" fill="#40140f"/>
<rect x="319.34" y="409.93" width="12.59" height="4.52" fill="#aa3322"/>
<rect x="331.88" y="409.93" width="12.59" height="4.52" fill="#40140f"/>
<rect x="346.6" y="409.93" width="6.32" height="4.52" fill="#0a0707"/>
<rect x="352.87" y="409.93" width="6.32" height="4.52" fill="#26100c"/>
<rect x="359.14" y="409.93" width="6.32" height="4.52" fill="#0a0707"/>
<rect x="365.41" y="409.93" width="25.13" height="4.52" fill="#26100c"/>
<rect x="390.49" y="409.93" width="6.32" height="4.52" fill="#0a0707"/>
<rect x="396.76" y="409.93" width="6.32" height="4.52" fill="#26100c"/>
<rect x="403.03" y="409.93" width="6.32" height="4.52" fill="#0a0707"/>
<rect x="409.3" y="409.93" width="6.32" height="4.52" fill="#26100c"/>
<rect x="415.57" y="409.93" width="6.32" height="4.52" fill="#0a0707"/>
<rect x="421.84" y="409.93" width="12.59" height="4.52" fill="#26100c"/>
<rect x="434.38" y="409.93" width="6.32" height="4.52" fill="#742218"/>
<rect x="440.65" y="409.93" width="6.32" height="4.52" fill="#aa3322"/>
<rect x="446.92" y="409.93" width="6.32" height="4.52" fill="#40140f"/>
<rect x="453.19" y="409.93" width="6.32" height="4.52" fill="#0a0707"/>
<rect x="306.8" y="414.41" width="12.59" height="4.52" fill="#26100c"/>
<rect x="319.34" y="414.41" width="6.32" height="4.52" fill="#40140f"/>
<rect x="325.61" y="414.41" width="6.32" height="4.52" fill="#0a0707"/>
<rect x="331.88" y="414.41" width="6.32" height="4.52" fill="#40140f"/>
<rect x="338.15" y="414.41" width="6.32" height="4.52" fill="#26100c"/>
<rect x="346.6" y="414.41" width="6.32" height="4.52" fill="#26100c"/>
<rect x="352.87" y="414.41" width="6.32" height="4.52" fill="#0a0707"/>
<rect x="359.14" y="414.41" width="6.32" height="4.52" fill="#26100c"/>
<rect x="365.41" y="414.41" width="6.32" height="4.52" fill="#0a0707"/>
<rect x="371.68" y="414.41" width="6.32" height="4.52" fill="#26100c"/>
<rect x="377.95" y="414.41" width="12.59" height="4.52" fill="#0a0707"/>
<rect x="390.49" y="414.41" width="6.32" height="4.52" fill="#26100c"/>
<rect x="396.76" y="414.41" width="6.32" height="4.52" fill="#0a0707"/>
<rect x="403.03" y="414.41" width="6.32" height="4.52" fill="#26100c"/>
<rect x="409.3" y="414.41" width="6.32" height="4.52" fill="#0a0707"/>
<rect x="415.57" y="414.41" width="6.32" height="4.52" fill="#26100c"/>
<rect x="421.84" y="414.41" width="6.32" height="4.52" fill="#0a0707"/>
<rect x="428.11" y="414.41" width="6.32" height="4.52" fill="#40140f"/>
<rect x="434.38" y="414.41" width="12.59" height="4.52" fill="#742218"/>
<rect x="446.92" y="414.41" width="6.32" height="4.52" fill="#40140f"/>
<rect x="453.19" y="414.41" width="6.32" height="4.52" fill="#0a0707"/>
<rect x="306.8" y="418.88" width="12.59" height="4.52" fill="#26100c"/>
<rect x="319.34" y="418.88" width="6.32" height="4.52" fill="#40140f"/>
<rect x="325.61" y="418.88" width="6.32" height="4.52" fill="#26100c"/>
<rect x="331.88" y="418.88" width="6.32" height="4.52" fill="#40140f"/>
<rect x="338.15" y="418.88" width="6.32" height="4.52" fill="#26100c"/>
<rect x="346.6" y="418.88" width="6.32" height="4.52" fill="#0a0707"/>
<rect x="352.87" y="418.88" width="12.59" height="4.52" fill="#26100c"/>
<rect x="365.41" y="418.88" width="6.32" height="4.52" fill="#0a0707"/>
<rect x="371.68" y="418.88" width="25.13" height="4.52" fill="#26100c"/>
<rect x="396.76" y="418.88" width="6.32" height="4.52" fill="#0a0707"/>
<rect x="403.03" y="418.88" width="6.32" height="4.52" fill="#26100c"/>
<rect x="409.3" y="418.88" width="6.32" height="4.52" fill="#0a0707"/>
<rect x="415.57" y="418.88" width="12.59" height="4.52" fill="#26100c"/>
<rect x="428.11" y="418.88" width="12.59" height="4.52" fill="#40140f"/>
<rect x="440.65" y="418.88" width="6.32" height="4.52" fill="#742218"/>
<rect x="446.92" y="418.88" width="12.59" height="4.52" fill="#aa3322"/>
<rect x="306.8" y="423.35" width="6.32" height="4.52" fill="#26100c"/>
<rect x="313.07" y="423.35" width="6.32" height="4.52" fill="#40140f"/>
<rect x="319.34" y="423.35" width="6.32" height="4.52" fill="#0a0707"/>
<rect x="325.61" y="423.35" width="6.32" height="4.52" fill="#26100c"/>
<rect x="331.88" y="423.35" width="6.32" height="4.52" fill="#40140f"/>
<rect x="338.15" y="423.35" width="6.32" height="4.52" fill="#26100c"/>
<rect x="346.6" y="423.35" width="6.32" height="4.52" fill="#0a0707"/>
<rect x="352.87" y="423.35" width="6.32" height="4.52" fill="#26100c"/>
<rect x="359.14" y="423.35" width="6.32" height="4.52" fill="#0a0707"/>
<rect x="365.41" y="423.35" width="18.86" height="4.52" fill="#26100c"/>
<rect x="384.22" y="423.35" width="6.32" height="4.52" fill="#0a0707"/>
<rect x="390.49" y="423.35" width="12.59" height="4.52" fill="#26100c"/>
<rect x="403.03" y="423.35" width="6.32" height="4.52" fill="#0a0707"/>
<rect x="409.3" y="423.35" width="6.32" height="4.52" fill="#26100c"/>
<rect x="415.57" y="423.35" width="6.32" height="4.52" fill="#0a0707"/>
<rect x="421.84" y="423.35" width="12.59" height="4.52" fill="#26100c"/>
<rect x="434.38" y="423.35" width="12.59" height="4.52" fill="#40140f"/>
<rect x="446.92" y="423.35" width="6.32" height="4.52" fill="#aa3322"/>
<rect x="453.19" y="423.35" width="6.32" height="4.52" fill="#d6432c"/>
<rect x="306.8" y="427.83" width="6.32" height="4.52" fill="#d6432c"/>
<rect x="313.07" y="427.83" width="6.32" height="4.52" fill="#742218"/>
<rect x="319.34" y="427.83" width="6.32" height="4.52" fill="#40140f"/>
<rect x="325.61" y="427.83" width="6.32" height="4.52" fill="#d6432c"/>
<rect x="331.88" y="427.83" width="6.32" height="4.52" fill="#742218"/>
<rect x="338.15" y="427.83" width="6.32" height="4.52" fill="#40140f"/>
<rect x="346.6" y="427.83" width="31.4" height="4.52" fill="#26100c"/>
<rect x="377.95" y="427.83" width="6.32" height="4.52" fill="#0a0707"/>
<rect x="384.22" y="427.83" width="6.32" height="4.52" fill="#26100c"/>
<rect x="390.49" y="427.83" width="6.32" height="4.52" fill="#0a0707"/>
<rect x="396.76" y="427.83" width="18.86" height="4.52" fill="#26100c"/>
<rect x="415.57" y="427.83" width="6.32" height="4.52" fill="#0a0707"/>
<rect x="421.84" y="427.83" width="12.59" height="4.52" fill="#26100c"/>
<rect x="434.38" y="427.83" width="6.32" height="4.52" fill="#40140f"/>
<rect x="440.65" y="427.83" width="6.32" height="4.52" fill="#26100c"/>
<rect x="446.92" y="427.83" width="6.32" height="4.52" fill="#d6432c"/>
<rect x="453.19" y="427.83" width="6.32" height="4.52" fill="#aa3322"/>
<line x1="313.07" y1="316" x2="313.07" y2="432.3" stroke="rgba(255,235,225,0.42)" stroke-width="0.7"/>
<line x1="319.34" y1="316" x2="319.34" y2="432.3" stroke="rgba(255,235,225,0.42)" stroke-width="0.7"/>
<line x1="325.61" y1="316" x2="325.61" y2="432.3" stroke="rgba(255,235,225,0.42)" stroke-width="0.7"/>
<line x1="331.88" y1="316" x2="331.88" y2="432.3" stroke="rgba(255,235,225,0.42)" stroke-width="0.7"/>
<line x1="338.15" y1="316" x2="338.15" y2="432.3" stroke="rgba(255,235,225,0.42)" stroke-width="0.7"/>
<line x1="306.8" y1="320.47" x2="344.42" y2="320.47" stroke="rgba(255,235,225,0.42)" stroke-width="0.7"/>
<line x1="306.8" y1="324.95" x2="344.42" y2="324.95" stroke="rgba(255,235,225,0.42)" stroke-width="0.7"/>
<line x1="306.8" y1="329.42" x2="344.42" y2="329.42" stroke="rgba(255,235,225,0.42)" stroke-width="0.7"/>
<line x1="306.8" y1="333.89" x2="344.42" y2="333.89" stroke="rgba(255,235,225,0.42)" stroke-width="0.7"/>
<line x1="306.8" y1="338.37" x2="344.42" y2="338.37" stroke="rgba(255,235,225,0.42)" stroke-width="0.7"/>
<line x1="306.8" y1="342.84" x2="344.42" y2="342.84" stroke="rgba(255,235,225,0.42)" stroke-width="0.7"/>
<line x1="306.8" y1="347.31" x2="344.42" y2="347.31" stroke="rgba(255,235,225,0.42)" stroke-width="0.7"/>
<line x1="306.8" y1="351.78" x2="344.42" y2="351.78" stroke="rgba(255,235,225,0.42)" stroke-width="0.7"/>
<line x1="306.8" y1="356.26" x2="344.42" y2="356.26" stroke="rgba(255,235,225,0.42)" stroke-width="0.7"/>
<line x1="306.8" y1="360.73" x2="344.42" y2="360.73" stroke="rgba(255,235,225,0.42)" stroke-width="0.7"/>
<line x1="306.8" y1="365.2" x2="344.42" y2="365.2" stroke="rgba(255,235,225,0.42)" stroke-width="0.7"/>
<line x1="306.8" y1="369.68" x2="344.42" y2="369.68" stroke="rgba(255,235,225,0.42)" stroke-width="0.7"/>
<line x1="306.8" y1="374.15" x2="344.42" y2="374.15" stroke="rgba(255,235,225,0.42)" stroke-width="0.7"/>
<line x1="306.8" y1="378.62" x2="344.42" y2="378.62" stroke="rgba(255,235,225,0.42)" stroke-width="0.7"/>
<line x1="306.8" y1="383.1" x2="344.42" y2="383.1" stroke="rgba(255,235,225,0.42)" stroke-width="0.7"/>
<line x1="306.8" y1="387.57" x2="344.42" y2="387.57" stroke="rgba(255,235,225,0.42)" stroke-width="0.7"/>
<line x1="306.8" y1="392.04" x2="344.42" y2="392.04" stroke="rgba(255,235,225,0.42)" stroke-width="0.7"/>
<line x1="306.8" y1="396.52" x2="344.42" y2="396.52" stroke="rgba(255,235,225,0.42)" stroke-width="0.7"/>
<line x1="306.8" y1="400.99" x2="344.42" y2="400.99" stroke="rgba(255,235,225,0.42)" stroke-width="0.7"/>
<line x1="306.8" y1="405.46" x2="344.42" y2="405.46" stroke="rgba(255,235,225,0.42)" stroke-width="0.7"/>
<line x1="306.8" y1="409.93" x2="344.42" y2="409.93" stroke="rgba(255,235,225,0.42)" stroke-width="0.7"/>
<line x1="306.8" y1="414.41" x2="344.42" y2="414.41" stroke="rgba(255,235,225,0.42)" stroke-width="0.7"/>
<line x1="306.8" y1="418.88" x2="344.42" y2="418.88" stroke="rgba(255,235,225,0.42)" stroke-width="0.7"/>
<line x1="306.8" y1="423.35" x2="344.42" y2="423.35" stroke="rgba(255,235,225,0.42)" stroke-width="0.7"/>
<line x1="306.8" y1="427.83" x2="344.42" y2="427.83" stroke="rgba(255,235,225,0.42)" stroke-width="0.7"/>
<line x1="352.87" y1="316" x2="352.87" y2="432.3" stroke="rgba(255,235,225,0.42)" stroke-width="0.7"/>
<line x1="359.14" y1="316" x2="359.14" y2="432.3" stroke="rgba(255,235,225,0.42)" stroke-width="0.7"/>
<line x1="365.41" y1="316" x2="365.41" y2="432.3" stroke="rgba(255,235,225,0.42)" stroke-width="0.7"/>
<line x1="371.68" y1="316" x2="371.68" y2="432.3" stroke="rgba(255,235,225,0.42)" stroke-width="0.7"/>
<line x1="377.95" y1="316" x2="377.95" y2="432.3" stroke="rgba(255,235,225,0.42)" stroke-width="0.7"/>
<line x1="384.22" y1="316" x2="384.22" y2="432.3" stroke="rgba(255,235,225,0.42)" stroke-width="0.7"/>
<line x1="390.49" y1="316" x2="390.49" y2="432.3" stroke="rgba(255,235,225,0.42)" stroke-width="0.7"/>
<line x1="396.76" y1="316" x2="396.76" y2="432.3" stroke="rgba(255,235,225,0.42)" stroke-width="0.7"/>
<line x1="403.03" y1="316" x2="403.03" y2="432.3" stroke="rgba(255,235,225,0.42)" stroke-width="0.7"/>
<line x1="409.3" y1="316" x2="409.3" y2="432.3" stroke="rgba(255,235,225,0.42)" stroke-width="0.7"/>
<line x1="415.57" y1="316" x2="415.57" y2="432.3" stroke="rgba(255,235,225,0.42)" stroke-width="0.7"/>
<line x1="421.84" y1="316" x2="421.84" y2="432.3" stroke="rgba(255,235,225,0.42)" stroke-width="0.7"/>
<line x1="428.11" y1="316" x2="428.11" y2="432.3" stroke="rgba(255,235,225,0.42)" stroke-width="0.7"/>
<line x1="434.38" y1="316" x2="434.38" y2="432.3" stroke="rgba(255,235,225,0.42)" stroke-width="0.7"/>
<line x1="440.65" y1="316" x2="440.65" y2="432.3" stroke="rgba(255,235,225,0.42)" stroke-width="0.7"/>
<line x1="446.92" y1="316" x2="446.92" y2="432.3" stroke="rgba(255,235,225,0.42)" stroke-width="0.7"/>
<line x1="453.19" y1="316" x2="453.19" y2="432.3" stroke="rgba(255,235,225,0.42)" stroke-width="0.7"/>
<line x1="346.6" y1="320.47" x2="459.46" y2="320.47" stroke="rgba(255,235,225,0.42)" stroke-width="0.7"/>
<line x1="346.6" y1="324.95" x2="459.46" y2="324.95" stroke="rgba(255,235,225,0.42)" stroke-width="0.7"/>
<line x1="346.6" y1="329.42" x2="459.46" y2="329.42" stroke="rgba(255,235,225,0.42)" stroke-width="0.7"/>
<line x1="346.6" y1="333.89" x2="459.46" y2="333.89" stroke="rgba(255,235,225,0.42)" stroke-width="0.7"/>
<line x1="346.6" y1="338.37" x2="459.46" y2="338.37" stroke="rgba(255,235,225,0.42)" stroke-width="0.7"/>
<line x1="346.6" y1="342.84" x2="459.46" y2="342.84" stroke="rgba(255,235,225,0.42)" stroke-width="0.7"/>
<line x1="346.6" y1="347.31" x2="459.46" y2="347.31" stroke="rgba(255,235,225,0.42)" stroke-width="0.7"/>
<line x1="346.6" y1="351.78" x2="459.46" y2="351.78" stroke="rgba(255,235,225,0.42)" stroke-width="0.7"/>
<line x1="346.6" y1="356.26" x2="459.46" y2="356.26" stroke="rgba(255,235,225,0.42)" stroke-width="0.7"/>
<line x1="346.6" y1="360.73" x2="459.46" y2="360.73" stroke="rgba(255,235,225,0.42)" stroke-width="0.7"/>
<line x1="346.6" y1="365.2" x2="459.46" y2="365.2" stroke="rgba(255,235,225,0.42)" stroke-width="0.7"/>
<line x1="346.6" y1="369.68" x2="459.46" y2="369.68" stroke="rgba(255,235,225,0.42)" stroke-width="0.7"/>
<line x1="346.6" y1="374.15" x2="459.46" y2="374.15" stroke="rgba(255,235,225,0.42)" stroke-width="0.7"/>
<line x1="346.6" y1="378.62" x2="459.46" y2="378.62" stroke="rgba(255,235,225,0.42)" stroke-width="0.7"/>
<line x1="346.6" y1="383.1" x2="459.46" y2="383.1" stroke="rgba(255,235,225,0.42)" stroke-width="0.7"/>
<line x1="346.6" y1="387.57" x2="459.46" y2="387.57" stroke="rgba(255,235,225,0.42)" stroke-width="0.7"/>
<line x1="346.6" y1="392.04" x2="459.46" y2="392.04" stroke="rgba(255,235,225,0.42)" stroke-width="0.7"/>
<line x1="346.6" y1="396.52" x2="459.46" y2="396.52" stroke="rgba(255,235,225,0.42)" stroke-width="0.7"/>
<line x1="346.6" y1="400.99" x2="459.46" y2="400.99" stroke="rgba(255,235,225,0.42)" stroke-width="0.7"/>
<line x1="346.6" y1="405.46" x2="459.46" y2="405.46" stroke="rgba(255,235,225,0.42)" stroke-width="0.7"/>
<line x1="346.6" y1="409.93" x2="459.46" y2="409.93" stroke="rgba(255,235,225,0.42)" stroke-width="0.7"/>
<line x1="346.6" y1="414.41" x2="459.46" y2="414.41" stroke="rgba(255,235,225,0.42)" stroke-width="0.7"/>
<line x1="346.6" y1="418.88" x2="459.46" y2="418.88" stroke="rgba(255,235,225,0.42)" stroke-width="0.7"/>
<line x1="346.6" y1="423.35" x2="459.46" y2="423.35" stroke="rgba(255,235,225,0.42)" stroke-width="0.7"/>
<line x1="346.6" y1="427.83" x2="459.46" y2="427.83" stroke="rgba(255,235,225,0.42)" stroke-width="0.7"/>
<rect x="306.8" y="434" width="37.67" height="4.5" fill="#0a0707"/>
<rect x="346.6" y="434" width="112.91" height="4.5" fill="#0a0707"/>
<rect x="306.8" y="438.45" width="37.67" height="4.5" fill="#0a0707"/>
<rect x="346.6" y="438.45" width="112.91" height="4.5" fill="#0a0707"/>
<rect x="306.8" y="442.9" width="37.67" height="4.5" fill="#0a0707"/>
<rect x="346.6" y="442.9" width="112.91" height="4.5" fill="#0a0707"/>
<rect x="306.8" y="447.35" width="37.67" height="4.5" fill="#0a0707"/>
<rect x="346.6" y="447.35" width="112.91" height="4.5" fill="#0a0707"/>
<rect x="306.8" y="451.8" width="37.67" height="4.5" fill="#0a0707"/>
<rect x="346.6" y="451.8" width="112.91" height="4.5" fill="#0a0707"/>
<rect x="306.8" y="456.25" width="37.67" height="4.5" fill="#0a0707"/>
<rect x="346.6" y="456.25" width="112.91" height="4.5" fill="#0a0707"/>
<rect x="306.8" y="460.7" width="37.67" height="4.5" fill="#0a0707"/>
<rect x="346.6" y="460.7" width="112.91" height="4.5" fill="#0a0707"/>
<rect x="306.8" y="465.15" width="37.67" height="4.5" fill="#0a0707"/>
<rect x="346.6" y="465.15" width="112.91" height="4.5" fill="#0a0707"/>
<rect x="306.8" y="469.6" width="37.67" height="4.5" fill="#0a0707"/>
<rect x="346.6" y="469.6" width="112.91" height="4.5" fill="#0a0707"/>
<rect x="306.8" y="474.05" width="37.67" height="4.5" fill="#0a0707"/>
<rect x="346.6" y="474.05" width="112.91" height="4.5" fill="#0a0707"/>
<line x1="313.07" y1="434" x2="313.07" y2="478.5" stroke="rgba(255,235,225,0.42)" stroke-width="0.7"/>
<line x1="319.34" y1="434" x2="319.34" y2="478.5" stroke="rgba(255,235,225,0.42)" stroke-width="0.7"/>
<line x1="325.61" y1="434" x2="325.61" y2="478.5" stroke="rgba(255,235,225,0.42)" stroke-width="0.7"/>
<line x1="331.88" y1="434" x2="331.88" y2="478.5" stroke="rgba(255,235,225,0.42)" stroke-width="0.7"/>
<line x1="338.15" y1="434" x2="338.15" y2="478.5" stroke="rgba(255,235,225,0.42)" stroke-width="0.7"/>
<line x1="306.8" y1="438.45" x2="344.42" y2="438.45" stroke="rgba(255,235,225,0.42)" stroke-width="0.7"/>
<line x1="306.8" y1="442.9" x2="344.42" y2="442.9" stroke="rgba(255,235,225,0.42)" stroke-width="0.7"/>
<line x1="306.8" y1="447.35" x2="344.42" y2="447.35" stroke="rgba(255,235,225,0.42)" stroke-width="0.7"/>
<line x1="306.8" y1="451.8" x2="344.42" y2="451.8" stroke="rgba(255,235,225,0.42)" stroke-width="0.7"/>
<line x1="306.8" y1="456.25" x2="344.42" y2="456.25" stroke="rgba(255,235,225,0.42)" stroke-width="0.7"/>
<line x1="306.8" y1="460.7" x2="344.42" y2="460.7" stroke="rgba(255,235,225,0.42)" stroke-width="0.7"/>
<line x1="306.8" y1="465.15" x2="344.42" y2="465.15" stroke="rgba(255,235,225,0.42)" stroke-width="0.7"/>
<line x1="306.8" y1="469.6" x2="344.42" y2="469.6" stroke="rgba(255,235,225,0.42)" stroke-width="0.7"/>
<line x1="306.8" y1="474.05" x2="344.42" y2="474.05" stroke="rgba(255,235,225,0.42)" stroke-width="0.7"/>
<line x1="352.87" y1="434" x2="352.87" y2="478.5" stroke="rgba(255,235,225,0.42)" stroke-width="0.7"/>
<line x1="359.14" y1="434" x2="359.14" y2="478.5" stroke="rgba(255,235,225,0.42)" stroke-width="0.7"/>
<line x1="365.41" y1="434" x2="365.41" y2="478.5" stroke="rgba(255,235,225,0.42)" stroke-width="0.7"/>
<line x1="371.68" y1="434" x2="371.68" y2="478.5" stroke="rgba(255,235,225,0.42)" stroke-width="0.7"/>
<line x1="377.95" y1="434" x2="377.95" y2="478.5" stroke="rgba(255,235,225,0.42)" stroke-width="0.7"/>
<line x1="384.22" y1="434" x2="384.22" y2="478.5" stroke="rgba(255,235,225,0.42)" stroke-width="0.7"/>
<line x1="390.49" y1="434" x2="390.49" y2="478.5" stroke="rgba(255,235,225,0.42)" stroke-width="0.7"/>
<line x1="396.76" y1="434" x2="396.76" y2="478.5" stroke="rgba(255,235,225,0.42)" stroke-width="0.7"/>
<line x1="403.03" y1="434" x2="403.03" y2="478.5" stroke="rgba(255,235,225,0.42)" stroke-width="0.7"/>
<line x1="409.3" y1="434" x2="409.3" y2="478.5" stroke="rgba(255,235,225,0.42)" stroke-width="0.7"/>
<line x1="415.57" y1="434" x2="415.57" y2="478.5" stroke="rgba(255,235,225,0.42)" stroke-width="0.7"/>
<line x1="421.84" y1="434" x2="421.84" y2="478.5" stroke="rgba(255,235,225,0.42)" stroke-width="0.7"/>
<line x1="428.11" y1="434" x2="428.11" y2="478.5" stroke="rgba(255,235,225,0.42)" stroke-width="0.7"/>
<line x1="434.38" y1="434" x2="434.38" y2="478.5" stroke="rgba(255,235,225,0.42)" stroke-width="0.7"/>
<line x1="440.65" y1="434" x2="440.65" y2="478.5" stroke="rgba(255,235,225,0.42)" stroke-width="0.7"/>
<line x1="446.92" y1="434" x2="446.92" y2="478.5" stroke="rgba(255,235,225,0.42)" stroke-width="0.7"/>
<line x1="453.19" y1="434" x2="453.19" y2="478.5" stroke="rgba(255,235,225,0.42)" stroke-width="0.7"/>
<line x1="346.6" y1="438.45" x2="459.46" y2="438.45" stroke="rgba(255,235,225,0.42)" stroke-width="0.7"/>
<line x1="346.6" y1="442.9" x2="459.46" y2="442.9" stroke="rgba(255,235,225,0.42)" stroke-width="0.7"/>
<line x1="346.6" y1="447.35" x2="459.46" y2="447.35" stroke="rgba(255,235,225,0.42)" stroke-width="0.7"/>
<line x1="346.6" y1="451.8" x2="459.46" y2="451.8" stroke="rgba(255,235,225,0.42)" stroke-width="0.7"/>
<line x1="346.6" y1="456.25" x2="459.46" y2="456.25" stroke="rgba(255,235,225,0.42)" stroke-width="0.7"/>
<line x1="346.6" y1="460.7" x2="459.46" y2="460.7" stroke="rgba(255,235,225,0.42)" stroke-width="0.7"/>
<line x1="346.6" y1="465.15" x2="459.46" y2="465.15" stroke="rgba(255,235,225,0.42)" stroke-width="0.7"/>
<line x1="346.6" y1="469.6" x2="459.46" y2="469.6" stroke="rgba(255,235,225,0.42)" stroke-width="0.7"/>
<line x1="346.6" y1="474.05" x2="459.46" y2="474.05" stroke="rgba(255,235,225,0.42)" stroke-width="0.7"/>
<rect x="306.8" y="480" width="37.67" height="4.54" fill="#0a0707"/>
<rect x="346.6" y="480" width="112.91" height="4.54" fill="#0a0707"/>
<rect x="306.8" y="484.49" width="12.59" height="4.54" fill="#0a0707"/>
<rect x="319.34" y="484.49" width="12.59" height="4.54" fill="#40140f"/>
<rect x="331.88" y="484.49" width="12.59" height="4.54" fill="#0a0707"/>
<rect x="346.6" y="484.49" width="112.91" height="4.54" fill="#0a0707"/>
<rect x="306.8" y="488.98" width="37.67" height="4.54" fill="#0a0707"/>
<rect x="346.6" y="488.98" width="112.91" height="4.54" fill="#0a0707"/>
<rect x="306.8" y="493.46" width="37.67" height="4.54" fill="#0a0707"/>
<rect x="346.6" y="493.46" width="112.91" height="4.54" fill="#0a0707"/>
<rect x="306.8" y="497.95" width="37.67" height="4.54" fill="#0a0707"/>
<rect x="346.6" y="497.95" width="112.91" height="4.54" fill="#0a0707"/>
<rect x="306.8" y="502.44" width="37.67" height="4.54" fill="#0a0707"/>
<rect x="346.6" y="502.44" width="112.91" height="4.54" fill="#0a0707"/>
<rect x="306.8" y="506.93" width="37.67" height="4.54" fill="#0a0707"/>
<rect x="346.6" y="506.93" width="112.91" height="4.54" fill="#0a0707"/>
<rect x="306.8" y="511.42" width="37.67" height="4.54" fill="#0a0707"/>
<rect x="346.6" y="511.42" width="112.91" height="4.54" fill="#0a0707"/>
<rect x="306.8" y="515.91" width="6.32" height="4.54" fill="#40140f"/>
<rect x="313.07" y="515.91" width="12.59" height="4.54" fill="#0a0707"/>
<rect x="325.61" y="515.91" width="6.32" height="4.54" fill="#40140f"/>
<rect x="331.88" y="515.91" width="12.59" height="4.54" fill="#742218"/>
<rect x="346.6" y="515.91" width="112.91" height="4.54" fill="#0a0707"/>
<rect x="306.8" y="520.39" width="37.67" height="4.54" fill="#0a0707"/>
<rect x="346.6" y="520.39" width="112.91" height="4.54" fill="#0a0707"/>
<rect x="306.8" y="524.88" width="37.67" height="4.54" fill="#0a0707"/>
<rect x="346.6" y="524.88" width="112.91" height="4.54" fill="#0a0707"/>
<rect x="306.8" y="529.37" width="37.67" height="4.54" fill="#0a0707"/>
<rect x="346.6" y="529.37" width="112.91" height="4.54" fill="#0a0707"/>
<rect x="306.8" y="533.86" width="37.67" height="4.54" fill="#0a0707"/>
<rect x="346.6" y="533.86" width="112.91" height="4.54" fill="#0a0707"/>
<rect x="306.8" y="538.35" width="37.67" height="4.54" fill="#0a0707"/>
<rect x="346.6" y="538.35" width="112.91" height="4.54" fill="#0a0707"/>
<rect x="306.8" y="542.84" width="37.67" height="4.54" fill="#0a0707"/>
<rect x="346.6" y="542.84" width="112.91" height="4.54" fill="#0a0707"/>
<rect x="306.8" y="547.32" width="12.59" height="4.54" fill="#0a0707"/>
<rect x="319.34" y="547.32" width="6.32" height="4.54" fill="#40140f"/>
<rect x="325.61" y="547.32" width="18.86" height="4.54" fill="#0a0707"/>
<rect x="346.6" y="547.32" width="112.91" height="4.54" fill="#0a0707"/>
<rect x="306.8" y="551.81" width="37.67" height="4.54" fill="#0a0707"/>
<rect x="346.6" y="551.81" width="112.91" height="4.54" fill="#0a0707"/>
<line x1="313.07" y1="480" x2="313.07" y2="556.3" stroke="rgba(255,235,225,0.42)" stroke-width="0.7"/>
<line x1="319.34" y1="480" x2="319.34" y2="556.3" stroke="rgba(255,235,225,0.42)" stroke-width="0.7"/>
<line x1="325.61" y1="480" x2="325.61" y2="556.3" stroke="rgba(255,235,225,0.42)" stroke-width="0.7"/>
<line x1="331.88" y1="480" x2="331.88" y2="556.3" stroke="rgba(255,235,225,0.42)" stroke-width="0.7"/>
<line x1="338.15" y1="480" x2="338.15" y2="556.3" stroke="rgba(255,235,225,0.42)" stroke-width="0.7"/>
<line x1="306.8" y1="484.49" x2="344.42" y2="484.49" stroke="rgba(255,235,225,0.42)" stroke-width="0.7"/>
<line x1="306.8" y1="488.98" x2="344.42" y2="488.98" stroke="rgba(255,235,225,0.42)" stroke-width="0.7"/>
<line x1="306.8" y1="493.46" x2="344.42" y2="493.46" stroke="rgba(255,235,225,0.42)" stroke-width="0.7"/>
<line x1="306.8" y1="497.95" x2="344.42" y2="497.95" stroke="rgba(255,235,225,0.42)" stroke-width="0.7"/>
<line x1="306.8" y1="502.44" x2="344.42" y2="502.44" stroke="rgba(255,235,225,0.42)" stroke-width="0.7"/>
<line x1="306.8" y1="506.93" x2="344.42" y2="506.93" stroke="rgba(255,235,225,0.42)" stroke-width="0.7"/>
<line x1="306.8" y1="511.42" x2="344.42" y2="511.42" stroke="rgba(255,235,225,0.42)" stroke-width="0.7"/>
<line x1="306.8" y1="515.91" x2="344.42" y2="515.91" stroke="rgba(255,235,225,0.42)" stroke-width="0.7"/>
<line x1="306.8" y1="520.39" x2="344.42" y2="520.39" stroke="rgba(255,235,225,0.42)" stroke-width="0.7"/>
<line x1="306.8" y1="524.88" x2="344.42" y2="524.88" stroke="rgba(255,235,225,0.42)" stroke-width="0.7"/>
<line x1="306.8" y1="529.37" x2="344.42" y2="529.37" stroke="rgba(255,235,225,0.42)" stroke-width="0.7"/>
<line x1="306.8" y1="533.86" x2="344.42" y2="533.86" stroke="rgba(255,235,225,0.42)" stroke-width="0.7"/>
<line x1="306.8" y1="538.35" x2="344.42" y2="538.35" stroke="rgba(255,235,225,0.42)" stroke-width="0.7"/>
<line x1="306.8" y1="542.84" x2="344.42" y2="542.84" stroke="rgba(255,235,225,0.42)" stroke-width="0.7"/>
<line x1="306.8" y1="547.32" x2="344.42" y2="547.32" stroke="rgba(255,235,225,0.42)" stroke-width="0.7"/>
<line x1="306.8" y1="551.81" x2="344.42" y2="551.81" stroke="rgba(255,235,225,0.42)" stroke-width="0.7"/>
<line x1="352.87" y1="480" x2="352.87" y2="556.3" stroke="rgba(255,235,225,0.42)" stroke-width="0.7"/>
<line x1="359.14" y1="480" x2="359.14" y2="556.3" stroke="rgba(255,235,225,0.42)" stroke-width="0.7"/>
<line x1="365.41" y1="480" x2="365.41" y2="556.3" stroke="rgba(255,235,225,0.42)" stroke-width="0.7"/>
<line x1="371.68" y1="480" x2="371.68" y2="556.3" stroke="rgba(255,235,225,0.42)" stroke-width="0.7"/>
<line x1="377.95" y1="480" x2="377.95" y2="556.3" stroke="rgba(255,235,225,0.42)" stroke-width="0.7"/>
<line x1="384.22" y1="480" x2="384.22" y2="556.3" stroke="rgba(255,235,225,0.42)" stroke-width="0.7"/>
<line x1="390.49" y1="480" x2="390.49" y2="556.3" stroke="rgba(255,235,225,0.42)" stroke-width="0.7"/>
<line x1="396.76" y1="480" x2="396.76" y2="556.3" stroke="rgba(255,235,225,0.42)" stroke-width="0.7"/>
<line x1="403.03" y1="480" x2="403.03" y2="556.3" stroke="rgba(255,235,225,0.42)" stroke-width="0.7"/>
<line x1="409.3" y1="480" x2="409.3" y2="556.3" stroke="rgba(255,235,225,0.42)" stroke-width="0.7"/>
<line x1="415.57" y1="480" x2="415.57" y2="556.3" stroke="rgba(255,235,225,0.42)" stroke-width="0.7"/>
<line x1="421.84" y1="480" x2="421.84" y2="556.3" stroke="rgba(255,235,225,0.42)" stroke-width="0.7"/>
<line x1="428.11" y1="480" x2="428.11" y2="556.3" stroke="rgba(255,235,225,0.42)" stroke-width="0.7"/>
<line x1="434.38" y1="480" x2="434.38" y2="556.3" stroke="rgba(255,235,225,0.42)" stroke-width="0.7"/>
<line x1="440.65" y1="480" x2="440.65" y2="556.3" stroke="rgba(255,235,225,0.42)" stroke-width="0.7"/>
<line x1="446.92" y1="480" x2="446.92" y2="556.3" stroke="rgba(255,235,225,0.42)" stroke-width="0.7"/>
<line x1="453.19" y1="480" x2="453.19" y2="556.3" stroke="rgba(255,235,225,0.42)" stroke-width="0.7"/>
<line x1="346.6" y1="484.49" x2="459.46" y2="484.49" stroke="rgba(255,235,225,0.42)" stroke-width="0.7"/>
<line x1="346.6" y1="488.98" x2="459.46" y2="488.98" stroke="rgba(255,235,225,0.42)" stroke-width="0.7"/>
<line x1="346.6" y1="493.46" x2="459.46" y2="493.46" stroke="rgba(255,235,225,0.42)" stroke-width="0.7"/>
<line x1="346.6" y1="497.95" x2="459.46" y2="497.95" stroke="rgba(255,235,225,0.42)" stroke-width="0.7"/>
<line x1="346.6" y1="502.44" x2="459.46" y2="502.44" stroke="rgba(255,235,225,0.42)" stroke-width="0.7"/>
<line x1="346.6" y1="506.93" x2="459.46" y2="506.93" stroke="rgba(255,235,225,0.42)" stroke-width="0.7"/>
<line x1="346.6" y1="511.42" x2="459.46" y2="511.42" stroke="rgba(255,235,225,0.42)" stroke-width="0.7"/>
<line x1="346.6" y1="515.91" x2="459.46" y2="515.91" stroke="rgba(255,235,225,0.42)" stroke-width="0.7"/>
<line x1="346.6" y1="520.39" x2="459.46" y2="520.39" stroke="rgba(255,235,225,0.42)" stroke-width="0.7"/>
<line x1="346.6" y1="524.88" x2="459.46" y2="524.88" stroke="rgba(255,235,225,0.42)" stroke-width="0.7"/>
<line x1="346.6" y1="529.37" x2="459.46" y2="529.37" stroke="rgba(255,235,225,0.42)" stroke-width="0.7"/>
<line x1="346.6" y1="533.86" x2="459.46" y2="533.86" stroke="rgba(255,235,225,0.42)" stroke-width="0.7"/>
<line x1="346.6" y1="538.35" x2="459.46" y2="538.35" stroke="rgba(255,235,225,0.42)" stroke-width="0.7"/>
<line x1="346.6" y1="542.84" x2="459.46" y2="542.84" stroke="rgba(255,235,225,0.42)" stroke-width="0.7"/>
<line x1="346.6" y1="547.32" x2="459.46" y2="547.32" stroke="rgba(255,235,225,0.42)" stroke-width="0.7"/>
<line x1="346.6" y1="551.81" x2="459.46" y2="551.81" stroke="rgba(255,235,225,0.42)" stroke-width="0.7"/>
<g transform="rotate(0.02 487 300)">
<text x="487" y="56.61" font-size="5.0" fill="#2f78c4">AR</text>
<text x="487" y="61.04" font-size="5.0" fill="#2f78c4">HOXB13</text>
<text x="487" y="65.46" font-size="5.0" fill="#2f78c4">NKX3-1</text>
<text x="487" y="69.89" font-size="5.0" fill="#e0473a">PGR</text>
<text x="487" y="76" font-size="5.0" fill="#2f78c4">REST</text>
<text x="487" y="82.27" font-size="5.0" fill="#2f78c4">FOXA1</text>
<text x="487" y="86.83" font-size="5.0" fill="#2f78c4">GRHL2</text>
<text x="487" y="93.06" font-size="5.0" fill="#2f78c4">ZNF217</text>
<text x="487" y="97.58" font-size="5.0" fill="#2f78c4">TRPS1</text>
<text x="487" y="102.09" font-size="5.0" fill="#1a1a1a">TFAP2C</text>
<text x="487" y="106.61" font-size="5.0" fill="#1a1a1a">ZEB1</text>
<text x="487" y="111.12" font-size="5.0" fill="#1a1a1a">KLF5</text>
<text x="487" y="115.64" font-size="5.0" fill="#1a1a1a">KLF15</text>
<text x="487" y="121.54" font-size="5.0" fill="#e0473a">ASCL1</text>
<text x="487" y="126.02" font-size="5.0" fill="#1a1a1a">HEY1</text>
<text x="487" y="130.51" font-size="5.0" fill="#e0473a">RUNX1</text>
<text x="487" y="134.99" font-size="5.0" fill="#1a1a1a">IKZF1</text>
<text x="487" y="139.48" font-size="5.0" fill="#e0473a">BCL11B</text>
<text x="487" y="143.96" font-size="5.0" fill="#1a1a1a">IRF1</text>
<text x="487" y="150.12" font-size="5.0" fill="#e0473a">FOXA2</text>
<text x="487" y="154.55" font-size="5.0" fill="#1a1a1a">EHF</text>
<text x="487" y="158.98" font-size="5.0" fill="#1a1a1a">RXRA</text>
<text x="487" y="163.41" font-size="5.0" fill="#1a1a1a">ETV4</text>
<text x="487" y="167.84" font-size="5.0" fill="#1a1a1a">ETV5</text>
<text x="487" y="172.27" font-size="5.0" fill="#e0473a">FLI1</text>
<text x="487" y="176.7" font-size="5.0" fill="#e0473a">ESRRA</text>
<text x="487" y="181.13" font-size="5.0" fill="#1a1a1a">SPI1</text>
<text x="487" y="185.56" font-size="5.0" fill="#1a1a1a">MYC</text>
<text x="487" y="189.99" font-size="5.0" fill="#1a1a1a">CTCFL</text>
<text x="487" y="197.04" font-size="5.0" fill="#1a1a1a">KLF9</text>
<text x="487" y="201.53" font-size="5.0" fill="#1a1a1a">SP4</text>
<text x="487" y="206.01" font-size="5.0" fill="#1a1a1a">MYCN</text>
<text x="487" y="210.49" font-size="5.0" fill="#1a1a1a">KLF11</text>
<text x="487" y="214.98" font-size="5.0" fill="#1a1a1a">ETV1</text>
<text x="487" y="219.46" font-size="5.0" fill="#1a1a1a">SIX5</text>
<text x="487" y="225.1" font-size="5.0" fill="#1a1a1a">ETS1</text>
<text x="487" y="231.39" font-size="5.0" fill="#2f78c4">HNF4G</text>
<text x="487" y="235.98" font-size="5.0" fill="#e0473a">NR3C1</text>
<text x="487" y="240.56" font-size="5.0" fill="#2f78c4">RARG</text>
<text x="487" y="245.14" font-size="5.0" fill="#2f78c4">NR2F2</text>
<text x="487" y="249.73" font-size="5.0" fill="#e0473a">GATA3</text>
<text x="487" y="254.31" font-size="5.0" fill="#2f78c4">GATA2</text>
<text x="487" y="260.05" font-size="5.0" fill="#e0473a">TEAD1</text>
<text x="487" y="264.54" font-size="5.0" fill="#2f78c4">TEAD3</text>
<text x="487" y="269.03" font-size="5.0" fill="#e0473a">HIF3A</text>
<text x="487" y="273.52" font-size="5.0" fill="#1a1a1a">HOXC5</text>
<text x="487" y="278.02" font-size="5.0" fill="#1a1a1a">E2F7</text>
<text x="487" y="282.51" font-size="5.0" fill="#1a1a1a">CEBPD</text>
<text x="487" y="287" font-size="5.0" fill="#1a1a1a">SOX21</text>
<text x="487" y="291.49" font-size="5.0" fill="#1a1a1a">POU2F2</text>
<text x="487" y="295.98" font-size="5.0" fill="#1a1a1a">ETV6</text>
<text x="487" y="300.48" font-size="5.0" fill="#1a1a1a">SPDEF</text>
<text x="487" y="304.97" font-size="5.0" fill="#1a1a1a">ZIC5</text>
<text x="487" y="309.46" font-size="5.0" fill="#1a1a1a">STAT5A</text>
<text x="487" y="313.95" font-size="5.0" fill="#1a1a1a">PLAG1</text>
<text x="487" y="320.04" font-size="5.0" fill="#e0473a">ESR1</text>
<text x="487" y="324.51" font-size="5.0" fill="#e0473a">ONECUT2</text>
<text x="487" y="328.98" font-size="5.0" fill="#1a1a1a">PRDM6</text>
<text x="487" y="333.46" font-size="5.0" fill="#e0473a">SOX5</text>
<text x="487" y="337.93" font-size="5.0" fill="#1a1a1a">PAX4</text>
<text x="487" y="342.4" font-size="5.0" fill="#1a1a1a">PROX1</text>
<text x="487" y="346.88" font-size="5.0" fill="#1a1a1a">NR2F1</text>
<text x="487" y="351.35" font-size="5.0" fill="#1a1a1a">NR2F6</text>
<text x="487" y="355.82" font-size="5.0" fill="#1a1a1a">MEIS2</text>
<text x="487" y="360.29" font-size="5.0" fill="#1a1a1a">MEIS1</text>
<text x="487" y="364.77" font-size="5.0" fill="#1a1a1a">BATF</text>
<text x="487" y="369.24" font-size="5.0" fill="#1a1a1a">FOXO1</text>
<text x="487" y="373.71" font-size="5.0" fill="#2f78c4">HNF1A</text>
<text x="487" y="378.19" font-size="5.0" fill="#1a1a1a">ZNF488</text>
<text x="487" y="382.66" font-size="5.0" fill="#1a1a1a">ZFHX2</text>
<text x="487" y="387.13" font-size="5.0" fill="#e0473a">POU3F2</text>
<text x="487" y="391.61" font-size="5.0" fill="#e0473a">RAX</text>
<text x="487" y="396.08" font-size="5.0" fill="#1a1a1a">OSR2</text>
<text x="487" y="400.55" font-size="5.0" fill="#2f78c4">ZNF652</text>
<text x="487" y="405.03" font-size="5.0" fill="#1a1a1a">ZEB2</text>
<text x="487" y="409.5" font-size="5.0" fill="#1a1a1a">SCRT2</text>
<text x="487" y="413.97" font-size="5.0" fill="#1a1a1a">BCL11A</text>
<text x="487" y="418.44" font-size="5.0" fill="#1a1a1a">STAT4</text>
<text x="487" y="422.92" font-size="5.0" fill="#1a1a1a">BACH2</text>
<text x="487" y="427.39" font-size="5.0" fill="#1a1a1a">CEBPA</text>
<text x="487" y="431.86" font-size="5.0" fill="#1a1a1a">NKX2-1</text>
<text x="487" y="438.03" font-size="5.0" fill="#1a1a1a">GLIS3</text>
<text x="487" y="442.48" font-size="5.0" fill="#1a1a1a">ISL1</text>
<text x="487" y="446.93" font-size="5.0" fill="#1a1a1a">EOMES</text>
<text x="487" y="451.38" font-size="5.0" fill="#1a1a1a">PAX3</text>
<text x="487" y="455.83" font-size="5.0" fill="#1a1a1a">ESR2</text>
<text x="487" y="460.28" font-size="5.0" fill="#1a1a1a">ZNF516</text>
<text x="487" y="464.73" font-size="5.0" fill="#1a1a1a">TBX2</text>
<text x="487" y="469.18" font-size="5.0" fill="#1a1a1a">TBX1</text>
<text x="487" y="473.63" font-size="5.0" fill="#1a1a1a">TAL1</text>
<text x="487" y="478.08" font-size="5.0" fill="#e0473a">NEUROG2</text>
<text x="487" y="484.04" font-size="5.0" fill="#e0473a">SOX2</text>
<text x="487" y="488.53" font-size="5.0" fill="#e0473a">SOX1</text>
<text x="487" y="493.02" font-size="5.0" fill="#1a1a1a">RUNX3</text>
<text x="487" y="497.51" font-size="5.0" fill="#1a1a1a">NEUROD1</text>
<text x="487" y="502" font-size="5.0" fill="#1a1a1a">NFKB2</text>
<text x="487" y="506.49" font-size="5.0" fill="#1a1a1a">MECOM</text>
<text x="487" y="510.97" font-size="5.0" fill="#e0473a">IRF4</text>
<text x="487" y="515.46" font-size="5.0" fill="#1a1a1a">ZNF467</text>
<text x="487" y="519.95" font-size="5.0" fill="#1a1a1a">TP63</text>
<text x="487" y="524.44" font-size="5.0" fill="#e0473a">E2F1</text>
<text x="487" y="528.93" font-size="5.0" fill="#1a1a1a">GFI1</text>
<text x="487" y="533.41" font-size="5.0" fill="#1a1a1a">TBX3</text>
<text x="487" y="537.9" font-size="5.0" fill="#1a1a1a">BATF3</text>
<text x="487" y="542.39" font-size="5.0" fill="#1a1a1a">HOXC9</text>
<text x="487" y="546.88" font-size="5.0" fill="#e0473a">TP73</text>
<text x="487" y="551.37" font-size="5.0" fill="#1a1a1a">PRDM9</text>
<text x="487" y="555.86" font-size="5.0" fill="#e0473a">TCF4</text>
</g>
<rect x="460.8" y="52.2" width="24.8" height="18.5" fill="none" stroke="#7d7d7d" stroke-width="0.8" rx="0.8"/>
<rect x="460.8" y="71.6" width="24.8" height="5.2" fill="none" stroke="#7d7d7d" stroke-width="0.8" rx="0.8"/>
<rect x="460.8" y="77.8" width="24.8" height="9.9" fill="none" stroke="#7d7d7d" stroke-width="0.8" rx="0.8"/>
<rect x="460.8" y="88.6" width="24.8" height="27.9" fill="none" stroke="#7d7d7d" stroke-width="0.8" rx="0.8"/>
<rect x="460.8" y="117.1" width="24.8" height="27.7" fill="none" stroke="#7d7d7d" stroke-width="0.8" rx="0.8"/>
<rect x="460.8" y="145.7" width="24.8" height="45.1" fill="none" stroke="#7d7d7d" stroke-width="0.8" rx="0.8"/>
<rect x="460.8" y="192.6" width="24.8" height="27.7" fill="none" stroke="#7d7d7d" stroke-width="0.8" rx="0.8"/>
<rect x="460.8" y="220.6" width="24.8" height="5.4" fill="none" stroke="#7d7d7d" stroke-width="0.8" rx="0.8"/>
<rect x="460.8" y="226.9" width="24.8" height="28.3" fill="none" stroke="#7d7d7d" stroke-width="0.8" rx="0.8"/>
<rect x="460.8" y="255.6" width="24.8" height="59.2" fill="none" stroke="#7d7d7d" stroke-width="0.8" rx="0.8"/>
<rect x="460.8" y="315.6" width="24.8" height="117.1" fill="none" stroke="#7d7d7d" stroke-width="0.8" rx="0.8"/>
<rect x="460.8" y="433.6" width="24.8" height="45.3" fill="none" stroke="#7d7d7d" stroke-width="0.8" rx="0.8"/>
<rect x="460.8" y="479.6" width="24.8" height="77.1" fill="none" stroke="#7d7d7d" stroke-width="0.8" rx="0.8"/>
<rect x="461.2" y="69.7" width="24" height="2.4" fill="#a9a9a9"/>
<rect x="461.2" y="86.6" width="24" height="2.2" fill="#a9a9a9"/>
<rect x="473.2" y="53.09" width="7.5" height="3.45" fill="#2e6fbf"/>
<rect x="473.2" y="57.51" width="6.4" height="3.45" fill="#2e6fbf"/>
<rect x="473.2" y="61.94" width="4.8" height="3.45" fill="#2e6fbf"/>
<rect x="473.2" y="66.36" width="3.3" height="3.45" fill="#2e6fbf"/>
<rect x="473.2" y="72.48" width="11.8" height="3.43" fill="#2e6fbf"/>
<rect x="473.2" y="78.7" width="7.8" height="3.55" fill="#2e6fbf"/>
<rect x="473.2" y="83.25" width="8.8" height="3.55" fill="#2e6fbf"/>
<rect x="473.2" y="89.5" width="4.3" height="3.52" fill="#2e6fbf"/>
<rect x="473.2" y="94.01" width="2.3" height="3.52" fill="#2e6fbf"/>
<rect x="472.5" y="98.53" width="1.4" height="3.52" fill="#111"/>
<rect x="472.5" y="103.05" width="1.4" height="3.52" fill="#111"/>
<rect x="472.5" y="107.56" width="1.4" height="3.52" fill="#111"/>
<rect x="472.5" y="112.08" width="1.4" height="3.52" fill="#111"/>
<rect x="467.2" y="117.99" width="6" height="3.5" fill="#d8302c"/>
<rect x="472.5" y="122.48" width="1.4" height="3.5" fill="#111"/>
<rect x="472.4" y="126.96" width="1.4" height="3.5" fill="#d8302c"/>
<rect x="472.5" y="131.44" width="1.4" height="3.5" fill="#111"/>
<rect x="472.4" y="135.93" width="1.4" height="3.5" fill="#d8302c"/>
<rect x="472.5" y="140.41" width="1.4" height="3.5" fill="#111"/>
<rect x="473.2" y="146.59" width="2.5" height="3.46" fill="#2e6fbf"/>
<rect x="472.5" y="151.02" width="1.4" height="3.46" fill="#111"/>
<rect x="472.5" y="155.45" width="1.4" height="3.46" fill="#111"/>
<rect x="472.5" y="159.88" width="1.4" height="3.46" fill="#111"/>
<rect x="472.5" y="164.31" width="1.4" height="3.46" fill="#111"/>
<rect x="472.4" y="168.74" width="1.4" height="3.46" fill="#d8302c"/>
<rect x="473.2" y="173.17" width="1" height="3.46" fill="#2e6fbf"/>
<rect x="472.5" y="177.6" width="1.4" height="3.46" fill="#111"/>
<rect x="472.5" y="182.03" width="1.4" height="3.46" fill="#111"/>
<rect x="472.5" y="186.46" width="1.4" height="3.46" fill="#111"/>
<rect x="472.5" y="193.49" width="1.4" height="3.5" fill="#111"/>
<rect x="472.5" y="197.98" width="1.4" height="3.5" fill="#111"/>
<rect x="472.5" y="202.46" width="1.4" height="3.5" fill="#111"/>
<rect x="472.5" y="206.94" width="1.4" height="3.5" fill="#111"/>
<rect x="472.5" y="211.43" width="1.4" height="3.5" fill="#111"/>
<rect x="472.5" y="215.91" width="1.4" height="3.5" fill="#111"/>
<rect x="470.6" y="221.51" width="3.8" height="3.59" fill="#111"/>
<rect x="473.2" y="227.8" width="2.5" height="3.57" fill="#2e6fbf"/>
<rect x="473.2" y="232.39" width="2" height="3.57" fill="#2e6fbf"/>
<rect x="473.2" y="236.97" width="2" height="3.57" fill="#2e6fbf"/>
<rect x="473.2" y="241.55" width="2" height="3.57" fill="#2e6fbf"/>
<rect x="473.2" y="246.14" width="2" height="3.57" fill="#2e6fbf"/>
<rect x="473.2" y="250.72" width="2" height="3.57" fill="#2e6fbf"/>
<rect x="473.2" y="256.49" width="1.5" height="3.5" fill="#2e6fbf"/>
<rect x="473.2" y="260.99" width="1.2" height="3.5" fill="#2e6fbf"/>
<rect x="473.2" y="265.48" width="1" height="3.5" fill="#2e6fbf"/>
<rect x="472.5" y="269.97" width="1.4" height="3.5" fill="#111"/>
<rect x="472.5" y="274.46" width="1.4" height="3.5" fill="#111"/>
<rect x="472.5" y="278.96" width="1.4" height="3.5" fill="#111"/>
<rect x="472.5" y="283.45" width="1.4" height="3.5" fill="#111"/>
<rect x="472.5" y="287.94" width="1.4" height="3.5" fill="#111"/>
<rect x="472.5" y="292.43" width="1.4" height="3.5" fill="#111"/>
<rect x="472.5" y="296.92" width="1.4" height="3.5" fill="#111"/>
<rect x="472.5" y="301.42" width="1.4" height="3.5" fill="#111"/>
<rect x="472.5" y="305.91" width="1.4" height="3.5" fill="#111"/>
<rect x="472.5" y="310.4" width="1.4" height="3.5" fill="#111"/>
<rect x="473.2" y="316.49" width="0.8" height="3.49" fill="#2e6fbf"/>
<rect x="473.2" y="320.97" width="0.8" height="3.49" fill="#2e6fbf"/>
<rect x="472.5" y="325.44" width="1.4" height="3.49" fill="#111"/>
<rect x="473.2" y="329.91" width="0.8" height="3.49" fill="#2e6fbf"/>
<rect x="472.5" y="334.38" width="1.4" height="3.49" fill="#111"/>
<rect x="472.5" y="338.86" width="1.4" height="3.49" fill="#111"/>
<rect x="472.5" y="343.33" width="1.4" height="3.49" fill="#111"/>
<rect x="472.5" y="347.8" width="1.4" height="3.49" fill="#111"/>
<rect x="472.5" y="352.28" width="1.4" height="3.49" fill="#111"/>
<rect x="472.5" y="356.75" width="1.4" height="3.49" fill="#111"/>
<rect x="472.5" y="361.22" width="1.4" height="3.49" fill="#111"/>
<rect x="472.5" y="365.7" width="1.4" height="3.49" fill="#111"/>
<rect x="473.2" y="370.17" width="2" height="3.49" fill="#2e6fbf"/>
<rect x="472.5" y="374.64" width="1.4" height="3.49" fill="#111"/>
<rect x="472.5" y="379.12" width="1.4" height="3.49" fill="#111"/>
<rect x="472.4" y="383.59" width="1.4" height="3.49" fill="#d8302c"/>
<rect x="472.4" y="388.06" width="1.4" height="3.49" fill="#d8302c"/>
<rect x="472.5" y="392.53" width="1.4" height="3.49" fill="#111"/>
<rect x="473.2" y="397.01" width="0.8" height="3.49" fill="#2e6fbf"/>
<rect x="472.5" y="401.48" width="1.4" height="3.49" fill="#111"/>
<rect x="472.5" y="405.95" width="1.4" height="3.49" fill="#111"/>
<rect x="472.5" y="410.43" width="1.4" height="3.49" fill="#111"/>
<rect x="472.5" y="414.9" width="1.4" height="3.49" fill="#111"/>
<rect x="472.5" y="419.37" width="1.4" height="3.49" fill="#111"/>
<rect x="472.5" y="423.85" width="1.4" height="3.49" fill="#111"/>
<rect x="472.5" y="428.32" width="1.4" height="3.49" fill="#111"/>
<rect x="472.5" y="434.49" width="1.4" height="3.47" fill="#111"/>
<rect x="472.5" y="438.94" width="1.4" height="3.47" fill="#111"/>
<rect x="472.5" y="443.39" width="1.4" height="3.47" fill="#111"/>
<rect x="472.5" y="447.84" width="1.4" height="3.47" fill="#111"/>
<rect x="472.5" y="452.29" width="1.4" height="3.47" fill="#111"/>
<rect x="472.5" y="456.74" width="1.4" height="3.47" fill="#111"/>
<rect x="472.5" y="461.19" width="1.4" height="3.47" fill="#111"/>
<rect x="472.5" y="465.64" width="1.4" height="3.47" fill="#111"/>
<rect x="472.5" y="470.09" width="1.4" height="3.47" fill="#111"/>
<rect x="472.4" y="474.54" width="1.4" height="3.47" fill="#d8302c"/>
<rect x="472.4" y="480.49" width="1.4" height="3.5" fill="#d8302c"/>
<rect x="472.4" y="484.98" width="1.4" height="3.5" fill="#d8302c"/>
<rect x="472.5" y="489.47" width="1.4" height="3.5" fill="#111"/>
<rect x="472.5" y="493.96" width="1.4" height="3.5" fill="#111"/>
<rect x="472.5" y="498.45" width="1.4" height="3.5" fill="#111"/>
<rect x="472.5" y="502.93" width="1.4" height="3.5" fill="#111"/>
<rect x="472.4" y="507.42" width="1.4" height="3.5" fill="#d8302c"/>
<rect x="472.5" y="511.91" width="1.4" height="3.5" fill="#111"/>
<rect x="472.5" y="516.4" width="1.4" height="3.5" fill="#111"/>
<rect x="472.4" y="520.89" width="1.4" height="3.5" fill="#d8302c"/>
<rect x="472.5" y="525.38" width="1.4" height="3.5" fill="#111"/>
<rect x="472.5" y="529.86" width="1.4" height="3.5" fill="#111"/>
<rect x="472.5" y="534.35" width="1.4" height="3.5" fill="#111"/>
<rect x="472.5" y="538.84" width="1.4" height="3.5" fill="#111"/>
<rect x="472.4" y="543.33" width="1.4" height="3.5" fill="#d8302c"/>
<rect x="472.5" y="547.82" width="1.4" height="3.5" fill="#111"/>
<rect x="472.4" y="552.31" width="1.4" height="3.5" fill="#d8302c"/>
<line x1="473.2" y1="556.3" x2="473.2" y2="558.3" stroke="#555" stroke-width="0.5"/>
<line x1="465.6" y1="556.3" x2="465.6" y2="558.3" stroke="#555" stroke-width="0.5"/>
<line x1="480.4" y1="556.3" x2="480.4" y2="558.3" stroke="#555" stroke-width="0.5"/>
<text x="467.9" y="559.4" font-size="7.0" text-anchor="end" transform="rotate(-90 467.9 559.4)">0.5</text>
<text x="474.8" y="559.4" font-size="7.0" text-anchor="end" transform="rotate(-90 474.8 559.4)">0.0</text>
<text x="481.7" y="559.4" font-size="7.0" text-anchor="end" transform="rotate(-90 481.7 559.4)">−0.5</text>
<text x="312.13" y="558.8" font-size="6.1" text-anchor="end" transform="rotate(-90 312.13 558.8)">145–1</text>
<text x="318.4" y="558.8" font-size="6.1" text-anchor="end" transform="rotate(-90 318.4 558.8)">145–2</text>
<text x="324.68" y="558.8" font-size="6.1" text-anchor="end" transform="rotate(-90 324.68 558.8)">49</text>
<text x="330.94" y="558.8" font-size="6.1" text-anchor="end" transform="rotate(-90 330.94 558.8)">93</text>
<text x="337.21" y="558.8" font-size="6.1" text-anchor="end" transform="rotate(-90 337.21 558.8)">173–1</text>
<text x="343.49" y="558.8" font-size="6.1" text-anchor="end" transform="rotate(-90 343.49 558.8)">208–4</text>
<text x="351.94" y="558.8" font-size="6.1" text-anchor="end" transform="rotate(-90 351.94 558.8)">136CR</text>
<text x="358.2" y="558.8" font-size="6.1" text-anchor="end" transform="rotate(-90 358.2 558.8)">70</text>
<text x="364.48" y="558.8" font-size="6.1" text-anchor="end" transform="rotate(-90 364.48 558.8)">70CR</text>
<text x="370.75" y="558.8" font-size="6.1" text-anchor="end" transform="rotate(-90 370.75 558.8)">92</text>
<text x="377.01" y="558.8" font-size="6.1" text-anchor="end" transform="rotate(-90 377.01 558.8)">58</text>
<text x="383.29" y="558.8" font-size="6.1" text-anchor="end" transform="rotate(-90 383.29 558.8)">35</text>
<text x="389.56" y="558.8" font-size="6.1" text-anchor="end" transform="rotate(-90 389.56 558.8)">35CR</text>
<text x="395.82" y="558.8" font-size="6.1" text-anchor="end" transform="rotate(-90 395.82 558.8)">170–2</text>
<text x="402.09" y="558.8" font-size="6.1" text-anchor="end" transform="rotate(-90 402.09 558.8)">235–3</text>
<text x="408.37" y="558.8" font-size="6.1" text-anchor="end" transform="rotate(-90 408.37 558.8)">136</text>
<text x="414.63" y="558.8" font-size="6.1" text-anchor="end" transform="rotate(-90 414.63 558.8)">96</text>
<text x="420.91" y="558.8" font-size="6.1" text-anchor="end" transform="rotate(-90 420.91 558.8)">81</text>
<text x="427.18" y="558.8" font-size="6.1" text-anchor="end" transform="rotate(-90 427.18 558.8)">78</text>
<text x="433.44" y="558.8" font-size="6.1" text-anchor="end" transform="rotate(-90 433.44 558.8)">189–4</text>
<text x="439.71" y="558.8" font-size="6.1" text-anchor="end" transform="rotate(-90 439.71 558.8)">189–3</text>
<text x="445.99" y="558.8" font-size="6.1" text-anchor="end" transform="rotate(-90 445.99 558.8)">174–1</text>
<text x="452.25" y="558.8" font-size="6.1" text-anchor="end" transform="rotate(-90 452.25 558.8)">176CR</text>
<text x="458.52" y="558.8" font-size="6.1" text-anchor="end" transform="rotate(-90 458.52 558.8)">176</text>
<polyline points="298,141.6 287.2,141.6 287.2,404.3 299.5,404.3" fill="none" stroke="#6a6a6a" stroke-width="0.6"/>
<polyline points="301,90 297.9,90 297.9,194 302,194" fill="none" stroke="#6a6a6a" stroke-width="0.6"/>
<polyline points="303,68.4 301,68.4 301,112 303,112" fill="none" stroke="#6a6a6a" stroke-width="0.6"/>
<polyline points="304.5,58 303,58 303,78 304.5,78" fill="none" stroke="#6a6a6a" stroke-width="0.6"/>
<polyline points="304.5,100 303,100 303,125 304.5,125" fill="none" stroke="#6a6a6a" stroke-width="0.6"/>
<polyline points="303.5,160 302,160 302,220 303.5,220" fill="none" stroke="#6a6a6a" stroke-width="0.6"/>
<polyline points="304.5,150 303.5,150 303.5,175 304.5,175" fill="none" stroke="#6a6a6a" stroke-width="0.6"/>
<polyline points="304.5,205 303.5,205 303.5,224 304.5,224" fill="none" stroke="#6a6a6a" stroke-width="0.6"/>
<polyline points="303.5,320.8 299.5,320.8 299.5,488 302.6,488" fill="none" stroke="#6a6a6a" stroke-width="0.6"/>
<polyline points="304.5,270 303.5,270 303.5,379 304.5,379" fill="none" stroke="#6a6a6a" stroke-width="0.6"/>
<polyline points="304.5,240 303.5,240 303.5,300 304.5,300" fill="none" stroke="#6a6a6a" stroke-width="0.6"/>
<polyline points="304.5,436 302.6,436 302.6,527 304.5,527" fill="none" stroke="#6a6a6a" stroke-width="0.6"/>
<polyline points="305.5,445 304.5,445 304.5,470 305.5,470" fill="none" stroke="#6a6a6a" stroke-width="0.6"/>
<polyline points="305.5,490 304.5,490 304.5,550 305.5,550" fill="none" stroke="#6a6a6a" stroke-width="0.6"/>
<polyline points="305.5,330 304.5,330 304.5,420 305.5,420" fill="none" stroke="#6a6a6a" stroke-width="0.6"/>
<defs><linearGradient id="cbar" x1="0" x2="1" y1="0" y2="0"><stop offset="0" stop-color="#000"/><stop offset="0.2" stop-color="#120505"/><stop offset="0.3" stop-color="#6a140e"/><stop offset="0.42" stop-color="#c8281a"/><stop offset="0.6" stop-color="#ef4a24"/><stop offset="0.72" stop-color="#f59a2c"/><stop offset="0.82" stop-color="#f8d430"/><stop offset="1" stop-color="#f8ee3a"/></linearGradient></defs>
<rect x="342.3" y="588.2" width="68.9" height="8.8" fill="url(#cbar)"/>
<line x1="357.7" y1="588.2" x2="357.7" y2="590" stroke="#fff" stroke-width="0.6"/>
<line x1="357.7" y1="595.2" x2="357.7" y2="597" stroke="#fff" stroke-width="0.6"/>
<line x1="370.3" y1="588.2" x2="370.3" y2="590" stroke="#fff" stroke-width="0.6"/>
<line x1="370.3" y1="595.2" x2="370.3" y2="597" stroke="#fff" stroke-width="0.6"/>
<line x1="383.8" y1="588.2" x2="383.8" y2="590" stroke="#fff" stroke-width="0.6"/>
<line x1="383.8" y1="595.2" x2="383.8" y2="597" stroke="#fff" stroke-width="0.6"/>
<line x1="396.5" y1="588.2" x2="396.5" y2="590" stroke="#fff" stroke-width="0.6"/>
<line x1="396.5" y1="595.2" x2="396.5" y2="597" stroke="#fff" stroke-width="0.6"/>
<line x1="409.5" y1="588.2" x2="409.5" y2="590" stroke="#fff" stroke-width="0.6"/>
<line x1="409.5" y1="595.2" x2="409.5" y2="597" stroke="#fff" stroke-width="0.6"/>
<text x="344.6" y="605.5" font-size="7.5" text-anchor="middle">1.2</text>
<text x="358" y="605.5" font-size="7.5" text-anchor="middle">1.0</text>
<text x="370.3" y="605.5" font-size="7.5" text-anchor="middle">0.8</text>
<text x="383.8" y="605.5" font-size="7.5" text-anchor="middle">0.6</text>
<text x="396.5" y="605.5" font-size="7.5" text-anchor="middle">0.4</text>
<text x="409.5" y="605.5" font-size="7.5" text-anchor="middle">0.2</text>
<text x="374.4" y="616.4" font-size="7.5" text-anchor="middle">Normalized composite TFBS coverage</text>
<text x="462.3" y="589.6" font-size="6.6" text-anchor="middle">log<tspan font-size="4.8" dy="1.5">2</tspan><tspan dy="-1.5"> fold</tspan></text>
<text x="462.3" y="596.5" font-size="6.6" text-anchor="middle">change</text>
<text x="498.8" y="575.8" font-size="6.5" text-anchor="middle">Relative</text>
<text x="498.8" y="582.7" font-size="6.5" text-anchor="middle">expression</text>
<text x="498.8" y="589.6" font-size="6.5" text-anchor="middle">in tumors</text>
<text x="498.8" y="596.5" font-size="6.5" text-anchor="middle">(ARPC:NEPC)</text>
<rect x="447" y="599.6" width="30.7" height="17.7" fill="none" stroke="#555" stroke-width="0.6"/>
<rect x="462.3" y="600.4" width="15.2" height="5.4" fill="#2e6fbf"/>
<text x="470" y="604.6" font-size="4.6" text-anchor="middle" fill="#cfe0f5">ARPC</text>
<rect x="447.4" y="606.5" width="14.9" height="4.8" fill="#d8302c"/>
<text x="454.8" y="610.4" font-size="4.6" text-anchor="middle" fill="#f8d0d0">NEPC</text>
<rect x="462.3" y="612" width="2.3" height="3.9" fill="#111"/>
<text x="465.4" y="616" font-size="5.4">N.S.</text>
<rect x="484.6" y="599.6" width="26.9" height="17.7" fill="none" stroke="#555" stroke-width="0.6"/>
<text x="498" y="607" font-size="5.6" text-anchor="middle" fill="#2e6fbf">Up-reg.</text>
<text x="498" y="613.3" font-size="5.6" text-anchor="middle" fill="#d8302c">Down-reg.</text>
</svg>
</body></html>
